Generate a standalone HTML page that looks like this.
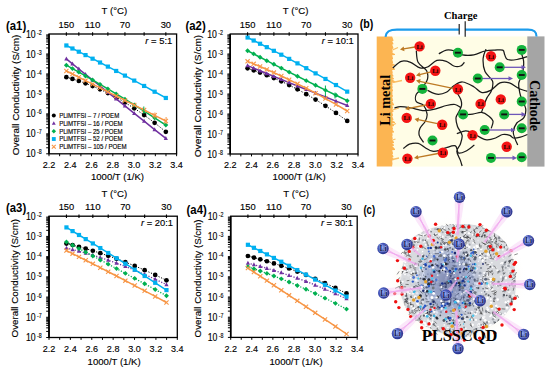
<!DOCTYPE html>
<html><head><meta charset="utf-8"><style>
html,body{margin:0;padding:0;background:#fff;width:550px;height:373px;overflow:hidden}
svg{display:block}
</style></head><body>
<svg width="550" height="373" viewBox="0 0 550 373">
<rect width="550" height="373" fill="#fff"/>
<path d="M66.36 77.21 L72.44 78.92 L78.82 80.94 L85.53 83.31 L92.59 86.09 L100.03 89.32 L107.87 93.08 L116.17 97.44 L124.94 102.48 L134.24 108.3 L144.12 115.03 L154.63 122.81 L165.83 131.8" stroke="#000000" stroke-width="1.0" fill="none" stroke-dasharray="1.2 1.6"/>
<circle cx="66.36" cy="77.21" r="2.35" fill="#000"/>
<circle cx="72.44" cy="78.92" r="2.35" fill="#000"/>
<circle cx="78.82" cy="80.94" r="2.35" fill="#000"/>
<circle cx="85.53" cy="83.31" r="2.35" fill="#000"/>
<circle cx="92.59" cy="86.09" r="2.35" fill="#000"/>
<circle cx="100.03" cy="89.32" r="2.35" fill="#000"/>
<circle cx="107.87" cy="93.08" r="2.35" fill="#000"/>
<circle cx="116.17" cy="97.44" r="2.35" fill="#000"/>
<circle cx="124.94" cy="102.48" r="2.35" fill="#000"/>
<circle cx="134.24" cy="108.3" r="2.35" fill="#000"/>
<circle cx="144.12" cy="115.03" r="2.35" fill="#000"/>
<circle cx="154.63" cy="122.81" r="2.35" fill="#000"/>
<circle cx="165.83" cy="131.8" r="2.35" fill="#000"/>
<path d="M66.36 58.95 L72.44 63.86 L78.82 69 L85.53 74.4 L92.59 80.07 L100.03 86.04 L107.87 92.32 L116.17 98.95 L124.94 105.95 L134.24 113.36 L144.12 121.21 L154.63 129.55 L165.83 138.41" stroke="#7030A0" stroke-width="1.5" fill="none"/>
<path d="M66.36 56.55L68.46 60.55L64.26 60.55Z" fill="#7030A0"/>
<path d="M72.44 61.46L74.54 65.46L70.34 65.46Z" fill="#7030A0"/>
<path d="M78.82 66.6L80.92 70.6L76.72 70.6Z" fill="#7030A0"/>
<path d="M85.53 72L87.63 76L83.43 76Z" fill="#7030A0"/>
<path d="M92.59 77.67L94.69 81.67L90.49 81.67Z" fill="#7030A0"/>
<path d="M100.03 83.64L102.13 87.64L97.93 87.64Z" fill="#7030A0"/>
<path d="M107.87 89.92L109.97 93.92L105.77 93.92Z" fill="#7030A0"/>
<path d="M116.17 96.55L118.27 100.55L114.07 100.55Z" fill="#7030A0"/>
<path d="M124.94 103.55L127.04 107.55L122.84 107.55Z" fill="#7030A0"/>
<path d="M134.24 110.96L136.34 114.96L132.14 114.96Z" fill="#7030A0"/>
<path d="M144.12 118.81L146.22 122.81L142.02 122.81Z" fill="#7030A0"/>
<path d="M154.63 127.15L156.73 131.15L152.53 131.15Z" fill="#7030A0"/>
<path d="M165.83 136.01L167.93 140.01L163.73 140.01Z" fill="#7030A0"/>
<path d="M66.36 65.21 L72.44 68.58 L78.82 72.15 L85.53 75.96 L92.59 80.01 L100.03 84.33 L107.87 88.95 L116.17 93.91 L124.94 99.22 L134.24 104.94 L144.12 111.12 L154.63 117.79 L165.83 125.03" stroke="#00B050" stroke-width="1.5" fill="none"/>
<path d="M66.36 62.76L68.81 65.21L66.36 67.66L63.91 65.21Z" fill="#00B050"/>
<path d="M72.44 66.13L74.89 68.58L72.44 71.03L69.99 68.58Z" fill="#00B050"/>
<path d="M78.82 69.7L81.27 72.15L78.82 74.6L76.37 72.15Z" fill="#00B050"/>
<path d="M85.53 73.51L87.98 75.96L85.53 78.41L83.08 75.96Z" fill="#00B050"/>
<path d="M92.59 77.56L95.04 80.01L92.59 82.46L90.14 80.01Z" fill="#00B050"/>
<path d="M100.03 81.88L102.48 84.33L100.03 86.78L97.58 84.33Z" fill="#00B050"/>
<path d="M107.87 86.5L110.32 88.95L107.87 91.4L105.42 88.95Z" fill="#00B050"/>
<path d="M116.17 91.46L118.62 93.91L116.17 96.36L113.72 93.91Z" fill="#00B050"/>
<path d="M124.94 96.77L127.39 99.22L124.94 101.67L122.49 99.22Z" fill="#00B050"/>
<path d="M134.24 102.49L136.69 104.94L134.24 107.39L131.79 104.94Z" fill="#00B050"/>
<path d="M144.12 108.67L146.57 111.12L144.12 113.57L141.67 111.12Z" fill="#00B050"/>
<path d="M154.63 115.34L157.08 117.79L154.63 120.24L152.18 117.79Z" fill="#00B050"/>
<path d="M165.83 122.58L168.28 125.03L165.83 127.48L163.38 125.03Z" fill="#00B050"/>
<path d="M66.36 45.47 L72.44 48.5 L78.82 51.7 L85.53 55.09 L92.59 58.69 L100.03 62.52 L107.87 66.6 L116.17 70.95 L124.94 75.61 L134.24 80.6 L144.12 85.96 L154.63 91.73 L165.83 97.96" stroke="#00B0F0" stroke-width="1.5" fill="none"/>
<rect x="64.26" y="43.37" width="4.2" height="4.2" fill="#00B0F0"/>
<rect x="70.34" y="46.4" width="4.2" height="4.2" fill="#00B0F0"/>
<rect x="76.72" y="49.6" width="4.2" height="4.2" fill="#00B0F0"/>
<rect x="83.43" y="52.99" width="4.2" height="4.2" fill="#00B0F0"/>
<rect x="90.49" y="56.59" width="4.2" height="4.2" fill="#00B0F0"/>
<rect x="97.93" y="60.42" width="4.2" height="4.2" fill="#00B0F0"/>
<rect x="105.77" y="64.5" width="4.2" height="4.2" fill="#00B0F0"/>
<rect x="114.07" y="68.85" width="4.2" height="4.2" fill="#00B0F0"/>
<rect x="122.84" y="73.51" width="4.2" height="4.2" fill="#00B0F0"/>
<rect x="132.14" y="78.5" width="4.2" height="4.2" fill="#00B0F0"/>
<rect x="142.02" y="83.86" width="4.2" height="4.2" fill="#00B0F0"/>
<rect x="152.53" y="89.63" width="4.2" height="4.2" fill="#00B0F0"/>
<rect x="163.73" y="95.86" width="4.2" height="4.2" fill="#00B0F0"/>
<path d="M66.36 70.99 L72.44 74.04 L78.82 77.24 L85.53 80.6 L92.59 84.14 L100.03 87.88 L107.87 91.81 L116.17 95.98 L124.94 100.39 L134.24 105.06 L144.12 110.03 L154.63 115.32 L165.83 120.96" stroke="#F79646" stroke-width="1.5" fill="none"/>
<path d="M64.26 68.89L68.46 73.09M64.26 73.09L68.46 68.89" stroke="#F79646" stroke-width="1.1" fill="none"/>
<path d="M70.34 71.94L74.54 76.14M70.34 76.14L74.54 71.94" stroke="#F79646" stroke-width="1.1" fill="none"/>
<path d="M76.72 75.14L80.92 79.34M76.72 79.34L80.92 75.14" stroke="#F79646" stroke-width="1.1" fill="none"/>
<path d="M83.43 78.5L87.63 82.7M83.43 82.7L87.63 78.5" stroke="#F79646" stroke-width="1.1" fill="none"/>
<path d="M90.49 82.04L94.69 86.24M90.49 86.24L94.69 82.04" stroke="#F79646" stroke-width="1.1" fill="none"/>
<path d="M97.93 85.78L102.13 89.98M97.93 89.98L102.13 85.78" stroke="#F79646" stroke-width="1.1" fill="none"/>
<path d="M105.77 89.71L109.97 93.91M105.77 93.91L109.97 89.71" stroke="#F79646" stroke-width="1.1" fill="none"/>
<path d="M114.07 93.88L118.27 98.08M114.07 98.08L118.27 93.88" stroke="#F79646" stroke-width="1.1" fill="none"/>
<path d="M122.84 98.29L127.04 102.49M122.84 102.49L127.04 98.29" stroke="#F79646" stroke-width="1.1" fill="none"/>
<path d="M132.14 102.96L136.34 107.16M132.14 107.16L136.34 102.96" stroke="#F79646" stroke-width="1.1" fill="none"/>
<path d="M142.02 107.93L146.22 112.13M142.02 112.13L146.22 107.93" stroke="#F79646" stroke-width="1.1" fill="none"/>
<path d="M152.53 113.22L156.73 117.42M152.53 117.42L156.73 113.22" stroke="#F79646" stroke-width="1.1" fill="none"/>
<path d="M163.73 118.86L167.93 123.06M163.73 123.06L167.93 118.86" stroke="#F79646" stroke-width="1.1" fill="none"/>
<rect x="49" y="34" width="127.6" height="119.8" fill="none" stroke="#000" stroke-width="1.3"/>
<line x1="49" y1="34" x2="49" y2="153.8" stroke="#000" stroke-width="1.6"/>
<path d="M46.2 153.8H49M46.2 147.79H49M46.2 144.27H49M46.2 141.78H49M46.2 139.84H49M46.2 138.26H49M46.2 136.93H49M46.2 135.77H49M46.2 134.75H49M46.2 133.83H49M46.2 127.82H49M46.2 124.31H49M46.2 121.81H49M46.2 119.88H49M46.2 118.3H49M46.2 116.96H49M46.2 115.8H49M46.2 114.78H49M46.2 113.87H49M46.2 107.86H49M46.2 104.34H49M46.2 101.85H49M46.2 99.91H49M46.2 98.33H49M46.2 96.99H49M46.2 95.83H49M46.2 94.81H49M46.2 93.9H49M46.2 87.89H49M46.2 84.37H49M46.2 81.88H49M46.2 79.94H49M46.2 78.36H49M46.2 77.03H49M46.2 75.87H49M46.2 74.85H49M46.2 73.93H49M46.2 67.92H49M46.2 64.41H49M46.2 61.91H49M46.2 59.98H49M46.2 58.4H49M46.2 57.06H49M46.2 55.9H49M46.2 54.88H49M46.2 53.97H49M46.2 47.96H49M46.2 44.44H49M46.2 41.95H49M46.2 40.01H49M46.2 38.43H49M46.2 37.09H49M46.2 35.93H49M46.2 34.91H49" stroke="#000" stroke-width="1.0"/>
<path d="M49 153.8V156.2M59.63 153.8V156.2M70.27 153.8V156.2M80.9 153.8V156.2M91.53 153.8V156.2M102.17 153.8V156.2M112.8 153.8V156.2M123.43 153.8V156.2M134.07 153.8V156.2M144.7 153.8V156.2M155.33 153.8V156.2M165.97 153.8V156.2M176.6 153.8V156.2" stroke="#000" stroke-width="1"/>
<path d="M66.36 32.2V35.8M78.82 32.2V35.8M92.59 32.2V35.8M107.87 32.2V35.8M124.94 32.2V35.8M144.12 32.2V35.8M165.83 32.2V35.8" stroke="#000" stroke-width="1.1"/>
<text x="49" y="168.1" text-anchor="middle" textLength="12.6" lengthAdjust="spacingAndGlyphs" style="font-family:'Liberation Sans',sans-serif;stroke:#000;stroke-width:0.14px;font-size:9.9px" fill="#000">2.2</text>
<text x="70.27" y="168.1" text-anchor="middle" textLength="12.6" lengthAdjust="spacingAndGlyphs" style="font-family:'Liberation Sans',sans-serif;stroke:#000;stroke-width:0.14px;font-size:9.9px" fill="#000">2.4</text>
<text x="91.53" y="168.1" text-anchor="middle" textLength="12.6" lengthAdjust="spacingAndGlyphs" style="font-family:'Liberation Sans',sans-serif;stroke:#000;stroke-width:0.14px;font-size:9.9px" fill="#000">2.6</text>
<text x="112.8" y="168.1" text-anchor="middle" textLength="12.6" lengthAdjust="spacingAndGlyphs" style="font-family:'Liberation Sans',sans-serif;stroke:#000;stroke-width:0.14px;font-size:9.9px" fill="#000">2.8</text>
<text x="134.07" y="168.1" text-anchor="middle" textLength="12.6" lengthAdjust="spacingAndGlyphs" style="font-family:'Liberation Sans',sans-serif;stroke:#000;stroke-width:0.14px;font-size:9.9px" fill="#000">3.0</text>
<text x="155.33" y="168.1" text-anchor="middle" textLength="12.6" lengthAdjust="spacingAndGlyphs" style="font-family:'Liberation Sans',sans-serif;stroke:#000;stroke-width:0.14px;font-size:9.9px" fill="#000">3.2</text>
<text x="176.6" y="168.1" text-anchor="middle" textLength="12.6" lengthAdjust="spacingAndGlyphs" style="font-family:'Liberation Sans',sans-serif;stroke:#000;stroke-width:0.14px;font-size:9.9px" fill="#000">3.4</text>
<text x="66.36" y="27.9" text-anchor="middle" textLength="15.6" lengthAdjust="spacingAndGlyphs" style="font-family:'Liberation Sans',sans-serif;stroke:#000;stroke-width:0.14px;font-size:9.9px" fill="#000">150</text>
<text x="92.59" y="27.9" text-anchor="middle" textLength="15.6" lengthAdjust="spacingAndGlyphs" style="font-family:'Liberation Sans',sans-serif;stroke:#000;stroke-width:0.14px;font-size:9.9px" fill="#000">110</text>
<text x="124.94" y="27.9" text-anchor="middle" textLength="10.4" lengthAdjust="spacingAndGlyphs" style="font-family:'Liberation Sans',sans-serif;stroke:#000;stroke-width:0.14px;font-size:9.9px" fill="#000">70</text>
<text x="165.83" y="27.9" text-anchor="middle" textLength="10.4" lengthAdjust="spacingAndGlyphs" style="font-family:'Liberation Sans',sans-serif;stroke:#000;stroke-width:0.14px;font-size:9.9px" fill="#000">30</text>
<text x="101.6" y="13.9" textLength="25.7" lengthAdjust="spacingAndGlyphs" style="font-family:'Liberation Sans',sans-serif;stroke:#000;stroke-width:0.14px;font-size:9.8px" fill="#000">T (°C)</text>
<text x="90.9" y="180" textLength="53.1" lengthAdjust="spacingAndGlyphs" style="font-family:'Liberation Sans',sans-serif;stroke:#000;stroke-width:0.14px;font-size:9.8px" fill="#000">1000/T (1/K)</text>
<text x="26" y="37.6" textLength="9.7" lengthAdjust="spacingAndGlyphs" style="font-family:'Liberation Sans',sans-serif;stroke:#000;stroke-width:0.14px;font-size:10.1px" fill="#000">10</text>
<text x="37" y="34.6" textLength="4.7" lengthAdjust="spacingAndGlyphs" style="font-family:'Liberation Sans',sans-serif;stroke:#000;stroke-width:0.14px;font-size:6.3px" fill="#000">-2</text>
<text x="26" y="57.57" textLength="9.7" lengthAdjust="spacingAndGlyphs" style="font-family:'Liberation Sans',sans-serif;stroke:#000;stroke-width:0.14px;font-size:10.1px" fill="#000">10</text>
<text x="37" y="54.57" textLength="4.7" lengthAdjust="spacingAndGlyphs" style="font-family:'Liberation Sans',sans-serif;stroke:#000;stroke-width:0.14px;font-size:6.3px" fill="#000">-3</text>
<text x="26" y="77.53" textLength="9.7" lengthAdjust="spacingAndGlyphs" style="font-family:'Liberation Sans',sans-serif;stroke:#000;stroke-width:0.14px;font-size:10.1px" fill="#000">10</text>
<text x="37" y="74.53" textLength="4.7" lengthAdjust="spacingAndGlyphs" style="font-family:'Liberation Sans',sans-serif;stroke:#000;stroke-width:0.14px;font-size:6.3px" fill="#000">-4</text>
<text x="26" y="97.5" textLength="9.7" lengthAdjust="spacingAndGlyphs" style="font-family:'Liberation Sans',sans-serif;stroke:#000;stroke-width:0.14px;font-size:10.1px" fill="#000">10</text>
<text x="37" y="94.5" textLength="4.7" lengthAdjust="spacingAndGlyphs" style="font-family:'Liberation Sans',sans-serif;stroke:#000;stroke-width:0.14px;font-size:6.3px" fill="#000">-5</text>
<text x="26" y="117.47" textLength="9.7" lengthAdjust="spacingAndGlyphs" style="font-family:'Liberation Sans',sans-serif;stroke:#000;stroke-width:0.14px;font-size:10.1px" fill="#000">10</text>
<text x="37" y="114.47" textLength="4.7" lengthAdjust="spacingAndGlyphs" style="font-family:'Liberation Sans',sans-serif;stroke:#000;stroke-width:0.14px;font-size:6.3px" fill="#000">-6</text>
<text x="26" y="137.43" textLength="9.7" lengthAdjust="spacingAndGlyphs" style="font-family:'Liberation Sans',sans-serif;stroke:#000;stroke-width:0.14px;font-size:10.1px" fill="#000">10</text>
<text x="37" y="134.43" textLength="4.7" lengthAdjust="spacingAndGlyphs" style="font-family:'Liberation Sans',sans-serif;stroke:#000;stroke-width:0.14px;font-size:6.3px" fill="#000">-7</text>
<text x="26" y="157.4" textLength="9.7" lengthAdjust="spacingAndGlyphs" style="font-family:'Liberation Sans',sans-serif;stroke:#000;stroke-width:0.14px;font-size:10.1px" fill="#000">10</text>
<text x="37" y="154.4" textLength="4.7" lengthAdjust="spacingAndGlyphs" style="font-family:'Liberation Sans',sans-serif;stroke:#000;stroke-width:0.14px;font-size:6.3px" fill="#000">-8</text>
<text x="18.8" y="94.9" text-anchor="middle" transform="rotate(-90 18.8 94.9)" textLength="120.5" lengthAdjust="spacingAndGlyphs" style="font-family:'Liberation Sans',sans-serif;stroke:#000;stroke-width:0.14px;font-size:9.9px" fill="#000">Overall Conductivity (S/cm)</text>
<text x="172.3" y="44.1" text-anchor="end" textLength="27" lengthAdjust="spacingAndGlyphs" style="font-family:'Liberation Sans',sans-serif;stroke:#000;stroke-width:0.14px;font-size:9.7px" fill="#000"><tspan style="font-style:italic">r</tspan> = 5:1</text>
<text x="6" y="30" textLength="20.2" lengthAdjust="spacingAndGlyphs" style="font-family:'Liberation Sans',sans-serif;stroke:#000;stroke-width:0.14px;font-size:12.4px;font-weight:bold;stroke:none" fill="#000">(a1)</text>
<path d="M247.58 68.31 L253.68 70.31 L260.07 72.58 L266.79 75.15 L273.86 78.06 L281.31 81.36 L289.17 85.1 L297.47 89.34 L306.26 94.15 L315.58 99.61 L325.47 105.82 L335.99 112.88 L347.21 120.93" stroke="#000000" stroke-width="1.0" fill="none" stroke-dasharray="1.2 1.6"/>
<circle cx="247.58" cy="68.31" r="2.35" fill="#000"/>
<circle cx="253.68" cy="70.31" r="2.35" fill="#000"/>
<circle cx="260.07" cy="72.58" r="2.35" fill="#000"/>
<circle cx="266.79" cy="75.15" r="2.35" fill="#000"/>
<circle cx="273.86" cy="78.06" r="2.35" fill="#000"/>
<circle cx="281.31" cy="81.36" r="2.35" fill="#000"/>
<circle cx="289.17" cy="85.1" r="2.35" fill="#000"/>
<circle cx="297.47" cy="89.34" r="2.35" fill="#000"/>
<circle cx="306.26" cy="94.15" r="2.35" fill="#000"/>
<circle cx="315.58" cy="99.61" r="2.35" fill="#000"/>
<circle cx="325.47" cy="105.82" r="2.35" fill="#000"/>
<circle cx="335.99" cy="112.88" r="2.35" fill="#000"/>
<circle cx="347.21" cy="120.93" r="2.35" fill="#000"/>
<path d="M247.58 65.62 L253.68 68.14 L260.07 70.78 L266.79 73.53 L273.86 76.41 L281.31 79.44 L289.17 82.61 L297.47 85.94 L306.26 89.45 L315.58 93.14 L325.47 97.04 L335.99 101.15 L347.21 105.5" stroke="#7030A0" stroke-width="1.5" fill="none"/>
<path d="M247.58 63.22L249.68 67.22L245.48 67.22Z" fill="#7030A0"/>
<path d="M253.68 65.74L255.78 69.74L251.58 69.74Z" fill="#7030A0"/>
<path d="M260.07 68.38L262.17 72.38L257.97 72.38Z" fill="#7030A0"/>
<path d="M266.79 71.13L268.89 75.13L264.69 75.13Z" fill="#7030A0"/>
<path d="M273.86 74.01L275.96 78.01L271.76 78.01Z" fill="#7030A0"/>
<path d="M281.31 77.04L283.41 81.04L279.21 81.04Z" fill="#7030A0"/>
<path d="M289.17 80.21L291.27 84.21L287.07 84.21Z" fill="#7030A0"/>
<path d="M297.47 83.54L299.57 87.54L295.37 87.54Z" fill="#7030A0"/>
<path d="M306.26 87.05L308.36 91.05L304.16 91.05Z" fill="#7030A0"/>
<path d="M315.58 90.74L317.68 94.74L313.48 94.74Z" fill="#7030A0"/>
<path d="M325.47 94.64L327.57 98.64L323.37 98.64Z" fill="#7030A0"/>
<path d="M335.99 98.75L338.09 102.75L333.89 102.75Z" fill="#7030A0"/>
<path d="M347.21 103.1L349.31 107.1L345.11 107.1Z" fill="#7030A0"/>
<path d="M247.58 50.74 L253.68 53.91 L260.07 57.22 L266.79 60.69 L273.86 64.31 L281.31 68.1 L289.17 72.08 L297.47 76.26 L306.26 80.65 L315.58 85.27 L325.47 90.13 L335.99 95.26 L347.21 100.69" stroke="#00B050" stroke-width="1.5" fill="none"/>
<path d="M247.58 48.29L250.03 50.74L247.58 53.19L245.13 50.74Z" fill="#00B050"/>
<path d="M253.68 51.46L256.13 53.91L253.68 56.36L251.23 53.91Z" fill="#00B050"/>
<path d="M260.07 54.77L262.52 57.22L260.07 59.67L257.62 57.22Z" fill="#00B050"/>
<path d="M266.79 58.24L269.24 60.69L266.79 63.14L264.34 60.69Z" fill="#00B050"/>
<path d="M273.86 61.86L276.31 64.31L273.86 66.76L271.41 64.31Z" fill="#00B050"/>
<path d="M281.31 65.65L283.76 68.1L281.31 70.55L278.86 68.1Z" fill="#00B050"/>
<path d="M289.17 69.63L291.62 72.08L289.17 74.53L286.72 72.08Z" fill="#00B050"/>
<path d="M297.47 73.81L299.92 76.26L297.47 78.71L295.02 76.26Z" fill="#00B050"/>
<path d="M306.26 78.2L308.71 80.65L306.26 83.1L303.81 80.65Z" fill="#00B050"/>
<path d="M315.58 82.82L318.03 85.27L315.58 87.72L313.13 85.27Z" fill="#00B050"/>
<path d="M325.47 87.68L327.92 90.13L325.47 92.58L323.02 90.13Z" fill="#00B050"/>
<path d="M335.99 92.81L338.44 95.26L335.99 97.71L333.54 95.26Z" fill="#00B050"/>
<path d="M347.21 98.24L349.66 100.69L347.21 103.14L344.76 100.69Z" fill="#00B050"/>
<path d="M247.58 37.51 L253.68 40.53 L260.07 43.75 L266.79 47.17 L273.86 50.81 L281.31 54.71 L289.17 58.88 L297.47 63.36 L306.26 68.17 L315.58 73.36 L325.47 78.96 L335.99 85.03 L347.21 91.63" stroke="#00B0F0" stroke-width="1.5" fill="none"/>
<rect x="245.48" y="35.41" width="4.2" height="4.2" fill="#00B0F0"/>
<rect x="251.58" y="38.43" width="4.2" height="4.2" fill="#00B0F0"/>
<rect x="257.97" y="41.65" width="4.2" height="4.2" fill="#00B0F0"/>
<rect x="264.69" y="45.07" width="4.2" height="4.2" fill="#00B0F0"/>
<rect x="271.76" y="48.71" width="4.2" height="4.2" fill="#00B0F0"/>
<rect x="279.21" y="52.61" width="4.2" height="4.2" fill="#00B0F0"/>
<rect x="287.07" y="56.78" width="4.2" height="4.2" fill="#00B0F0"/>
<rect x="295.37" y="61.26" width="4.2" height="4.2" fill="#00B0F0"/>
<rect x="304.16" y="66.07" width="4.2" height="4.2" fill="#00B0F0"/>
<rect x="313.48" y="71.26" width="4.2" height="4.2" fill="#00B0F0"/>
<rect x="323.37" y="76.86" width="4.2" height="4.2" fill="#00B0F0"/>
<rect x="333.89" y="82.93" width="4.2" height="4.2" fill="#00B0F0"/>
<rect x="345.11" y="89.53" width="4.2" height="4.2" fill="#00B0F0"/>
<path d="M247.58 61.35 L253.68 63.84 L260.07 66.53 L266.79 69.45 L273.86 72.6 L281.31 76.03 L289.17 79.76 L297.47 83.84 L306.26 88.29 L315.58 93.17 L325.47 98.54 L335.99 104.45 L347.21 110.99" stroke="#F79646" stroke-width="1.5" fill="none"/>
<path d="M245.48 59.25L249.68 63.45M245.48 63.45L249.68 59.25" stroke="#F79646" stroke-width="1.1" fill="none"/>
<path d="M251.58 61.74L255.78 65.94M251.58 65.94L255.78 61.74" stroke="#F79646" stroke-width="1.1" fill="none"/>
<path d="M257.97 64.43L262.17 68.63M257.97 68.63L262.17 64.43" stroke="#F79646" stroke-width="1.1" fill="none"/>
<path d="M264.69 67.35L268.89 71.55M264.69 71.55L268.89 67.35" stroke="#F79646" stroke-width="1.1" fill="none"/>
<path d="M271.76 70.5L275.96 74.7M271.76 74.7L275.96 70.5" stroke="#F79646" stroke-width="1.1" fill="none"/>
<path d="M279.21 73.93L283.41 78.13M279.21 78.13L283.41 73.93" stroke="#F79646" stroke-width="1.1" fill="none"/>
<path d="M287.07 77.66L291.27 81.86M287.07 81.86L291.27 77.66" stroke="#F79646" stroke-width="1.1" fill="none"/>
<path d="M295.37 81.74L299.57 85.94M295.37 85.94L299.57 81.74" stroke="#F79646" stroke-width="1.1" fill="none"/>
<path d="M304.16 86.19L308.36 90.39M304.16 90.39L308.36 86.19" stroke="#F79646" stroke-width="1.1" fill="none"/>
<path d="M313.48 91.07L317.68 95.27M313.48 95.27L317.68 91.07" stroke="#F79646" stroke-width="1.1" fill="none"/>
<path d="M323.37 96.44L327.57 100.64M323.37 100.64L327.57 96.44" stroke="#F79646" stroke-width="1.1" fill="none"/>
<path d="M333.89 102.35L338.09 106.55M333.89 106.55L338.09 102.35" stroke="#F79646" stroke-width="1.1" fill="none"/>
<path d="M345.11 108.89L349.31 113.09M345.11 113.09L349.31 108.89" stroke="#F79646" stroke-width="1.1" fill="none"/>
<rect x="230.2" y="34" width="127.8" height="120" fill="none" stroke="#000" stroke-width="1.3"/>
<line x1="230.2" y1="34" x2="230.2" y2="154" stroke="#000" stroke-width="1.6"/>
<path d="M227.4 154H230.2M227.4 147.98H230.2M227.4 144.46H230.2M227.4 141.96H230.2M227.4 140.02H230.2M227.4 138.44H230.2M227.4 137.1H230.2M227.4 135.94H230.2M227.4 134.92H230.2M227.4 134H230.2M227.4 127.98H230.2M227.4 124.46H230.2M227.4 121.96H230.2M227.4 120.02H230.2M227.4 118.44H230.2M227.4 117.1H230.2M227.4 115.94H230.2M227.4 114.92H230.2M227.4 114H230.2M227.4 107.98H230.2M227.4 104.46H230.2M227.4 101.96H230.2M227.4 100.02H230.2M227.4 98.44H230.2M227.4 97.1H230.2M227.4 95.94H230.2M227.4 94.92H230.2M227.4 94H230.2M227.4 87.98H230.2M227.4 84.46H230.2M227.4 81.96H230.2M227.4 80.02H230.2M227.4 78.44H230.2M227.4 77.1H230.2M227.4 75.94H230.2M227.4 74.92H230.2M227.4 74H230.2M227.4 67.98H230.2M227.4 64.46H230.2M227.4 61.96H230.2M227.4 60.02H230.2M227.4 58.44H230.2M227.4 57.1H230.2M227.4 55.94H230.2M227.4 54.92H230.2M227.4 54H230.2M227.4 47.98H230.2M227.4 44.46H230.2M227.4 41.96H230.2M227.4 40.02H230.2M227.4 38.44H230.2M227.4 37.1H230.2M227.4 35.94H230.2M227.4 34.92H230.2" stroke="#000" stroke-width="1.0"/>
<path d="M230.2 154V156.4M240.85 154V156.4M251.5 154V156.4M262.15 154V156.4M272.8 154V156.4M283.45 154V156.4M294.1 154V156.4M304.75 154V156.4M315.4 154V156.4M326.05 154V156.4M336.7 154V156.4M347.35 154V156.4M358 154V156.4" stroke="#000" stroke-width="1"/>
<path d="M247.58 32.2V35.8M260.07 32.2V35.8M273.86 32.2V35.8M289.17 32.2V35.8M306.26 32.2V35.8M325.47 32.2V35.8M347.21 32.2V35.8" stroke="#000" stroke-width="1.1"/>
<text x="230.2" y="168.3" text-anchor="middle" textLength="12.6" lengthAdjust="spacingAndGlyphs" style="font-family:'Liberation Sans',sans-serif;stroke:#000;stroke-width:0.14px;font-size:9.9px" fill="#000">2.2</text>
<text x="251.5" y="168.3" text-anchor="middle" textLength="12.6" lengthAdjust="spacingAndGlyphs" style="font-family:'Liberation Sans',sans-serif;stroke:#000;stroke-width:0.14px;font-size:9.9px" fill="#000">2.4</text>
<text x="272.8" y="168.3" text-anchor="middle" textLength="12.6" lengthAdjust="spacingAndGlyphs" style="font-family:'Liberation Sans',sans-serif;stroke:#000;stroke-width:0.14px;font-size:9.9px" fill="#000">2.6</text>
<text x="294.1" y="168.3" text-anchor="middle" textLength="12.6" lengthAdjust="spacingAndGlyphs" style="font-family:'Liberation Sans',sans-serif;stroke:#000;stroke-width:0.14px;font-size:9.9px" fill="#000">2.8</text>
<text x="315.4" y="168.3" text-anchor="middle" textLength="12.6" lengthAdjust="spacingAndGlyphs" style="font-family:'Liberation Sans',sans-serif;stroke:#000;stroke-width:0.14px;font-size:9.9px" fill="#000">3.0</text>
<text x="336.7" y="168.3" text-anchor="middle" textLength="12.6" lengthAdjust="spacingAndGlyphs" style="font-family:'Liberation Sans',sans-serif;stroke:#000;stroke-width:0.14px;font-size:9.9px" fill="#000">3.2</text>
<text x="358" y="168.3" text-anchor="middle" textLength="12.6" lengthAdjust="spacingAndGlyphs" style="font-family:'Liberation Sans',sans-serif;stroke:#000;stroke-width:0.14px;font-size:9.9px" fill="#000">3.4</text>
<text x="247.58" y="27.9" text-anchor="middle" textLength="15.6" lengthAdjust="spacingAndGlyphs" style="font-family:'Liberation Sans',sans-serif;stroke:#000;stroke-width:0.14px;font-size:9.9px" fill="#000">150</text>
<text x="273.86" y="27.9" text-anchor="middle" textLength="15.6" lengthAdjust="spacingAndGlyphs" style="font-family:'Liberation Sans',sans-serif;stroke:#000;stroke-width:0.14px;font-size:9.9px" fill="#000">110</text>
<text x="306.26" y="27.9" text-anchor="middle" textLength="10.4" lengthAdjust="spacingAndGlyphs" style="font-family:'Liberation Sans',sans-serif;stroke:#000;stroke-width:0.14px;font-size:9.9px" fill="#000">70</text>
<text x="347.21" y="27.9" text-anchor="middle" textLength="10.4" lengthAdjust="spacingAndGlyphs" style="font-family:'Liberation Sans',sans-serif;stroke:#000;stroke-width:0.14px;font-size:9.9px" fill="#000">30</text>
<text x="282.8" y="13.9" textLength="25.7" lengthAdjust="spacingAndGlyphs" style="font-family:'Liberation Sans',sans-serif;stroke:#000;stroke-width:0.14px;font-size:9.8px" fill="#000">T (°C)</text>
<text x="272.6" y="180.2" textLength="53.1" lengthAdjust="spacingAndGlyphs" style="font-family:'Liberation Sans',sans-serif;stroke:#000;stroke-width:0.14px;font-size:9.8px" fill="#000">1000/T (1/K)</text>
<text x="207.2" y="37.6" textLength="9.7" lengthAdjust="spacingAndGlyphs" style="font-family:'Liberation Sans',sans-serif;stroke:#000;stroke-width:0.14px;font-size:10.1px" fill="#000">10</text>
<text x="218.2" y="34.6" textLength="4.7" lengthAdjust="spacingAndGlyphs" style="font-family:'Liberation Sans',sans-serif;stroke:#000;stroke-width:0.14px;font-size:6.3px" fill="#000">-2</text>
<text x="207.2" y="57.6" textLength="9.7" lengthAdjust="spacingAndGlyphs" style="font-family:'Liberation Sans',sans-serif;stroke:#000;stroke-width:0.14px;font-size:10.1px" fill="#000">10</text>
<text x="218.2" y="54.6" textLength="4.7" lengthAdjust="spacingAndGlyphs" style="font-family:'Liberation Sans',sans-serif;stroke:#000;stroke-width:0.14px;font-size:6.3px" fill="#000">-3</text>
<text x="207.2" y="77.6" textLength="9.7" lengthAdjust="spacingAndGlyphs" style="font-family:'Liberation Sans',sans-serif;stroke:#000;stroke-width:0.14px;font-size:10.1px" fill="#000">10</text>
<text x="218.2" y="74.6" textLength="4.7" lengthAdjust="spacingAndGlyphs" style="font-family:'Liberation Sans',sans-serif;stroke:#000;stroke-width:0.14px;font-size:6.3px" fill="#000">-4</text>
<text x="207.2" y="97.6" textLength="9.7" lengthAdjust="spacingAndGlyphs" style="font-family:'Liberation Sans',sans-serif;stroke:#000;stroke-width:0.14px;font-size:10.1px" fill="#000">10</text>
<text x="218.2" y="94.6" textLength="4.7" lengthAdjust="spacingAndGlyphs" style="font-family:'Liberation Sans',sans-serif;stroke:#000;stroke-width:0.14px;font-size:6.3px" fill="#000">-5</text>
<text x="207.2" y="117.6" textLength="9.7" lengthAdjust="spacingAndGlyphs" style="font-family:'Liberation Sans',sans-serif;stroke:#000;stroke-width:0.14px;font-size:10.1px" fill="#000">10</text>
<text x="218.2" y="114.6" textLength="4.7" lengthAdjust="spacingAndGlyphs" style="font-family:'Liberation Sans',sans-serif;stroke:#000;stroke-width:0.14px;font-size:6.3px" fill="#000">-6</text>
<text x="207.2" y="137.6" textLength="9.7" lengthAdjust="spacingAndGlyphs" style="font-family:'Liberation Sans',sans-serif;stroke:#000;stroke-width:0.14px;font-size:10.1px" fill="#000">10</text>
<text x="218.2" y="134.6" textLength="4.7" lengthAdjust="spacingAndGlyphs" style="font-family:'Liberation Sans',sans-serif;stroke:#000;stroke-width:0.14px;font-size:6.3px" fill="#000">-7</text>
<text x="207.2" y="157.6" textLength="9.7" lengthAdjust="spacingAndGlyphs" style="font-family:'Liberation Sans',sans-serif;stroke:#000;stroke-width:0.14px;font-size:10.1px" fill="#000">10</text>
<text x="218.2" y="154.6" textLength="4.7" lengthAdjust="spacingAndGlyphs" style="font-family:'Liberation Sans',sans-serif;stroke:#000;stroke-width:0.14px;font-size:6.3px" fill="#000">-8</text>
<text x="201.2" y="96" text-anchor="middle" transform="rotate(-90 201.2 96)" textLength="122.5" lengthAdjust="spacingAndGlyphs" style="font-family:'Liberation Sans',sans-serif;stroke:#000;stroke-width:0.14px;font-size:9.9px" fill="#000">Overall Conductivity (S/cm)</text>
<text x="353.7" y="44.1" text-anchor="end" textLength="32" lengthAdjust="spacingAndGlyphs" style="font-family:'Liberation Sans',sans-serif;stroke:#000;stroke-width:0.14px;font-size:9.7px" fill="#000"><tspan style="font-style:italic">r</tspan> = 10:1</text>
<text x="185.5" y="29.6" textLength="20.2" lengthAdjust="spacingAndGlyphs" style="font-family:'Liberation Sans',sans-serif;stroke:#000;stroke-width:0.14px;font-size:12.4px;font-weight:bold;stroke:none" fill="#000">(a2)</text>
<path d="M66.45 243.54 L72.57 245.06 L78.99 246.76 L85.73 248.65 L92.83 250.77 L100.31 253.15 L108.2 255.8 L116.53 258.78 L125.36 262.13 L134.71 265.89 L144.64 270.13 L155.21 274.91 L166.47 280.32" stroke="#000000" stroke-width="1.0" fill="none" stroke-dasharray="1.2 1.6"/>
<circle cx="66.45" cy="243.54" r="2.35" fill="#000"/>
<circle cx="72.57" cy="245.06" r="2.35" fill="#000"/>
<circle cx="78.99" cy="246.76" r="2.35" fill="#000"/>
<circle cx="85.73" cy="248.65" r="2.35" fill="#000"/>
<circle cx="92.83" cy="250.77" r="2.35" fill="#000"/>
<circle cx="100.31" cy="253.15" r="2.35" fill="#000"/>
<circle cx="108.2" cy="255.8" r="2.35" fill="#000"/>
<circle cx="116.53" cy="258.78" r="2.35" fill="#000"/>
<circle cx="125.36" cy="262.13" r="2.35" fill="#000"/>
<circle cx="134.71" cy="265.89" r="2.35" fill="#000"/>
<circle cx="144.64" cy="270.13" r="2.35" fill="#000"/>
<circle cx="155.21" cy="274.91" r="2.35" fill="#000"/>
<circle cx="166.47" cy="280.32" r="2.35" fill="#000"/>
<path d="M66.45 248.07 L72.57 249.56 L78.99 251.24 L85.73 253.11 L92.83 255.2 L100.31 257.55 L108.2 260.18 L116.53 263.14 L125.36 266.46 L134.71 270.2 L144.64 274.42 L155.21 279.18 L166.47 284.57" stroke="#7030A0" stroke-width="1.3" fill="none" stroke-dasharray="1.2 1.6"/>
<path d="M66.45 245.67L68.55 249.67L64.35 249.67Z" fill="#7030A0"/>
<path d="M72.57 247.16L74.67 251.16L70.47 251.16Z" fill="#7030A0"/>
<path d="M78.99 248.84L81.09 252.84L76.89 252.84Z" fill="#7030A0"/>
<path d="M85.73 250.71L87.83 254.71L83.63 254.71Z" fill="#7030A0"/>
<path d="M92.83 252.8L94.93 256.8L90.73 256.8Z" fill="#7030A0"/>
<path d="M100.31 255.15L102.41 259.15L98.21 259.15Z" fill="#7030A0"/>
<path d="M108.2 257.78L110.3 261.78L106.1 261.78Z" fill="#7030A0"/>
<path d="M116.53 260.74L118.63 264.74L114.43 264.74Z" fill="#7030A0"/>
<path d="M125.36 264.06L127.46 268.06L123.26 268.06Z" fill="#7030A0"/>
<path d="M134.71 267.8L136.81 271.8L132.61 271.8Z" fill="#7030A0"/>
<path d="M144.64 272.02L146.74 276.02L142.54 276.02Z" fill="#7030A0"/>
<path d="M155.21 276.78L157.31 280.78L153.11 280.78Z" fill="#7030A0"/>
<path d="M166.47 282.17L168.57 286.17L164.37 286.17Z" fill="#7030A0"/>
<path d="M66.45 242.06 L72.57 245.26 L78.99 248.64 L85.73 252.2 L92.83 255.95 L100.31 259.93 L108.2 264.14 L116.53 268.6 L125.36 273.35 L134.71 278.4 L144.64 283.79 L155.21 289.55 L166.47 295.73" stroke="#00B050" stroke-width="1.3" fill="none" stroke-dasharray="1.2 1.6"/>
<path d="M66.45 239.61L68.9 242.06L66.45 244.51L64 242.06Z" fill="#00B050"/>
<path d="M72.57 242.81L75.02 245.26L72.57 247.71L70.12 245.26Z" fill="#00B050"/>
<path d="M78.99 246.19L81.44 248.64L78.99 251.09L76.54 248.64Z" fill="#00B050"/>
<path d="M85.73 249.75L88.18 252.2L85.73 254.65L83.28 252.2Z" fill="#00B050"/>
<path d="M92.83 253.5L95.28 255.95L92.83 258.4L90.38 255.95Z" fill="#00B050"/>
<path d="M100.31 257.48L102.76 259.93L100.31 262.38L97.86 259.93Z" fill="#00B050"/>
<path d="M108.2 261.69L110.65 264.14L108.2 266.59L105.75 264.14Z" fill="#00B050"/>
<path d="M116.53 266.15L118.98 268.6L116.53 271.05L114.08 268.6Z" fill="#00B050"/>
<path d="M125.36 270.9L127.81 273.35L125.36 275.8L122.91 273.35Z" fill="#00B050"/>
<path d="M134.71 275.95L137.16 278.4L134.71 280.85L132.26 278.4Z" fill="#00B050"/>
<path d="M144.64 281.34L147.09 283.79L144.64 286.24L142.19 283.79Z" fill="#00B050"/>
<path d="M155.21 287.1L157.66 289.55L155.21 292L152.76 289.55Z" fill="#00B050"/>
<path d="M166.47 293.28L168.92 295.73L166.47 298.18L164.02 295.73Z" fill="#00B050"/>
<path d="M66.45 227.41 L72.57 231.1 L78.99 234.99 L85.73 239.11 L92.83 243.46 L100.31 248.07 L108.2 252.97 L116.53 258.18 L125.36 263.73 L134.71 269.65 L144.64 275.99 L155.21 282.79 L166.47 290.1" stroke="#00B0F0" stroke-width="1.5" fill="none"/>
<rect x="64.35" y="225.31" width="4.2" height="4.2" fill="#00B0F0"/>
<rect x="70.47" y="229" width="4.2" height="4.2" fill="#00B0F0"/>
<rect x="76.89" y="232.89" width="4.2" height="4.2" fill="#00B0F0"/>
<rect x="83.63" y="237.01" width="4.2" height="4.2" fill="#00B0F0"/>
<rect x="90.73" y="241.36" width="4.2" height="4.2" fill="#00B0F0"/>
<rect x="98.21" y="245.97" width="4.2" height="4.2" fill="#00B0F0"/>
<rect x="106.1" y="250.87" width="4.2" height="4.2" fill="#00B0F0"/>
<rect x="114.43" y="256.08" width="4.2" height="4.2" fill="#00B0F0"/>
<rect x="123.26" y="261.63" width="4.2" height="4.2" fill="#00B0F0"/>
<rect x="132.61" y="267.55" width="4.2" height="4.2" fill="#00B0F0"/>
<rect x="142.54" y="273.89" width="4.2" height="4.2" fill="#00B0F0"/>
<rect x="153.11" y="280.69" width="4.2" height="4.2" fill="#00B0F0"/>
<rect x="164.37" y="288" width="4.2" height="4.2" fill="#00B0F0"/>
<path d="M66.45 250.6 L72.57 253.65 L78.99 256.87 L85.73 260.26 L92.83 263.86 L100.31 267.68 L108.2 271.73 L116.53 276.04 L125.36 280.64 L134.71 285.55 L144.64 290.81 L155.21 296.45 L166.47 302.51" stroke="#F79646" stroke-width="1.5" fill="none"/>
<path d="M64.35 248.5L68.55 252.7M64.35 252.7L68.55 248.5" stroke="#F79646" stroke-width="1.1" fill="none"/>
<path d="M70.47 251.55L74.67 255.75M70.47 255.75L74.67 251.55" stroke="#F79646" stroke-width="1.1" fill="none"/>
<path d="M76.89 254.77L81.09 258.97M76.89 258.97L81.09 254.77" stroke="#F79646" stroke-width="1.1" fill="none"/>
<path d="M83.63 258.16L87.83 262.36M83.63 262.36L87.83 258.16" stroke="#F79646" stroke-width="1.1" fill="none"/>
<path d="M90.73 261.76L94.93 265.96M90.73 265.96L94.93 261.76" stroke="#F79646" stroke-width="1.1" fill="none"/>
<path d="M98.21 265.58L102.41 269.78M98.21 269.78L102.41 265.58" stroke="#F79646" stroke-width="1.1" fill="none"/>
<path d="M106.1 269.63L110.3 273.83M106.1 273.83L110.3 269.63" stroke="#F79646" stroke-width="1.1" fill="none"/>
<path d="M114.43 273.94L118.63 278.14M114.43 278.14L118.63 273.94" stroke="#F79646" stroke-width="1.1" fill="none"/>
<path d="M123.26 278.54L127.46 282.74M123.26 282.74L127.46 278.54" stroke="#F79646" stroke-width="1.1" fill="none"/>
<path d="M132.61 283.45L136.81 287.65M132.61 287.65L136.81 283.45" stroke="#F79646" stroke-width="1.1" fill="none"/>
<path d="M142.54 288.71L146.74 292.91M142.54 292.91L146.74 288.71" stroke="#F79646" stroke-width="1.1" fill="none"/>
<path d="M153.11 294.35L157.31 298.55M153.11 298.55L157.31 294.35" stroke="#F79646" stroke-width="1.1" fill="none"/>
<path d="M164.37 300.41L168.57 304.61M164.37 304.61L168.57 300.41" stroke="#F79646" stroke-width="1.1" fill="none"/>
<rect x="49" y="216.2" width="128.3" height="121.3" fill="none" stroke="#000" stroke-width="1.3"/>
<line x1="49" y1="216.2" x2="49" y2="337.5" stroke="#000" stroke-width="1.6"/>
<path d="M46.2 337.5H49M46.2 331.41H49M46.2 327.85H49M46.2 325.33H49M46.2 323.37H49M46.2 321.77H49M46.2 320.41H49M46.2 319.24H49M46.2 318.21H49M46.2 317.28H49M46.2 311.2H49M46.2 307.64H49M46.2 305.11H49M46.2 303.15H49M46.2 301.55H49M46.2 300.2H49M46.2 299.03H49M46.2 297.99H49M46.2 297.07H49M46.2 290.98H49M46.2 287.42H49M46.2 284.9H49M46.2 282.94H49M46.2 281.34H49M46.2 279.98H49M46.2 278.81H49M46.2 277.78H49M46.2 276.85H49M46.2 270.76H49M46.2 267.2H49M46.2 264.68H49M46.2 262.72H49M46.2 261.12H49M46.2 259.76H49M46.2 258.59H49M46.2 257.56H49M46.2 256.63H49M46.2 250.55H49M46.2 246.99H49M46.2 244.46H49M46.2 242.5H49M46.2 240.9H49M46.2 239.55H49M46.2 238.38H49M46.2 237.34H49M46.2 236.42H49M46.2 230.33H49M46.2 226.77H49M46.2 224.25H49M46.2 222.29H49M46.2 220.69H49M46.2 219.33H49M46.2 218.16H49M46.2 217.13H49" stroke="#000" stroke-width="1.0"/>
<path d="M49 337.5V339.9M59.69 337.5V339.9M70.38 337.5V339.9M81.07 337.5V339.9M91.77 337.5V339.9M102.46 337.5V339.9M113.15 337.5V339.9M123.84 337.5V339.9M134.53 337.5V339.9M145.23 337.5V339.9M155.92 337.5V339.9M166.61 337.5V339.9M177.3 337.5V339.9" stroke="#000" stroke-width="1"/>
<path d="M66.45 214.4V218M78.99 214.4V218M92.83 214.4V218M108.2 214.4V218M125.36 214.4V218M144.64 214.4V218M166.47 214.4V218" stroke="#000" stroke-width="1.1"/>
<text x="49" y="351.8" text-anchor="middle" textLength="12.6" lengthAdjust="spacingAndGlyphs" style="font-family:'Liberation Sans',sans-serif;stroke:#000;stroke-width:0.14px;font-size:9.9px" fill="#000">2.2</text>
<text x="70.38" y="351.8" text-anchor="middle" textLength="12.6" lengthAdjust="spacingAndGlyphs" style="font-family:'Liberation Sans',sans-serif;stroke:#000;stroke-width:0.14px;font-size:9.9px" fill="#000">2.4</text>
<text x="91.77" y="351.8" text-anchor="middle" textLength="12.6" lengthAdjust="spacingAndGlyphs" style="font-family:'Liberation Sans',sans-serif;stroke:#000;stroke-width:0.14px;font-size:9.9px" fill="#000">2.6</text>
<text x="113.15" y="351.8" text-anchor="middle" textLength="12.6" lengthAdjust="spacingAndGlyphs" style="font-family:'Liberation Sans',sans-serif;stroke:#000;stroke-width:0.14px;font-size:9.9px" fill="#000">2.8</text>
<text x="134.53" y="351.8" text-anchor="middle" textLength="12.6" lengthAdjust="spacingAndGlyphs" style="font-family:'Liberation Sans',sans-serif;stroke:#000;stroke-width:0.14px;font-size:9.9px" fill="#000">3.0</text>
<text x="155.92" y="351.8" text-anchor="middle" textLength="12.6" lengthAdjust="spacingAndGlyphs" style="font-family:'Liberation Sans',sans-serif;stroke:#000;stroke-width:0.14px;font-size:9.9px" fill="#000">3.2</text>
<text x="177.3" y="351.8" text-anchor="middle" textLength="12.6" lengthAdjust="spacingAndGlyphs" style="font-family:'Liberation Sans',sans-serif;stroke:#000;stroke-width:0.14px;font-size:9.9px" fill="#000">3.4</text>
<text x="66.45" y="210.1" text-anchor="middle" textLength="15.6" lengthAdjust="spacingAndGlyphs" style="font-family:'Liberation Sans',sans-serif;stroke:#000;stroke-width:0.14px;font-size:9.9px" fill="#000">150</text>
<text x="92.83" y="210.1" text-anchor="middle" textLength="15.6" lengthAdjust="spacingAndGlyphs" style="font-family:'Liberation Sans',sans-serif;stroke:#000;stroke-width:0.14px;font-size:9.9px" fill="#000">110</text>
<text x="125.36" y="210.1" text-anchor="middle" textLength="10.4" lengthAdjust="spacingAndGlyphs" style="font-family:'Liberation Sans',sans-serif;stroke:#000;stroke-width:0.14px;font-size:9.9px" fill="#000">70</text>
<text x="166.47" y="210.1" text-anchor="middle" textLength="10.4" lengthAdjust="spacingAndGlyphs" style="font-family:'Liberation Sans',sans-serif;stroke:#000;stroke-width:0.14px;font-size:9.9px" fill="#000">30</text>
<text x="101.6" y="196.8" textLength="25.7" lengthAdjust="spacingAndGlyphs" style="font-family:'Liberation Sans',sans-serif;stroke:#000;stroke-width:0.14px;font-size:9.8px" fill="#000">T (°C)</text>
<text x="87.6" y="365.1" textLength="53.1" lengthAdjust="spacingAndGlyphs" style="font-family:'Liberation Sans',sans-serif;stroke:#000;stroke-width:0.14px;font-size:9.8px" fill="#000">1000/T (1/K)</text>
<text x="26" y="219.8" textLength="9.7" lengthAdjust="spacingAndGlyphs" style="font-family:'Liberation Sans',sans-serif;stroke:#000;stroke-width:0.14px;font-size:10.1px" fill="#000">10</text>
<text x="37" y="216.8" textLength="4.7" lengthAdjust="spacingAndGlyphs" style="font-family:'Liberation Sans',sans-serif;stroke:#000;stroke-width:0.14px;font-size:6.3px" fill="#000">-2</text>
<text x="26" y="240.02" textLength="9.7" lengthAdjust="spacingAndGlyphs" style="font-family:'Liberation Sans',sans-serif;stroke:#000;stroke-width:0.14px;font-size:10.1px" fill="#000">10</text>
<text x="37" y="237.02" textLength="4.7" lengthAdjust="spacingAndGlyphs" style="font-family:'Liberation Sans',sans-serif;stroke:#000;stroke-width:0.14px;font-size:6.3px" fill="#000">-3</text>
<text x="26" y="260.23" textLength="9.7" lengthAdjust="spacingAndGlyphs" style="font-family:'Liberation Sans',sans-serif;stroke:#000;stroke-width:0.14px;font-size:10.1px" fill="#000">10</text>
<text x="37" y="257.23" textLength="4.7" lengthAdjust="spacingAndGlyphs" style="font-family:'Liberation Sans',sans-serif;stroke:#000;stroke-width:0.14px;font-size:6.3px" fill="#000">-4</text>
<text x="26" y="280.45" textLength="9.7" lengthAdjust="spacingAndGlyphs" style="font-family:'Liberation Sans',sans-serif;stroke:#000;stroke-width:0.14px;font-size:10.1px" fill="#000">10</text>
<text x="37" y="277.45" textLength="4.7" lengthAdjust="spacingAndGlyphs" style="font-family:'Liberation Sans',sans-serif;stroke:#000;stroke-width:0.14px;font-size:6.3px" fill="#000">-5</text>
<text x="26" y="300.67" textLength="9.7" lengthAdjust="spacingAndGlyphs" style="font-family:'Liberation Sans',sans-serif;stroke:#000;stroke-width:0.14px;font-size:10.1px" fill="#000">10</text>
<text x="37" y="297.67" textLength="4.7" lengthAdjust="spacingAndGlyphs" style="font-family:'Liberation Sans',sans-serif;stroke:#000;stroke-width:0.14px;font-size:6.3px" fill="#000">-6</text>
<text x="26" y="320.88" textLength="9.7" lengthAdjust="spacingAndGlyphs" style="font-family:'Liberation Sans',sans-serif;stroke:#000;stroke-width:0.14px;font-size:10.1px" fill="#000">10</text>
<text x="37" y="317.88" textLength="4.7" lengthAdjust="spacingAndGlyphs" style="font-family:'Liberation Sans',sans-serif;stroke:#000;stroke-width:0.14px;font-size:6.3px" fill="#000">-7</text>
<text x="26" y="341.1" textLength="9.7" lengthAdjust="spacingAndGlyphs" style="font-family:'Liberation Sans',sans-serif;stroke:#000;stroke-width:0.14px;font-size:10.1px" fill="#000">10</text>
<text x="37" y="338.1" textLength="4.7" lengthAdjust="spacingAndGlyphs" style="font-family:'Liberation Sans',sans-serif;stroke:#000;stroke-width:0.14px;font-size:6.3px" fill="#000">-8</text>
<text x="18.1" y="278.2" text-anchor="middle" transform="rotate(-90 18.1 278.2)" textLength="118.5" lengthAdjust="spacingAndGlyphs" style="font-family:'Liberation Sans',sans-serif;stroke:#000;stroke-width:0.14px;font-size:9.9px" fill="#000">Overall Conductivity (S/cm)</text>
<text x="173" y="226.3" text-anchor="end" textLength="32" lengthAdjust="spacingAndGlyphs" style="font-family:'Liberation Sans',sans-serif;stroke:#000;stroke-width:0.14px;font-size:9.7px" fill="#000"><tspan style="font-style:italic">r</tspan> = 20:1</text>
<text x="6" y="211.5" textLength="20.2" lengthAdjust="spacingAndGlyphs" style="font-family:'Liberation Sans',sans-serif;stroke:#000;stroke-width:0.14px;font-size:12.4px;font-weight:bold;stroke:none" fill="#000">(a3)</text>
<path d="M247.91 256 L253.94 257.56 L260.27 259.29 L266.92 261.23 L273.91 263.4 L281.29 265.82 L289.07 268.52 L297.29 271.56 L305.99 274.96 L315.21 278.78 L325 283.08 L335.42 287.93 L346.52 293.41" stroke="#000000" stroke-width="1.0" fill="none" stroke-dasharray="1.2 1.6"/>
<circle cx="247.91" cy="256" r="2.35" fill="#000"/>
<circle cx="253.94" cy="257.56" r="2.35" fill="#000"/>
<circle cx="260.27" cy="259.29" r="2.35" fill="#000"/>
<circle cx="266.92" cy="261.23" r="2.35" fill="#000"/>
<circle cx="273.91" cy="263.4" r="2.35" fill="#000"/>
<circle cx="281.29" cy="265.82" r="2.35" fill="#000"/>
<circle cx="289.07" cy="268.52" r="2.35" fill="#000"/>
<circle cx="297.29" cy="271.56" r="2.35" fill="#000"/>
<circle cx="305.99" cy="274.96" r="2.35" fill="#000"/>
<circle cx="315.21" cy="278.78" r="2.35" fill="#000"/>
<circle cx="325" cy="283.08" r="2.35" fill="#000"/>
<circle cx="335.42" cy="287.93" r="2.35" fill="#000"/>
<circle cx="346.52" cy="293.41" r="2.35" fill="#000"/>
<path d="M247.91 263.15 L253.94 264.69 L260.27 266.4 L266.92 268.29 L273.91 270.39 L281.29 272.73 L289.07 275.32 L297.29 278.21 L305.99 281.44 L315.21 285.05 L325 289.1 L335.42 293.64 L346.52 298.76" stroke="#7030A0" stroke-width="1.3" fill="none" stroke-dasharray="1.2 1.6"/>
<path d="M247.91 260.75L250.01 264.75L245.81 264.75Z" fill="#7030A0"/>
<path d="M253.94 262.29L256.04 266.29L251.84 266.29Z" fill="#7030A0"/>
<path d="M260.27 264L262.37 268L258.17 268Z" fill="#7030A0"/>
<path d="M266.92 265.89L269.02 269.89L264.82 269.89Z" fill="#7030A0"/>
<path d="M273.91 267.99L276.01 271.99L271.81 271.99Z" fill="#7030A0"/>
<path d="M281.29 270.33L283.39 274.33L279.19 274.33Z" fill="#7030A0"/>
<path d="M289.07 272.92L291.17 276.92L286.97 276.92Z" fill="#7030A0"/>
<path d="M297.29 275.81L299.39 279.81L295.19 279.81Z" fill="#7030A0"/>
<path d="M305.99 279.04L308.09 283.04L303.89 283.04Z" fill="#7030A0"/>
<path d="M315.21 282.65L317.31 286.65L313.11 286.65Z" fill="#7030A0"/>
<path d="M325 286.7L327.1 290.7L322.9 290.7Z" fill="#7030A0"/>
<path d="M335.42 291.24L337.52 295.24L333.32 295.24Z" fill="#7030A0"/>
<path d="M346.52 296.36L348.62 300.36L344.42 300.36Z" fill="#7030A0"/>
<path d="M247.91 266.8 L253.94 268.81 L260.27 271 L266.92 273.39 L273.91 276 L281.29 278.86 L289.07 282.01 L297.29 285.46 L305.99 289.27 L315.21 293.49 L325 298.15 L335.42 303.33 L346.52 309.1" stroke="#00B050" stroke-width="1.3" fill="none" stroke-dasharray="1.2 1.6"/>
<path d="M247.91 264.35L250.36 266.8L247.91 269.25L245.46 266.8Z" fill="#00B050"/>
<path d="M253.94 266.36L256.39 268.81L253.94 271.26L251.49 268.81Z" fill="#00B050"/>
<path d="M260.27 268.55L262.72 271L260.27 273.45L257.82 271Z" fill="#00B050"/>
<path d="M266.92 270.94L269.37 273.39L266.92 275.84L264.47 273.39Z" fill="#00B050"/>
<path d="M273.91 273.55L276.36 276L273.91 278.45L271.46 276Z" fill="#00B050"/>
<path d="M281.29 276.41L283.74 278.86L281.29 281.31L278.84 278.86Z" fill="#00B050"/>
<path d="M289.07 279.56L291.52 282.01L289.07 284.46L286.62 282.01Z" fill="#00B050"/>
<path d="M297.29 283.01L299.74 285.46L297.29 287.91L294.84 285.46Z" fill="#00B050"/>
<path d="M305.99 286.82L308.44 289.27L305.99 291.72L303.54 289.27Z" fill="#00B050"/>
<path d="M315.21 291.04L317.66 293.49L315.21 295.94L312.76 293.49Z" fill="#00B050"/>
<path d="M325 295.7L327.45 298.15L325 300.6L322.55 298.15Z" fill="#00B050"/>
<path d="M335.42 300.88L337.87 303.33L335.42 305.78L332.97 303.33Z" fill="#00B050"/>
<path d="M346.52 306.65L348.97 309.1L346.52 311.55L344.07 309.1Z" fill="#00B050"/>
<path d="M247.91 244.79 L253.94 247.8 L260.27 250.99 L266.92 254.36 L273.91 257.93 L281.29 261.72 L289.07 265.76 L297.29 270.06 L305.99 274.65 L315.21 279.56 L325 284.84 L335.42 290.5 L346.52 296.61" stroke="#00B0F0" stroke-width="1.5" fill="none"/>
<rect x="245.81" y="242.69" width="4.2" height="4.2" fill="#00B0F0"/>
<rect x="251.84" y="245.7" width="4.2" height="4.2" fill="#00B0F0"/>
<rect x="258.17" y="248.89" width="4.2" height="4.2" fill="#00B0F0"/>
<rect x="264.82" y="252.26" width="4.2" height="4.2" fill="#00B0F0"/>
<rect x="271.81" y="255.83" width="4.2" height="4.2" fill="#00B0F0"/>
<rect x="279.19" y="259.62" width="4.2" height="4.2" fill="#00B0F0"/>
<rect x="286.97" y="263.66" width="4.2" height="4.2" fill="#00B0F0"/>
<rect x="295.19" y="267.96" width="4.2" height="4.2" fill="#00B0F0"/>
<rect x="303.89" y="272.55" width="4.2" height="4.2" fill="#00B0F0"/>
<rect x="313.11" y="277.46" width="4.2" height="4.2" fill="#00B0F0"/>
<rect x="322.9" y="282.74" width="4.2" height="4.2" fill="#00B0F0"/>
<rect x="333.32" y="288.4" width="4.2" height="4.2" fill="#00B0F0"/>
<rect x="344.42" y="294.51" width="4.2" height="4.2" fill="#00B0F0"/>
<path d="M247.91 268.05 L253.94 272.03 L260.27 276.22 L266.92 280.62 L273.91 285.27 L281.29 290.17 L289.07 295.35 L297.29 300.84 L305.99 306.67 L315.21 312.86 L325 319.45 L335.42 326.48 L346.52 334" stroke="#F79646" stroke-width="1.5" fill="none"/>
<path d="M245.81 265.95L250.01 270.15M245.81 270.15L250.01 265.95" stroke="#F79646" stroke-width="1.1" fill="none"/>
<path d="M251.84 269.93L256.04 274.13M251.84 274.13L256.04 269.93" stroke="#F79646" stroke-width="1.1" fill="none"/>
<path d="M258.17 274.12L262.37 278.32M258.17 278.32L262.37 274.12" stroke="#F79646" stroke-width="1.1" fill="none"/>
<path d="M264.82 278.52L269.02 282.72M264.82 282.72L269.02 278.52" stroke="#F79646" stroke-width="1.1" fill="none"/>
<path d="M271.81 283.17L276.01 287.37M271.81 287.37L276.01 283.17" stroke="#F79646" stroke-width="1.1" fill="none"/>
<path d="M279.19 288.07L283.39 292.27M279.19 292.27L283.39 288.07" stroke="#F79646" stroke-width="1.1" fill="none"/>
<path d="M286.97 293.25L291.17 297.45M286.97 297.45L291.17 293.25" stroke="#F79646" stroke-width="1.1" fill="none"/>
<path d="M295.19 298.74L299.39 302.94M295.19 302.94L299.39 298.74" stroke="#F79646" stroke-width="1.1" fill="none"/>
<path d="M303.89 304.57L308.09 308.77M303.89 308.77L308.09 304.57" stroke="#F79646" stroke-width="1.1" fill="none"/>
<path d="M313.11 310.76L317.31 314.96M313.11 314.96L317.31 310.76" stroke="#F79646" stroke-width="1.1" fill="none"/>
<path d="M322.9 317.35L327.1 321.55M322.9 321.55L327.1 317.35" stroke="#F79646" stroke-width="1.1" fill="none"/>
<path d="M333.32 324.38L337.52 328.58M333.32 328.58L337.52 324.38" stroke="#F79646" stroke-width="1.1" fill="none"/>
<path d="M344.42 331.9L348.62 336.1M344.42 336.1L348.62 331.9" stroke="#F79646" stroke-width="1.1" fill="none"/>
<rect x="230.7" y="216.2" width="126.5" height="121.2" fill="none" stroke="#000" stroke-width="1.3"/>
<line x1="230.7" y1="216.2" x2="230.7" y2="337.4" stroke="#000" stroke-width="1.6"/>
<path d="M227.9 337.4H230.7M227.9 331.32H230.7M227.9 327.76H230.7M227.9 325.24H230.7M227.9 323.28H230.7M227.9 321.68H230.7M227.9 320.33H230.7M227.9 319.16H230.7M227.9 318.12H230.7M227.9 317.2H230.7M227.9 311.12H230.7M227.9 307.56H230.7M227.9 305.04H230.7M227.9 303.08H230.7M227.9 301.48H230.7M227.9 300.13H230.7M227.9 298.96H230.7M227.9 297.92H230.7M227.9 297H230.7M227.9 290.92H230.7M227.9 287.36H230.7M227.9 284.84H230.7M227.9 282.88H230.7M227.9 281.28H230.7M227.9 279.93H230.7M227.9 278.76H230.7M227.9 277.72H230.7M227.9 276.8H230.7M227.9 270.72H230.7M227.9 267.16H230.7M227.9 264.64H230.7M227.9 262.68H230.7M227.9 261.08H230.7M227.9 259.73H230.7M227.9 258.56H230.7M227.9 257.52H230.7M227.9 256.6H230.7M227.9 250.52H230.7M227.9 246.96H230.7M227.9 244.44H230.7M227.9 242.48H230.7M227.9 240.88H230.7M227.9 239.53H230.7M227.9 238.36H230.7M227.9 237.32H230.7M227.9 236.4H230.7M227.9 230.32H230.7M227.9 226.76H230.7M227.9 224.24H230.7M227.9 222.28H230.7M227.9 220.68H230.7M227.9 219.33H230.7M227.9 218.16H230.7M227.9 217.12H230.7" stroke="#000" stroke-width="1.0"/>
<path d="M230.7 337.4V339.8M241.24 337.4V339.8M251.78 337.4V339.8M262.32 337.4V339.8M272.87 337.4V339.8M283.41 337.4V339.8M293.95 337.4V339.8M304.49 337.4V339.8M315.03 337.4V339.8M325.57 337.4V339.8M336.12 337.4V339.8M346.66 337.4V339.8M357.2 337.4V339.8" stroke="#000" stroke-width="1"/>
<path d="M247.91 214.4V218M260.27 214.4V218M273.91 214.4V218M289.07 214.4V218M305.99 214.4V218M325 214.4V218M346.52 214.4V218" stroke="#000" stroke-width="1.1"/>
<text x="230.7" y="351.7" text-anchor="middle" textLength="12.6" lengthAdjust="spacingAndGlyphs" style="font-family:'Liberation Sans',sans-serif;stroke:#000;stroke-width:0.14px;font-size:9.9px" fill="#000">2.2</text>
<text x="251.78" y="351.7" text-anchor="middle" textLength="12.6" lengthAdjust="spacingAndGlyphs" style="font-family:'Liberation Sans',sans-serif;stroke:#000;stroke-width:0.14px;font-size:9.9px" fill="#000">2.4</text>
<text x="272.87" y="351.7" text-anchor="middle" textLength="12.6" lengthAdjust="spacingAndGlyphs" style="font-family:'Liberation Sans',sans-serif;stroke:#000;stroke-width:0.14px;font-size:9.9px" fill="#000">2.6</text>
<text x="293.95" y="351.7" text-anchor="middle" textLength="12.6" lengthAdjust="spacingAndGlyphs" style="font-family:'Liberation Sans',sans-serif;stroke:#000;stroke-width:0.14px;font-size:9.9px" fill="#000">2.8</text>
<text x="315.03" y="351.7" text-anchor="middle" textLength="12.6" lengthAdjust="spacingAndGlyphs" style="font-family:'Liberation Sans',sans-serif;stroke:#000;stroke-width:0.14px;font-size:9.9px" fill="#000">3.0</text>
<text x="336.12" y="351.7" text-anchor="middle" textLength="12.6" lengthAdjust="spacingAndGlyphs" style="font-family:'Liberation Sans',sans-serif;stroke:#000;stroke-width:0.14px;font-size:9.9px" fill="#000">3.2</text>
<text x="357.2" y="351.7" text-anchor="middle" textLength="12.6" lengthAdjust="spacingAndGlyphs" style="font-family:'Liberation Sans',sans-serif;stroke:#000;stroke-width:0.14px;font-size:9.9px" fill="#000">3.4</text>
<text x="247.91" y="210.1" text-anchor="middle" textLength="15.6" lengthAdjust="spacingAndGlyphs" style="font-family:'Liberation Sans',sans-serif;stroke:#000;stroke-width:0.14px;font-size:9.9px" fill="#000">150</text>
<text x="273.91" y="210.1" text-anchor="middle" textLength="15.6" lengthAdjust="spacingAndGlyphs" style="font-family:'Liberation Sans',sans-serif;stroke:#000;stroke-width:0.14px;font-size:9.9px" fill="#000">110</text>
<text x="305.99" y="210.1" text-anchor="middle" textLength="10.4" lengthAdjust="spacingAndGlyphs" style="font-family:'Liberation Sans',sans-serif;stroke:#000;stroke-width:0.14px;font-size:9.9px" fill="#000">70</text>
<text x="346.52" y="210.1" text-anchor="middle" textLength="10.4" lengthAdjust="spacingAndGlyphs" style="font-family:'Liberation Sans',sans-serif;stroke:#000;stroke-width:0.14px;font-size:9.9px" fill="#000">30</text>
<text x="283.3" y="196.8" textLength="25.7" lengthAdjust="spacingAndGlyphs" style="font-family:'Liberation Sans',sans-serif;stroke:#000;stroke-width:0.14px;font-size:9.8px" fill="#000">T (°C)</text>
<text x="269.5" y="365" textLength="53.1" lengthAdjust="spacingAndGlyphs" style="font-family:'Liberation Sans',sans-serif;stroke:#000;stroke-width:0.14px;font-size:9.8px" fill="#000">1000/T (1/K)</text>
<text x="207.7" y="219.8" textLength="9.7" lengthAdjust="spacingAndGlyphs" style="font-family:'Liberation Sans',sans-serif;stroke:#000;stroke-width:0.14px;font-size:10.1px" fill="#000">10</text>
<text x="218.7" y="216.8" textLength="4.7" lengthAdjust="spacingAndGlyphs" style="font-family:'Liberation Sans',sans-serif;stroke:#000;stroke-width:0.14px;font-size:6.3px" fill="#000">-2</text>
<text x="207.7" y="240" textLength="9.7" lengthAdjust="spacingAndGlyphs" style="font-family:'Liberation Sans',sans-serif;stroke:#000;stroke-width:0.14px;font-size:10.1px" fill="#000">10</text>
<text x="218.7" y="237" textLength="4.7" lengthAdjust="spacingAndGlyphs" style="font-family:'Liberation Sans',sans-serif;stroke:#000;stroke-width:0.14px;font-size:6.3px" fill="#000">-3</text>
<text x="207.7" y="260.2" textLength="9.7" lengthAdjust="spacingAndGlyphs" style="font-family:'Liberation Sans',sans-serif;stroke:#000;stroke-width:0.14px;font-size:10.1px" fill="#000">10</text>
<text x="218.7" y="257.2" textLength="4.7" lengthAdjust="spacingAndGlyphs" style="font-family:'Liberation Sans',sans-serif;stroke:#000;stroke-width:0.14px;font-size:6.3px" fill="#000">-4</text>
<text x="207.7" y="280.4" textLength="9.7" lengthAdjust="spacingAndGlyphs" style="font-family:'Liberation Sans',sans-serif;stroke:#000;stroke-width:0.14px;font-size:10.1px" fill="#000">10</text>
<text x="218.7" y="277.4" textLength="4.7" lengthAdjust="spacingAndGlyphs" style="font-family:'Liberation Sans',sans-serif;stroke:#000;stroke-width:0.14px;font-size:6.3px" fill="#000">-5</text>
<text x="207.7" y="300.6" textLength="9.7" lengthAdjust="spacingAndGlyphs" style="font-family:'Liberation Sans',sans-serif;stroke:#000;stroke-width:0.14px;font-size:10.1px" fill="#000">10</text>
<text x="218.7" y="297.6" textLength="4.7" lengthAdjust="spacingAndGlyphs" style="font-family:'Liberation Sans',sans-serif;stroke:#000;stroke-width:0.14px;font-size:6.3px" fill="#000">-6</text>
<text x="207.7" y="320.8" textLength="9.7" lengthAdjust="spacingAndGlyphs" style="font-family:'Liberation Sans',sans-serif;stroke:#000;stroke-width:0.14px;font-size:10.1px" fill="#000">10</text>
<text x="218.7" y="317.8" textLength="4.7" lengthAdjust="spacingAndGlyphs" style="font-family:'Liberation Sans',sans-serif;stroke:#000;stroke-width:0.14px;font-size:6.3px" fill="#000">-7</text>
<text x="207.7" y="341" textLength="9.7" lengthAdjust="spacingAndGlyphs" style="font-family:'Liberation Sans',sans-serif;stroke:#000;stroke-width:0.14px;font-size:10.1px" fill="#000">10</text>
<text x="218.7" y="338" textLength="4.7" lengthAdjust="spacingAndGlyphs" style="font-family:'Liberation Sans',sans-serif;stroke:#000;stroke-width:0.14px;font-size:6.3px" fill="#000">-8</text>
<text x="200.9" y="278.4" text-anchor="middle" transform="rotate(-90 200.9 278.4)" textLength="118" lengthAdjust="spacingAndGlyphs" style="font-family:'Liberation Sans',sans-serif;stroke:#000;stroke-width:0.14px;font-size:9.9px" fill="#000">Overall Conductivity (S/cm)</text>
<text x="352.9" y="226.3" text-anchor="end" textLength="32" lengthAdjust="spacingAndGlyphs" style="font-family:'Liberation Sans',sans-serif;stroke:#000;stroke-width:0.14px;font-size:9.7px" fill="#000"><tspan style="font-style:italic">r</tspan> = 30:1</text>
<text x="186.6" y="214.4" textLength="20.2" lengthAdjust="spacingAndGlyphs" style="font-family:'Liberation Sans',sans-serif;stroke:#000;stroke-width:0.14px;font-size:12.4px;font-weight:bold;stroke:none" fill="#000">(a4)</text>
<path d="M325.4 85.5V96.2M335 92.5V98.5" stroke="#00B050" stroke-width="1"/>
<path d="M143.8 106.5V113.5" stroke="#00B050" stroke-width="1"/>
<path d="M154.9 112.5V118.5M166.1 117V124" stroke="#F79646" stroke-width="1"/>
<circle cx="53.8" cy="115.6" r="2" fill="#000"/>
<text x="59.2" y="117.9" textLength="60" lengthAdjust="spacingAndGlyphs" style="font-family:'Liberation Sans',sans-serif;stroke:#000;stroke-width:0.14px;font-size:6.4px" fill="#000">PLiMTFSI – 7 / POEM</text>
<path d="M53.8 121.19L55.73 124.87L51.87 124.87Z" fill="#7030A0"/>
<text x="59.2" y="125.7" textLength="63.5" lengthAdjust="spacingAndGlyphs" style="font-family:'Liberation Sans',sans-serif;stroke:#000;stroke-width:0.14px;font-size:6.4px" fill="#000">PLiMTFSI – 16 / POEM</text>
<path d="M53.8 128.95L56.05 131.2L53.8 133.45L51.55 131.2Z" fill="#00B050"/>
<text x="59.2" y="133.5" textLength="63.5" lengthAdjust="spacingAndGlyphs" style="font-family:'Liberation Sans',sans-serif;stroke:#000;stroke-width:0.14px;font-size:6.4px" fill="#000">PLiMTFSI – 25 / POEM</text>
<rect x="51.87" y="137.07" width="3.86" height="3.86" fill="#00B0F0"/>
<text x="59.2" y="141.3" textLength="63.5" lengthAdjust="spacingAndGlyphs" style="font-family:'Liberation Sans',sans-serif;stroke:#000;stroke-width:0.14px;font-size:6.4px" fill="#000">PLiMTFSI – 52 / POEM</text>
<path d="M51.87 144.87L55.73 148.73M51.87 148.73L55.73 144.87" stroke="#F79646" stroke-width="1.1" fill="none"/>
<text x="59.2" y="149.1" textLength="67.3" lengthAdjust="spacingAndGlyphs" style="font-family:'Liberation Sans',sans-serif;stroke:#000;stroke-width:0.14px;font-size:6.4px" fill="#000">PLiMTFSI – 105 / POEM</text>
<text x="359.8" y="28.2" textLength="13.6" lengthAdjust="spacingAndGlyphs" style="font-family:'Liberation Sans',sans-serif;font-size:11.9px;font-weight:bold" fill="#000">(b)</text>
<rect x="392.5" y="36.4" width="135" height="130.2" fill="#FFFDE6"/>
<path d="M376.7 36.4L392.2 36.4L393.4 40.1L393.4 41L392.2 41.3L393.4 43.4L393.4 44.3L392.2 44.6L393.4 47.7L393.4 48.6L392.2 48.9L392.7 51.6L392.7 52.5L392.2 52.8L395 54.1L395 55L392.2 55.3L393 58.2L393 59.1L392.2 59.4L393 62L393 62.9L392.2 63.2L395 64.7L395 65.6L392.2 65.9L395 68.9L395 69.8L392.2 70.1L392.7 72.5L392.7 73.4L392.2 73.7L393.4 75.5L393.4 76.4L392.2 76.7L394 78.4L394 79.3L392.2 79.6L395 81.3L395 82.2L392.2 82.5L392.5 84.1L392.5 85L392.2 85.3L392.7 86.9L392.7 87.8L392.2 88.1L393 90.3L393 91.2L392.2 91.5L392.5 92.8L392.5 93.7L392.2 94L393 95.7L393 96.6L392.2 96.9L393 100.1L393 101L392.2 101.3L394 104.4L394 105.3L392.2 105.6L393 107.5L393 108.4L392.2 108.7L393.4 111.1L393.4 112L392.2 112.3L393 114.8L393 115.7L392.2 116L393.4 119.2L393.4 120.1L392.2 120.4L395 122.1L395 123L392.2 123.3L394 125.2L394 126.1L392.2 126.4L393 128.5L393 129.4L392.2 129.7L394 131.6L394 132.5L392.2 132.8L392.7 134.7L392.7 135.6L392.2 135.9L392.7 138.3L392.7 139.2L392.2 139.5L394 142.2L394 143.1L392.2 143.4L394 144.8L394 145.7L392.2 146L395 149L395 149.9L392.2 150.2L393 152.9L393 153.8L392.2 154.1L393.4 156.3L393.4 157.2L392.2 157.5L394 159.2L394 160.1L392.2 160.4L392.5 163.6L392.5 164.5L392.2 164.8L392.2 166.6L376.7 166.6Z" fill="#FCB552"/>
<path d="M392.5 50L398 47.5" stroke="#F9BE66" stroke-width="1.3"/>
<path d="M392.5 82.5L402 80.5" stroke="#F9BE66" stroke-width="1.3"/>
<path d="M392.5 110L399 108" stroke="#F9BE66" stroke-width="1.3"/>
<path d="M392.5 159.5L399 158" stroke="#F9BE66" stroke-width="1.3"/>
<path d="M392.5 125L396 123.5" stroke="#F9BE66" stroke-width="1.3"/>
<path d="M392.5 140L395.5 139" stroke="#F9BE66" stroke-width="1.3"/>
<rect x="527.3" y="36.4" width="17.2" height="130.2" fill="#A5A5A5"/>
<path d="M385.5 36.8 C386 31 390 29.6 397 29.6 H459 M465 29.6 H528 C534 29.6 536.5 31.5 536.5 36.6" stroke="#1C9CEC" stroke-width="2.1" fill="none"/>
<path d="M459.2 24V34.5 M465.2 21.2V36.8" stroke="#222" stroke-width="1.2"/>
<text x="444" y="18.6" textLength="33.4" lengthAdjust="spacingAndGlyphs" style="font-family:'Liberation Serif',serif;font-size:10.7px;font-weight:bold" fill="#000">Charge</text>
<text x="0" y="0" transform="translate(390 125.8) rotate(-90)" textLength="51" lengthAdjust="spacingAndGlyphs" style="font-family:'Liberation Serif',serif;font-size:14.6px;font-weight:bold" fill="#000">Li metal</text>
<text x="0" y="0" transform="translate(530.4 80) rotate(90)" textLength="51" lengthAdjust="spacingAndGlyphs" style="font-family:'Liberation Serif',serif;font-size:14.6px;font-weight:bold" fill="#000">Cathode</text>
<path d="M416.3 50.6C416.6 52.5 416.4 58.9 418.1 62.3C419.8 65.6 425 67.9 426.6 70.7C428.2 73.5 428 76.7 427.5 79.2C427 81.7 424.4 84.6 423.8 85.7M392.8 67.9C394.2 66.8 398.3 62.2 401.3 61.3C404.3 60.4 407.5 61.2 410.6 62.3C413.7 63.4 417.2 67.1 420 67.9C422.8 68.7 424.7 68.2 427.5 67C430.3 65.8 433.8 61.4 436.9 60.4C440 59.4 443.5 60.4 446.3 61.3C449.1 62.2 451.4 65.2 453.8 66C456.2 66.8 458.8 66.6 460.6 66C462.4 65.4 463.8 62.9 464.4 62.3M438.8 53.8C440.1 53.2 443.7 50.6 446.3 50.1C448.9 49.6 452 50.2 454.7 51C457.4 51.8 459.3 54.2 462.5 54.8C465.7 55.4 470.1 55.4 473.8 54.8C477.6 54.2 481.6 51.8 485 51C488.4 50.2 491.4 50.2 494.4 50.1C497.4 50 501.1 49.3 502.8 50.1C504.5 50.9 503.9 53.2 504.7 54.8C505.5 56.4 505.5 58.7 507.5 59.5C509.5 60.3 513.6 60 516.9 59.5C520.2 59 525.5 57.1 527.2 56.6M422.8 89.1C421.7 89.9 417.4 92.1 416.3 94.2C415.2 96.3 415.1 99.9 416.3 101.7C417.5 103.5 421.8 103.2 423.6 105.3C425.4 107.4 426.8 111.4 427.1 114.1C427.4 116.8 426.5 118.8 425.3 121.2C424.1 123.6 421 126 420 128.3C419 130.7 418.6 133 419.2 135.3C419.8 137.7 422.9 141.2 423.6 142.4M427.5 90.4C429.1 91 433.8 93.9 436.9 94.2C440 94.5 443.5 93.7 446.3 92.3C449.1 90.9 451.1 87.4 453.8 85.7C456.5 84 459.2 81.8 462.5 82C465.8 82.2 470.7 85 473.8 86.7C476.9 88.4 478.5 91.7 481.3 92.3C484.1 92.9 487.5 92 490.6 90.4C493.7 88.8 496.9 84.2 500 82.9C503.1 81.7 506.3 82 509.4 82.9C512.5 83.8 515.8 87.1 518.8 88.5C521.8 89.9 525.8 90.8 527.2 91.3M486 49.1C485.5 50.7 483.3 54.8 483.1 58.5C482.9 62.2 483.4 67.8 485 71.6C486.6 75.3 491.4 77.9 492.5 81C493.6 84.1 492.5 87.6 491.6 90.4C490.7 93.2 488.3 95.1 486.9 97.9C485.5 100.7 484.2 104.7 483.3 107.1C482.4 109.5 481.8 111.5 481.5 112.4M518.8 47.3C519.6 49.5 522.9 56 523.5 60.4C524.1 64.8 523.3 69.8 522.5 73.5C521.7 77.2 519.3 79.8 518.8 82.9C518.3 86 519.2 89.5 519.7 92.3C520.2 95.1 521 97.2 522 100C523 102.8 525.4 105.8 525.7 108.8C526 111.8 525.4 115.3 523.9 117.7C522.4 120.1 518.6 120.7 516.8 123C515 125.3 513.6 129.2 513.3 131.8C513 134.5 514.4 136.7 515.1 138.9C515.8 141.1 517.3 144 517.7 145M394.4 108C395.4 107.8 397.8 106.7 400.6 106.7C403.4 106.7 408.2 107.5 411.2 108C414.1 108.5 415.9 109.3 418.3 109.7C420.7 110.1 422.4 110.8 425.3 110.6C428.2 110.4 432.4 109.6 435.9 108.8C439.4 108 443.3 106.2 446.5 105.5C449.7 104.8 452.7 104.2 455 104.5C457.3 104.8 459.6 107 460.5 107.5M403.3 148.6C404.3 147.9 406.9 145.1 409.4 144.2C411.9 143.3 415.6 142.7 418.3 143.3C421 143.9 423 146.4 425.3 147.7C427.6 149 430 150.8 432.4 151.2C434.8 151.6 437.1 151 439.5 150.4C441.9 149.8 443.9 148.4 446.5 147.7C449.1 146.9 453.4 145 455.4 145.9C457.4 146.8 456.8 152.1 458.5 153C460.2 153.9 463 152.5 465.6 151.2C468.2 149.9 472.9 146 474.4 145M457.5 93.5C458.1 94.5 460.1 97.5 460.8 99.5C461.5 101.5 461.8 103.5 461.5 105.5C461.2 107.5 459.9 109.5 459 111.5C458.1 113.5 456.2 115.2 456 117.7C455.8 120.2 456.5 123.6 457.5 126.5C458.5 129.4 461.6 132.4 462.1 135.3C462.6 138.2 461.2 141.5 460.3 144.2C459.4 146.8 456.8 148.5 456.8 151.2C456.8 153.8 459.4 157.6 460.3 160.1C461.2 162.6 461.8 165 462.1 166M463 115C464.6 114.8 469.6 114.5 472.7 114.1C475.8 113.7 478.9 112.1 481.5 112.4C484.1 112.7 486.7 114.4 488.6 115.9C490.5 117.4 492.6 119.1 493 121.2C493.4 123.3 491.5 127.1 491.2 128.3M456.8 133.6C458.3 133.2 463 131.1 465.6 130.9C468.2 130.8 470.4 131.7 472.7 132.7C475 133.7 477.3 135.9 479.7 137.1C482.1 138.3 484.1 139.7 486.8 139.8C489.5 140 493 138.9 495.6 138C498.2 137.1 500.3 134.9 502.7 134.5C505.1 134.1 508 134.7 509.8 135.3C511.6 135.9 511.5 137.7 513.3 138C515.1 138.3 518 137.7 520.4 137.1C522.8 136.5 526.2 134.9 527.4 134.5" stroke="#1a1a1a" stroke-width="1.25" fill="none"/>
<path d="M415 47L403.6 48.9" stroke="#BD7A24" stroke-width="1.3"/><path d="M400 49.5L403.7 46.4L404.5 51.2Z" fill="#BD7A24"/>
<path d="M431 71.8L419.6 74.6" stroke="#BD7A24" stroke-width="1.3"/><path d="M416 75.5L419.5 72.2L420.7 76.8Z" fill="#BD7A24"/>
<path d="M453 88.3L419.6 81.3" stroke="#BD7A24" stroke-width="1.3"/><path d="M416 80.5L420.6 79L419.6 83.7Z" fill="#BD7A24"/>
<path d="M426 105L408.6 108.3" stroke="#BD7A24" stroke-width="1.3"/><path d="M405 109L408.7 105.9L409.6 110.6Z" fill="#BD7A24"/>
<path d="M437.5 123.6L418.1 119.7" stroke="#BD7A24" stroke-width="1.3"/><path d="M414.5 119L419.1 117.5L418.1 122.2Z" fill="#BD7A24"/>
<path d="M438 153.5L417.6 157.3" stroke="#BD7A24" stroke-width="1.3"/><path d="M414 158L417.7 154.9L418.6 159.6Z" fill="#BD7A24"/>
<path d="M504 67.3L522 67.3" stroke="#6E56B8" stroke-width="1.3"/><path d="M526 67.3L521.5 69.6L521.5 65Z" fill="#6E56B8"/>
<path d="M482 78.5L509 78.5" stroke="#6E56B8" stroke-width="1.3"/><path d="M513 78.5L508.5 80.8L508.5 76.2Z" fill="#6E56B8"/>
<path d="M508.5 114.4L522 114.4" stroke="#6E56B8" stroke-width="1.3"/><path d="M526 114.4L521.5 116.7L521.5 112.1Z" fill="#6E56B8"/>
<path d="M489 130L511.5 130" stroke="#6E56B8" stroke-width="1.3"/><path d="M515.5 130L511 132.3L511 127.7Z" fill="#6E56B8"/>
<path d="M495.5 157.9L513 157.9" stroke="#6E56B8" stroke-width="1.3"/><path d="M517 157.9L512.5 160.2L512.5 155.6Z" fill="#6E56B8"/>
<circle cx="419.6" cy="46.4" r="5.2" fill="#F41414"/>
<text x="419.6" y="48.7" text-anchor="middle" style="font-family:'Liberation Serif',serif;font-size:6.6px;font-weight:bold" fill="#200000">Li</text>
<circle cx="435.3" cy="70.8" r="5.2" fill="#F41414"/>
<text x="435.3" y="73.1" text-anchor="middle" style="font-family:'Liberation Serif',serif;font-size:6.6px;font-weight:bold" fill="#200000">Li</text>
<circle cx="410.2" cy="77.8" r="5.2" fill="#F41414"/>
<text x="410.2" y="80.1" text-anchor="middle" style="font-family:'Liberation Serif',serif;font-size:6.6px;font-weight:bold" fill="#200000">Li</text>
<circle cx="457.9" cy="89.3" r="5.2" fill="#F41414"/>
<text x="457.9" y="91.6" text-anchor="middle" style="font-family:'Liberation Serif',serif;font-size:6.6px;font-weight:bold" fill="#200000">Li</text>
<circle cx="430.8" cy="103.9" r="5.2" fill="#F41414"/>
<text x="430.8" y="106.2" text-anchor="middle" style="font-family:'Liberation Serif',serif;font-size:6.6px;font-weight:bold" fill="#200000">Li</text>
<circle cx="406.7" cy="117.9" r="5.2" fill="#F41414"/>
<text x="406.7" y="120.2" text-anchor="middle" style="font-family:'Liberation Serif',serif;font-size:6.6px;font-weight:bold" fill="#200000">Li</text>
<circle cx="442.2" cy="124.8" r="5.2" fill="#F41414"/>
<text x="442.2" y="127.1" text-anchor="middle" style="font-family:'Liberation Serif',serif;font-size:6.6px;font-weight:bold" fill="#200000">Li</text>
<circle cx="472.5" cy="135.3" r="5.2" fill="#F41414"/>
<text x="472.5" y="137.6" text-anchor="middle" style="font-family:'Liberation Serif',serif;font-size:6.6px;font-weight:bold" fill="#200000">Li</text>
<circle cx="442.9" cy="152.7" r="5.2" fill="#F41414"/>
<text x="442.9" y="155" text-anchor="middle" style="font-family:'Liberation Serif',serif;font-size:6.6px;font-weight:bold" fill="#200000">Li</text>
<circle cx="407.4" cy="158.6" r="5.2" fill="#F41414"/>
<text x="407.4" y="160.9" text-anchor="middle" style="font-family:'Liberation Serif',serif;font-size:6.6px;font-weight:bold" fill="#200000">Li</text>
<circle cx="491" cy="56.2" r="5.2" fill="#F41414"/>
<text x="491" y="58.5" text-anchor="middle" style="font-family:'Liberation Serif',serif;font-size:6.6px;font-weight:bold" fill="#200000">Li</text>
<circle cx="480.6" cy="103.9" r="5.2" fill="#F41414"/>
<text x="480.6" y="106.2" text-anchor="middle" style="font-family:'Liberation Serif',serif;font-size:6.6px;font-weight:bold" fill="#200000">Li</text>
<circle cx="500.8" cy="99.4" r="5.2" fill="#F41414"/>
<text x="500.8" y="101.7" text-anchor="middle" style="font-family:'Liberation Serif',serif;font-size:6.6px;font-weight:bold" fill="#200000">Li</text>
<circle cx="506.7" cy="146.8" r="5.2" fill="#F41414"/>
<text x="506.7" y="149.1" text-anchor="middle" style="font-family:'Liberation Serif',serif;font-size:6.6px;font-weight:bold" fill="#200000">Li</text>
<circle cx="457.9" cy="52.7" r="5.0" fill="#14B43C"/>
<path d="M454.9 52.7h6" stroke="#111" stroke-width="1.9"/>
<circle cx="422.4" cy="88.9" r="5.0" fill="#14B43C"/>
<path d="M419.4 88.9h6" stroke="#111" stroke-width="1.9"/>
<circle cx="463.1" cy="114.4" r="5.0" fill="#14B43C"/>
<path d="M460.1 114.4h6" stroke="#111" stroke-width="1.9"/>
<circle cx="432.5" cy="140.5" r="5.0" fill="#14B43C"/>
<path d="M429.5 140.5h6" stroke="#111" stroke-width="1.9"/>
<circle cx="484.7" cy="130" r="5.0" fill="#14B43C"/>
<path d="M481.7 130h6" stroke="#111" stroke-width="1.9"/>
<circle cx="491" cy="157.9" r="5.0" fill="#14B43C"/>
<path d="M488 157.9h6" stroke="#111" stroke-width="1.9"/>
<circle cx="477.8" cy="78.5" r="5.0" fill="#14B43C"/>
<path d="M474.8 78.5h6" stroke="#111" stroke-width="1.9"/>
<circle cx="499.7" cy="67.3" r="5.0" fill="#14B43C"/>
<path d="M496.7 67.3h6" stroke="#111" stroke-width="1.9"/>
<circle cx="521.7" cy="49.9" r="5.0" fill="#14B43C"/>
<path d="M518.7 49.9h6" stroke="#111" stroke-width="1.9"/>
<circle cx="521.7" cy="75" r="5.0" fill="#14B43C"/>
<path d="M518.7 75h6" stroke="#111" stroke-width="1.9"/>
<circle cx="521.7" cy="101.5" r="5.0" fill="#14B43C"/>
<path d="M518.7 101.5h6" stroke="#111" stroke-width="1.9"/>
<circle cx="504.2" cy="114.4" r="5.0" fill="#14B43C"/>
<path d="M501.2 114.4h6" stroke="#111" stroke-width="1.9"/>
<circle cx="521.7" cy="128.3" r="5.0" fill="#14B43C"/>
<path d="M518.7 128.3h6" stroke="#111" stroke-width="1.9"/>
<circle cx="521.7" cy="157.2" r="5.0" fill="#14B43C"/>
<path d="M518.7 157.2h6" stroke="#111" stroke-width="1.9"/>
<text x="363.4" y="214" textLength="11.7" lengthAdjust="spacingAndGlyphs" style="font-family:'Liberation Sans',sans-serif;font-size:12.4px;font-weight:bold" fill="#000">(c)</text>
<defs><radialGradient id="glow" cx="0.5" cy="0.5" r="0.5"><stop offset="0.7" stop-color="#FAF5E6" stop-opacity="1"/><stop offset="1" stop-color="#FFFFFF" stop-opacity="0"/></radialGradient><radialGradient id="core" cx="0.5" cy="0.5" r="0.5"><stop offset="0" stop-color="#1E2C78" stop-opacity="0.9"/><stop offset="0.6" stop-color="#3A5AB0" stop-opacity="0.6"/><stop offset="1" stop-color="#7A90C0" stop-opacity="0"/></radialGradient><radialGradient id="liball" cx="0.4" cy="0.4" r="0.65"><stop offset="0" stop-color="#A8B6F2"/><stop offset="0.45" stop-color="#4A5CC0"/><stop offset="1" stop-color="#242E84"/></radialGradient><clipPath id="blobclip"><path d="M442.8 225.5C448.3 224.5 454 223.9 460 224C466 224.1 472.4 224.2 478.7 226C484.9 227.8 492.5 231.4 497.5 235C502.5 238.6 505.9 242.3 508.7 247.5C511.5 252.7 513.2 259.8 514.4 266C515.6 272.2 516.3 278.7 516 285C515.7 291.3 515 298.1 512.5 303.7C510 309.3 506 314.3 501 318.7C496 323.1 489.3 326.9 482.5 330C475.7 333.1 468.1 337.5 460 337.5C451.9 337.5 441.2 333.1 433.7 330C426.2 326.9 420 323.1 415 318.7C410 314.3 406.2 309.3 403.7 303.7C401.2 298.1 400.2 290.9 400 285C399.8 279.1 401.8 273.3 402.5 268C403.2 262.7 403 257.8 404.5 253C406 248.2 407.8 242.8 411.5 239C415.2 235.2 421.8 232.2 427 230C432.2 227.8 437.3 226.5 442.8 225.5Z"/></clipPath></defs>
<ellipse cx="457" cy="281" rx="70" ry="66" fill="url(#glow)"/>
<path d="M442.8 225.5C448.3 224.5 454 223.9 460 224C466 224.1 472.4 224.2 478.7 226C484.9 227.8 492.5 231.4 497.5 235C502.5 238.6 505.9 242.3 508.7 247.5C511.5 252.7 513.2 259.8 514.4 266C515.6 272.2 516.3 278.7 516 285C515.7 291.3 515 298.1 512.5 303.7C510 309.3 506 314.3 501 318.7C496 323.1 489.3 326.9 482.5 330C475.7 333.1 468.1 337.5 460 337.5C451.9 337.5 441.2 333.1 433.7 330C426.2 326.9 420 323.1 415 318.7C410 314.3 406.2 309.3 403.7 303.7C401.2 298.1 400.2 290.9 400 285C399.8 279.1 401.8 273.3 402.5 268C403.2 262.7 403 257.8 404.5 253C406 248.2 407.8 242.8 411.5 239C415.2 235.2 421.8 232.2 427 230C432.2 227.8 437.3 226.5 442.8 225.5Z" fill="#D8DADE"/>
<g clip-path="url(#blobclip)"><circle cx="416.4" cy="224.3" r="1" fill="#F4F4F6"/><circle cx="407" cy="248.6" r="1.3" fill="#FFFFFF"/><circle cx="405.5" cy="327" r="1.2" fill="#F4F4F6"/><circle cx="504.8" cy="323.1" r="0.8" fill="#D0D2D6"/><circle cx="396.5" cy="235.8" r="0.9" fill="#E4E6EA"/><circle cx="397.1" cy="330.7" r="1" fill="#5A5E66"/><circle cx="433.5" cy="235.2" r="0.8" fill="#FFFFFF"/><circle cx="490.1" cy="279" r="1.2" fill="#FFFFFF"/><circle cx="443.8" cy="322.1" r="1.2" fill="#E4E6EA"/><circle cx="402.6" cy="281.8" r="1" fill="#FFFFFF"/><circle cx="435.9" cy="250.3" r="1.3" fill="#A0A4AC"/><circle cx="399.3" cy="245.2" r="1" fill="#E4E6EA"/><circle cx="394.7" cy="331" r="1.2" fill="#D0D2D6"/><circle cx="452.2" cy="319.2" r="0.7" fill="#E4E6EA"/><circle cx="448.1" cy="308.5" r="0.7" fill="#D0D2D6"/><circle cx="491.8" cy="247.3" r="1.4" fill="#888C94"/><circle cx="509.7" cy="269.2" r="1" fill="#F4F4F6"/><circle cx="413.7" cy="228.4" r="1.2" fill="#F4F4F6"/><circle cx="473.6" cy="335" r="0.9" fill="#FFFFFF"/><circle cx="484.4" cy="254.4" r="0.8" fill="#D0D2D6"/><circle cx="405.1" cy="256.3" r="0.8" fill="#FFFFFF"/><circle cx="488.2" cy="275.4" r="1.1" fill="#FFFFFF"/><circle cx="445.9" cy="265.4" r="0.8" fill="#FFFFFF"/><circle cx="485.8" cy="259.7" r="0.7" fill="#888C94"/><circle cx="474.4" cy="304.1" r="0.8" fill="#FFFFFF"/><circle cx="457.6" cy="226.4" r="1.1" fill="#E4E6EA"/><circle cx="464.5" cy="299.7" r="1.1" fill="#E4E6EA"/><circle cx="421" cy="321.7" r="0.9" fill="#FFFFFF"/><circle cx="494.2" cy="241.3" r="0.9" fill="#E4E6EA"/><circle cx="403.1" cy="273.1" r="1.1" fill="#F4F4F6"/><circle cx="475.4" cy="296" r="1.3" fill="#F4F4F6"/><circle cx="490.9" cy="276.2" r="1.2" fill="#E4E6EA"/><circle cx="508.4" cy="307.4" r="1" fill="#E4E6EA"/><circle cx="463.1" cy="317.4" r="1.2" fill="#A0A4AC"/><circle cx="509.6" cy="321.2" r="0.8" fill="#F4F4F6"/><circle cx="445.4" cy="309.7" r="0.9" fill="#FFFFFF"/><circle cx="445.1" cy="244" r="1.2" fill="#F4F4F6"/><circle cx="509.6" cy="285.6" r="0.9" fill="#5A5E66"/><circle cx="431.4" cy="222" r="0.9" fill="#FFFFFF"/><circle cx="508.1" cy="267.5" r="0.7" fill="#FFFFFF"/><circle cx="438.4" cy="227.4" r="1.1" fill="#FFFFFF"/><circle cx="474.4" cy="228.2" r="0.9" fill="#FFFFFF"/><circle cx="446.5" cy="223.5" r="0.7" fill="#F4F4F6"/><circle cx="424.7" cy="228.4" r="1.4" fill="#D0D2D6"/><circle cx="450.3" cy="278.4" r="1.3" fill="#A0A4AC"/><circle cx="502.3" cy="315.7" r="1.2" fill="#F4F4F6"/><circle cx="478.5" cy="333.9" r="1" fill="#F4F4F6"/><circle cx="400.6" cy="320.1" r="0.8" fill="#FFFFFF"/><circle cx="471.2" cy="250.3" r="1.2" fill="#5A5E66"/><circle cx="463.1" cy="300.4" r="1" fill="#D0D2D6"/><circle cx="492" cy="242.2" r="0.9" fill="#FFFFFF"/><circle cx="424.8" cy="310.7" r="1.3" fill="#A0A4AC"/><circle cx="432.6" cy="281.2" r="1.2" fill="#5A5E66"/><circle cx="402.1" cy="289.8" r="1.2" fill="#D0D2D6"/><circle cx="468.9" cy="292.8" r="1.3" fill="#888C94"/><circle cx="500.8" cy="263.5" r="0.8" fill="#FFFFFF"/><circle cx="400.7" cy="228.9" r="1.1" fill="#FFFFFF"/><circle cx="506" cy="286.2" r="0.8" fill="#888C94"/><circle cx="459.9" cy="270.1" r="1.3" fill="#E4E6EA"/><circle cx="423.1" cy="278.9" r="1" fill="#5A5E66"/><circle cx="464.9" cy="280.6" r="1.1" fill="#FFFFFF"/><circle cx="415.4" cy="241.7" r="1.3" fill="#5A5E66"/><circle cx="434.9" cy="259.5" r="1.2" fill="#888C94"/><circle cx="510.6" cy="311.5" r="1" fill="#FFFFFF"/><circle cx="470.5" cy="256.3" r="1.3" fill="#F4F4F6"/><circle cx="448.7" cy="251.5" r="0.9" fill="#E4E6EA"/><circle cx="429.2" cy="262.9" r="0.9" fill="#FFFFFF"/><circle cx="513.7" cy="273" r="1.2" fill="#D0D2D6"/><circle cx="486" cy="281.3" r="1.2" fill="#F4F4F6"/><circle cx="515.8" cy="293.7" r="0.8" fill="#FFFFFF"/><circle cx="494.8" cy="334.5" r="1.3" fill="#5A5E66"/><circle cx="478.1" cy="234.4" r="1.2" fill="#D0D2D6"/><circle cx="515" cy="323.6" r="0.7" fill="#FFFFFF"/><circle cx="470.7" cy="238.8" r="1.2" fill="#A0A4AC"/><circle cx="419.9" cy="230.6" r="1" fill="#FFFFFF"/><circle cx="427.7" cy="296.4" r="1.1" fill="#FFFFFF"/><circle cx="475" cy="301.2" r="0.8" fill="#5A5E66"/><circle cx="397.5" cy="298.6" r="0.9" fill="#FFFFFF"/><circle cx="476.4" cy="236.3" r="1.1" fill="#5A5E66"/><circle cx="402.2" cy="300.9" r="1.3" fill="#FFFFFF"/><circle cx="443.9" cy="304.8" r="0.8" fill="#D0D2D6"/><circle cx="424.8" cy="320.3" r="1" fill="#E4E6EA"/><circle cx="463.8" cy="252.6" r="1.1" fill="#5A5E66"/><circle cx="473.7" cy="274.9" r="1.2" fill="#FFFFFF"/><circle cx="464.6" cy="293.7" r="1.2" fill="#F4F4F6"/><circle cx="490.8" cy="299.3" r="1.1" fill="#FFFFFF"/><circle cx="430.1" cy="268.5" r="1.1" fill="#FFFFFF"/><circle cx="501.2" cy="229.1" r="1.1" fill="#5A5E66"/><circle cx="406.2" cy="296.1" r="1.3" fill="#888C94"/><circle cx="503.1" cy="299.1" r="0.8" fill="#D0D2D6"/><circle cx="409.3" cy="255" r="1" fill="#888C94"/><circle cx="452.7" cy="307.1" r="0.9" fill="#D0D2D6"/><circle cx="458.9" cy="276.4" r="0.8" fill="#D0D2D6"/><circle cx="448.3" cy="337.9" r="0.9" fill="#D0D2D6"/><circle cx="462.8" cy="301.7" r="1.3" fill="#FFFFFF"/><circle cx="512.4" cy="242.6" r="1.3" fill="#E4E6EA"/><circle cx="468" cy="234.9" r="1.3" fill="#D0D2D6"/><circle cx="408.4" cy="275.3" r="1.4" fill="#E4E6EA"/><circle cx="452.7" cy="249.2" r="0.9" fill="#5A5E66"/><circle cx="412.2" cy="310.9" r="1" fill="#888C94"/><circle cx="413.6" cy="327.2" r="0.8" fill="#D0D2D6"/><circle cx="397.8" cy="226.2" r="1.2" fill="#A0A4AC"/><circle cx="517.5" cy="263" r="1.1" fill="#D0D2D6"/><circle cx="420.9" cy="245" r="1.1" fill="#FFFFFF"/><circle cx="504.8" cy="277.3" r="1" fill="#D0D2D6"/><circle cx="476.9" cy="268.7" r="1.3" fill="#FFFFFF"/><circle cx="502.4" cy="232.9" r="1.3" fill="#A0A4AC"/><circle cx="485.8" cy="275.2" r="0.8" fill="#FFFFFF"/><circle cx="494.6" cy="318.7" r="1.1" fill="#E4E6EA"/><circle cx="478.8" cy="339.6" r="1.2" fill="#E4E6EA"/><circle cx="421" cy="327.8" r="1.3" fill="#D0D2D6"/><circle cx="465.5" cy="317.8" r="1" fill="#F4F4F6"/><circle cx="428.7" cy="224.9" r="1" fill="#FFFFFF"/><circle cx="498.4" cy="249.7" r="1.2" fill="#FFFFFF"/><circle cx="424" cy="309.2" r="1" fill="#E4E6EA"/><circle cx="445.1" cy="297.5" r="1.4" fill="#FFFFFF"/><circle cx="503" cy="339.1" r="0.9" fill="#F4F4F6"/><circle cx="473.5" cy="283.7" r="1" fill="#5A5E66"/><circle cx="415.3" cy="313.3" r="1.3" fill="#E4E6EA"/><circle cx="427.8" cy="287.6" r="0.7" fill="#5A5E66"/><circle cx="507.5" cy="326.9" r="0.9" fill="#FFFFFF"/><circle cx="428.4" cy="265" r="0.9" fill="#E4E6EA"/><circle cx="397.8" cy="300.4" r="1.3" fill="#FFFFFF"/><circle cx="506.9" cy="308.6" r="1.1" fill="#F4F4F6"/><circle cx="465.3" cy="316" r="1.2" fill="#E4E6EA"/><circle cx="410.2" cy="240.8" r="1" fill="#5A5E66"/><circle cx="409.3" cy="292.4" r="0.7" fill="#D0D2D6"/><circle cx="494.5" cy="244.7" r="0.9" fill="#E4E6EA"/><circle cx="492.4" cy="227.9" r="1.1" fill="#FFFFFF"/><circle cx="490.8" cy="279.7" r="1.2" fill="#FFFFFF"/><circle cx="406.3" cy="245.8" r="1.3" fill="#D0D2D6"/><circle cx="514.2" cy="281.3" r="1.3" fill="#5A5E66"/><circle cx="452.5" cy="278" r="1" fill="#A0A4AC"/><circle cx="416.3" cy="311.1" r="1" fill="#D0D2D6"/><circle cx="489.9" cy="238.1" r="1.1" fill="#F4F4F6"/><circle cx="419.3" cy="331.1" r="0.9" fill="#D0D2D6"/><circle cx="513.3" cy="288.4" r="1.2" fill="#D0D2D6"/><circle cx="396.9" cy="321.8" r="0.9" fill="#E4E6EA"/><circle cx="450.8" cy="276" r="0.9" fill="#5A5E66"/><circle cx="425.9" cy="326.5" r="1.3" fill="#FFFFFF"/><circle cx="443.2" cy="290.5" r="1.1" fill="#FFFFFF"/><circle cx="428.9" cy="299.8" r="1.1" fill="#FFFFFF"/><circle cx="443.3" cy="312" r="1.2" fill="#E4E6EA"/><circle cx="512.7" cy="260.4" r="0.8" fill="#D0D2D6"/><circle cx="503.7" cy="283.5" r="1" fill="#FFFFFF"/><circle cx="489.7" cy="238" r="1.1" fill="#5A5E66"/><circle cx="467" cy="282.2" r="0.9" fill="#FFFFFF"/><circle cx="423.5" cy="274.3" r="1.3" fill="#FFFFFF"/><circle cx="417.2" cy="281.2" r="1.4" fill="#F4F4F6"/><circle cx="516.5" cy="256.9" r="1.3" fill="#5A5E66"/><circle cx="399.4" cy="285.9" r="1" fill="#FFFFFF"/><circle cx="449" cy="305.9" r="1" fill="#888C94"/><circle cx="476.1" cy="270.7" r="0.8" fill="#FFFFFF"/><circle cx="458.6" cy="256.5" r="1.3" fill="#5A5E66"/><circle cx="396" cy="329.1" r="1" fill="#A0A4AC"/><circle cx="439" cy="311.5" r="0.8" fill="#D0D2D6"/><circle cx="404.5" cy="254.9" r="0.8" fill="#D0D2D6"/><circle cx="470.2" cy="278.8" r="1.1" fill="#888C94"/><circle cx="492.2" cy="325.2" r="1.4" fill="#F4F4F6"/><circle cx="396.4" cy="317.1" r="1" fill="#FFFFFF"/><circle cx="407.8" cy="254.4" r="0.8" fill="#FFFFFF"/><circle cx="433.9" cy="258.2" r="1.2" fill="#D0D2D6"/><circle cx="453.6" cy="321.6" r="1" fill="#FFFFFF"/><circle cx="423.3" cy="290.6" r="0.8" fill="#FFFFFF"/><circle cx="468.7" cy="253.7" r="1.1" fill="#FFFFFF"/><circle cx="398.6" cy="304.2" r="1.3" fill="#FFFFFF"/><circle cx="475.8" cy="313.9" r="1.2" fill="#FFFFFF"/><circle cx="505.1" cy="321.5" r="1.3" fill="#E4E6EA"/><circle cx="497.2" cy="314.4" r="1.4" fill="#D0D2D6"/><circle cx="394.5" cy="297.7" r="1" fill="#FFFFFF"/><circle cx="488.1" cy="230.1" r="0.9" fill="#888C94"/><circle cx="507.8" cy="332.5" r="0.9" fill="#D0D2D6"/><circle cx="398.1" cy="247.6" r="0.8" fill="#E4E6EA"/><circle cx="400.9" cy="228.3" r="1.1" fill="#D0D2D6"/><circle cx="484.5" cy="313.9" r="1.1" fill="#F4F4F6"/><circle cx="474" cy="251.3" r="0.7" fill="#5A5E66"/><circle cx="444.9" cy="255.9" r="1" fill="#A0A4AC"/><circle cx="420.8" cy="307.1" r="0.8" fill="#E4E6EA"/><circle cx="496.9" cy="285.4" r="0.9" fill="#FFFFFF"/><circle cx="449.6" cy="301.9" r="0.8" fill="#FFFFFF"/><circle cx="506.8" cy="302.8" r="1.2" fill="#A0A4AC"/><circle cx="442.9" cy="262.8" r="1.2" fill="#FFFFFF"/><circle cx="497.9" cy="288.3" r="0.7" fill="#E4E6EA"/><circle cx="473.9" cy="295.1" r="1.2" fill="#FFFFFF"/><circle cx="466.2" cy="263.1" r="1.2" fill="#A0A4AC"/><circle cx="502.6" cy="235.4" r="1.3" fill="#FFFFFF"/><circle cx="422.4" cy="289.8" r="1.3" fill="#FFFFFF"/><circle cx="478.6" cy="325.8" r="1.2" fill="#FFFFFF"/><circle cx="411.3" cy="296.7" r="1.2" fill="#5A5E66"/><circle cx="504.8" cy="272.7" r="1.2" fill="#D0D2D6"/><circle cx="485.2" cy="320.3" r="1.3" fill="#FFFFFF"/><circle cx="395.7" cy="307.4" r="1.2" fill="#A0A4AC"/><circle cx="493.8" cy="233" r="0.9" fill="#D0D2D6"/><circle cx="403" cy="242.2" r="1.2" fill="#FFFFFF"/><circle cx="513.9" cy="274.9" r="0.8" fill="#A0A4AC"/><circle cx="503.2" cy="257.7" r="1" fill="#FFFFFF"/><circle cx="406.5" cy="269.4" r="1.4" fill="#888C94"/><circle cx="481.3" cy="236.3" r="1" fill="#FFFFFF"/><circle cx="456.2" cy="333.8" r="0.7" fill="#FFFFFF"/><circle cx="429" cy="222.5" r="1" fill="#D0D2D6"/><circle cx="463" cy="268.9" r="1.2" fill="#FFFFFF"/><circle cx="402.7" cy="321.6" r="0.8" fill="#FFFFFF"/><circle cx="451.1" cy="311.1" r="0.7" fill="#5A5E66"/><circle cx="394.8" cy="275.8" r="1" fill="#888C94"/><circle cx="496.1" cy="307.2" r="0.7" fill="#E4E6EA"/><circle cx="399.5" cy="311.8" r="1.3" fill="#A0A4AC"/><circle cx="445.6" cy="233.3" r="0.8" fill="#FFFFFF"/><circle cx="471.8" cy="318.8" r="1.4" fill="#FFFFFF"/><circle cx="451.5" cy="245.5" r="0.9" fill="#FFFFFF"/><circle cx="484.1" cy="243.6" r="1.1" fill="#FFFFFF"/><circle cx="420.1" cy="313" r="1" fill="#888C94"/><circle cx="435.8" cy="336.7" r="1.2" fill="#F4F4F6"/><circle cx="446.1" cy="288.6" r="0.7" fill="#FFFFFF"/><circle cx="415.6" cy="240.2" r="1.4" fill="#FFFFFF"/><circle cx="505.8" cy="261.3" r="1" fill="#A0A4AC"/><circle cx="407.1" cy="264.5" r="0.9" fill="#E4E6EA"/><circle cx="394.5" cy="254.7" r="1.2" fill="#E4E6EA"/><circle cx="427.3" cy="295" r="1" fill="#FFFFFF"/><circle cx="433.1" cy="317.8" r="1" fill="#FFFFFF"/><circle cx="467.4" cy="236.9" r="1.3" fill="#888C94"/><circle cx="419.9" cy="323.3" r="1.1" fill="#5A5E66"/><circle cx="440.7" cy="294" r="1.2" fill="#E4E6EA"/><circle cx="444.7" cy="331.5" r="1.2" fill="#D0D2D6"/><circle cx="403.9" cy="263.7" r="0.7" fill="#E4E6EA"/><circle cx="427.2" cy="286.1" r="1" fill="#FFFFFF"/><circle cx="399.1" cy="279.8" r="1" fill="#D0D2D6"/><circle cx="434.6" cy="240.6" r="0.8" fill="#888C94"/><circle cx="505.4" cy="336.1" r="1.3" fill="#E4E6EA"/><circle cx="507" cy="235.4" r="1.1" fill="#A0A4AC"/><circle cx="502.5" cy="277.1" r="0.9" fill="#A0A4AC"/><circle cx="456.5" cy="259.5" r="0.8" fill="#FFFFFF"/><circle cx="436.1" cy="261" r="0.8" fill="#FFFFFF"/><circle cx="448.2" cy="244.2" r="1.4" fill="#D0D2D6"/><circle cx="516.9" cy="227.9" r="1" fill="#A0A4AC"/><circle cx="433.3" cy="332.8" r="0.9" fill="#FFFFFF"/><circle cx="444.7" cy="254.3" r="1" fill="#D0D2D6"/><circle cx="488.4" cy="285.1" r="0.8" fill="#FFFFFF"/><circle cx="465.3" cy="295.5" r="1.1" fill="#E4E6EA"/><circle cx="421.7" cy="338.5" r="1.1" fill="#A0A4AC"/><circle cx="472" cy="295.2" r="1" fill="#E4E6EA"/><circle cx="454.2" cy="274.4" r="1.3" fill="#F4F4F6"/><circle cx="462.8" cy="280.5" r="1.2" fill="#E4E6EA"/><circle cx="422.9" cy="271.3" r="1.4" fill="#FFFFFF"/><circle cx="410.5" cy="266.1" r="1" fill="#D0D2D6"/><circle cx="411.6" cy="324.1" r="0.8" fill="#D0D2D6"/><circle cx="509.2" cy="334" r="1.2" fill="#FFFFFF"/><circle cx="438.3" cy="338.9" r="1" fill="#A0A4AC"/><circle cx="457.5" cy="237.9" r="0.8" fill="#F4F4F6"/><circle cx="411.2" cy="304.9" r="1" fill="#F4F4F6"/><circle cx="492" cy="338.8" r="0.9" fill="#FFFFFF"/><circle cx="423.2" cy="260.9" r="0.8" fill="#FFFFFF"/><circle cx="517.6" cy="236.7" r="1.2" fill="#FFFFFF"/><circle cx="448.3" cy="323.8" r="0.8" fill="#FFFFFF"/><circle cx="460.6" cy="333.4" r="0.8" fill="#FFFFFF"/><circle cx="471.7" cy="284.1" r="1.2" fill="#D0D2D6"/><circle cx="408.9" cy="248.7" r="0.9" fill="#5A5E66"/><circle cx="455.3" cy="275.1" r="1.2" fill="#F4F4F6"/><circle cx="443.8" cy="227.8" r="1.4" fill="#FFFFFF"/><circle cx="490.6" cy="304.8" r="1" fill="#FFFFFF"/><circle cx="422.5" cy="268.7" r="0.7" fill="#FFFFFF"/><circle cx="412.1" cy="316.2" r="0.7" fill="#A0A4AC"/><circle cx="397.4" cy="247.9" r="0.8" fill="#F4F4F6"/><circle cx="490.3" cy="325.4" r="1.3" fill="#FFFFFF"/><circle cx="467.7" cy="276.8" r="1" fill="#F4F4F6"/><circle cx="473.6" cy="291" r="0.8" fill="#FFFFFF"/><circle cx="440.2" cy="236.3" r="1.2" fill="#F4F4F6"/><circle cx="485.4" cy="274.4" r="1.3" fill="#A0A4AC"/><circle cx="468.6" cy="241" r="1.2" fill="#A0A4AC"/><circle cx="514.2" cy="307.1" r="1.1" fill="#E4E6EA"/><circle cx="438.8" cy="252.2" r="1.4" fill="#A0A4AC"/><circle cx="423.5" cy="288.6" r="1.3" fill="#E4E6EA"/><circle cx="511.3" cy="331.3" r="1.3" fill="#5A5E66"/><circle cx="455.1" cy="268.2" r="0.7" fill="#D0D2D6"/><circle cx="441.3" cy="227.3" r="0.8" fill="#E4E6EA"/><circle cx="422.6" cy="251.6" r="0.8" fill="#FFFFFF"/><circle cx="394.6" cy="298" r="0.9" fill="#888C94"/><circle cx="443.1" cy="261.7" r="0.9" fill="#FFFFFF"/><circle cx="404.7" cy="293.7" r="0.9" fill="#FFFFFF"/><circle cx="396.3" cy="331.9" r="0.9" fill="#F4F4F6"/><circle cx="508" cy="329.7" r="1.1" fill="#FFFFFF"/><circle cx="405.5" cy="262.4" r="0.9" fill="#FFFFFF"/><circle cx="507.2" cy="304.1" r="0.8" fill="#FFFFFF"/><circle cx="459.6" cy="284.6" r="1.3" fill="#5A5E66"/><circle cx="449" cy="256.2" r="1" fill="#FFFFFF"/><circle cx="446.6" cy="257.9" r="1" fill="#5A5E66"/><circle cx="483.2" cy="317.5" r="1.1" fill="#FFFFFF"/><circle cx="395.2" cy="250.5" r="1.3" fill="#A0A4AC"/><circle cx="439.9" cy="230.3" r="0.8" fill="#5A5E66"/><circle cx="409.7" cy="249.3" r="1.3" fill="#FFFFFF"/><circle cx="479.9" cy="245.8" r="0.9" fill="#D0D2D6"/><circle cx="487.2" cy="245" r="1.1" fill="#F4F4F6"/><circle cx="492.2" cy="283.3" r="0.8" fill="#888C94"/><circle cx="412.2" cy="334.4" r="1" fill="#FFFFFF"/><circle cx="422.5" cy="230.8" r="1.4" fill="#888C94"/><circle cx="502.2" cy="271.4" r="1.2" fill="#D0D2D6"/><circle cx="505.7" cy="267.8" r="1" fill="#A0A4AC"/><circle cx="479.6" cy="307.8" r="0.7" fill="#FFFFFF"/><circle cx="451.6" cy="241.5" r="0.9" fill="#888C94"/><circle cx="423.1" cy="297.6" r="0.8" fill="#E4E6EA"/><circle cx="435.5" cy="330.9" r="0.9" fill="#FFFFFF"/><circle cx="501.6" cy="263.3" r="1.1" fill="#F4F4F6"/><circle cx="405.2" cy="298" r="1.2" fill="#F4F4F6"/><circle cx="481.2" cy="324.8" r="0.9" fill="#888C94"/><circle cx="504.4" cy="337.3" r="1.3" fill="#888C94"/><circle cx="444.5" cy="287.2" r="1.3" fill="#FFFFFF"/><circle cx="439.2" cy="252.9" r="1.3" fill="#E4E6EA"/><circle cx="410.4" cy="284" r="0.7" fill="#D0D2D6"/><circle cx="395.3" cy="285.9" r="1.2" fill="#FFFFFF"/><circle cx="409.9" cy="304" r="1" fill="#FFFFFF"/><circle cx="505.3" cy="320" r="0.9" fill="#FFFFFF"/><circle cx="406" cy="283.5" r="0.9" fill="#E4E6EA"/><circle cx="481.6" cy="317.8" r="0.9" fill="#A0A4AC"/><circle cx="499.3" cy="307.1" r="0.8" fill="#F4F4F6"/><circle cx="491.8" cy="336.2" r="1.3" fill="#FFFFFF"/><circle cx="414.9" cy="297" r="0.7" fill="#FFFFFF"/><circle cx="433.8" cy="289.8" r="1.2" fill="#E4E6EA"/><circle cx="454.2" cy="224.5" r="1" fill="#FFFFFF"/><circle cx="440.9" cy="240.1" r="1.3" fill="#D0D2D6"/><circle cx="461.3" cy="295.6" r="1.1" fill="#A0A4AC"/><circle cx="404.9" cy="306.5" r="1.3" fill="#E4E6EA"/><circle cx="447.3" cy="334.9" r="0.9" fill="#D0D2D6"/><circle cx="484.8" cy="284.9" r="1.3" fill="#D0D2D6"/><circle cx="490.8" cy="254.9" r="0.8" fill="#888C94"/><circle cx="438.5" cy="300.4" r="0.8" fill="#FFFFFF"/><circle cx="471.1" cy="286.7" r="1" fill="#D0D2D6"/><circle cx="454.9" cy="310.9" r="0.9" fill="#D0D2D6"/><circle cx="432.6" cy="283.3" r="0.9" fill="#FFFFFF"/><circle cx="427.9" cy="293.2" r="1.1" fill="#FFFFFF"/><circle cx="467.3" cy="286.5" r="1" fill="#FFFFFF"/><circle cx="490.1" cy="247" r="0.8" fill="#E4E6EA"/><circle cx="482.1" cy="304.1" r="1.2" fill="#5A5E66"/><circle cx="514.3" cy="323.6" r="1.1" fill="#F4F4F6"/><circle cx="517.8" cy="226.2" r="1" fill="#A0A4AC"/><circle cx="444.1" cy="225.7" r="1.2" fill="#F4F4F6"/><circle cx="479.6" cy="279.2" r="1.4" fill="#FFFFFF"/><circle cx="430.4" cy="236.1" r="1" fill="#A0A4AC"/><circle cx="492.1" cy="241.8" r="0.9" fill="#5A5E66"/><circle cx="432.3" cy="324.3" r="1" fill="#A0A4AC"/><circle cx="460" cy="292.6" r="1.3" fill="#FFFFFF"/><circle cx="411.2" cy="304.5" r="1" fill="#A0A4AC"/><circle cx="513.4" cy="228" r="1.4" fill="#E4E6EA"/><circle cx="418.2" cy="305.1" r="0.8" fill="#FFFFFF"/><circle cx="486.4" cy="311" r="1.4" fill="#888C94"/><circle cx="503.6" cy="256.2" r="1.2" fill="#A0A4AC"/><circle cx="398.9" cy="326.5" r="1.1" fill="#D0D2D6"/><circle cx="467.3" cy="296.8" r="1" fill="#A0A4AC"/><circle cx="494" cy="265.9" r="0.9" fill="#A0A4AC"/><circle cx="478.1" cy="240.4" r="1" fill="#E4E6EA"/><circle cx="436.8" cy="248.4" r="0.8" fill="#5A5E66"/><circle cx="403.9" cy="250.3" r="1.1" fill="#FFFFFF"/><circle cx="453.5" cy="289.5" r="0.7" fill="#E4E6EA"/><circle cx="459.7" cy="305.6" r="0.8" fill="#888C94"/><circle cx="451.3" cy="337.6" r="1" fill="#FFFFFF"/><circle cx="454.3" cy="242.2" r="0.7" fill="#FFFFFF"/><circle cx="504.9" cy="252.8" r="1.1" fill="#FFFFFF"/><circle cx="490.2" cy="287.4" r="1" fill="#FFFFFF"/><circle cx="494.7" cy="278.4" r="1.2" fill="#F4F4F6"/><circle cx="432.3" cy="322.8" r="1.4" fill="#888C94"/><circle cx="448.9" cy="254.5" r="0.8" fill="#5A5E66"/><circle cx="459.1" cy="238.8" r="1.1" fill="#F4F4F6"/><circle cx="430.9" cy="274.2" r="0.9" fill="#A0A4AC"/><circle cx="513.4" cy="270.1" r="1.1" fill="#D0D2D6"/><circle cx="439.8" cy="224.4" r="0.7" fill="#D0D2D6"/><circle cx="435.7" cy="243.6" r="0.8" fill="#A0A4AC"/><circle cx="476" cy="319.9" r="1.1" fill="#FFFFFF"/><circle cx="396.6" cy="225.4" r="0.9" fill="#888C94"/><circle cx="500.2" cy="253.4" r="0.7" fill="#D0D2D6"/><circle cx="483.7" cy="295.6" r="0.9" fill="#A0A4AC"/><circle cx="453.3" cy="243.6" r="1.3" fill="#5A5E66"/><circle cx="497" cy="312.6" r="1" fill="#FFFFFF"/><circle cx="396.9" cy="285.6" r="1.3" fill="#A0A4AC"/><circle cx="430.8" cy="237.6" r="0.7" fill="#E4E6EA"/><circle cx="403.1" cy="228.1" r="0.8" fill="#F4F4F6"/><circle cx="447.3" cy="336.1" r="1.1" fill="#E4E6EA"/><circle cx="479.7" cy="305.7" r="0.7" fill="#FFFFFF"/><circle cx="450" cy="233.6" r="1.1" fill="#888C94"/><circle cx="409.9" cy="260.8" r="1.2" fill="#FFFFFF"/><circle cx="454.5" cy="261.8" r="1.4" fill="#888C94"/><circle cx="411.8" cy="287.8" r="1" fill="#F4F4F6"/><circle cx="425.8" cy="290.3" r="1.1" fill="#E4E6EA"/><circle cx="404.8" cy="311.1" r="1.1" fill="#FFFFFF"/><circle cx="445.8" cy="279.6" r="1.3" fill="#F4F4F6"/><circle cx="407.2" cy="298.8" r="1.2" fill="#5A5E66"/><circle cx="423.9" cy="241.4" r="1.2" fill="#FFFFFF"/><circle cx="425.6" cy="338.4" r="1.2" fill="#888C94"/><circle cx="495.3" cy="267.3" r="1" fill="#FFFFFF"/><circle cx="462.5" cy="290.6" r="1.2" fill="#888C94"/><circle cx="448.8" cy="280.5" r="1.1" fill="#F4F4F6"/><circle cx="414.8" cy="296.8" r="1.2" fill="#FFFFFF"/><circle cx="441.3" cy="236.8" r="1" fill="#888C94"/><circle cx="471.7" cy="239.4" r="0.7" fill="#F4F4F6"/><circle cx="433.9" cy="315.6" r="1.1" fill="#5A5E66"/><circle cx="432.5" cy="323.2" r="1.4" fill="#FFFFFF"/><circle cx="465.6" cy="268.6" r="1.2" fill="#FFFFFF"/><circle cx="507.5" cy="265.2" r="1.1" fill="#E4E6EA"/><circle cx="468.1" cy="284.8" r="1" fill="#FFFFFF"/><circle cx="495.5" cy="258.7" r="1.3" fill="#FFFFFF"/><circle cx="480.7" cy="253.4" r="0.8" fill="#FFFFFF"/><circle cx="509.7" cy="297.1" r="1" fill="#5A5E66"/><circle cx="419.5" cy="285.6" r="1.2" fill="#FFFFFF"/><circle cx="487.7" cy="309.6" r="1.4" fill="#FFFFFF"/><circle cx="516.3" cy="325.2" r="1.3" fill="#D0D2D6"/><circle cx="468.8" cy="283.8" r="0.8" fill="#FFFFFF"/><circle cx="466" cy="238.4" r="1" fill="#E4E6EA"/><circle cx="464.7" cy="295.3" r="1.2" fill="#A0A4AC"/><circle cx="411.4" cy="249.3" r="1" fill="#F4F4F6"/><circle cx="497.5" cy="239.2" r="0.8" fill="#D0D2D6"/><circle cx="425.7" cy="309.4" r="0.8" fill="#FFFFFF"/><circle cx="453" cy="320.7" r="1.1" fill="#A0A4AC"/><circle cx="432.1" cy="323.5" r="0.9" fill="#FFFFFF"/><circle cx="475.6" cy="309.1" r="1.2" fill="#888C94"/><circle cx="517.8" cy="312.5" r="0.9" fill="#5A5E66"/><circle cx="453" cy="313.4" r="1.4" fill="#FFFFFF"/><circle cx="422.3" cy="247.7" r="0.8" fill="#5A5E66"/><circle cx="488.3" cy="338" r="1.1" fill="#E4E6EA"/><circle cx="492.7" cy="229.7" r="1" fill="#A0A4AC"/><circle cx="493.7" cy="241.7" r="0.9" fill="#D0D2D6"/><circle cx="410.6" cy="277.8" r="0.7" fill="#FFFFFF"/><circle cx="505.1" cy="313.3" r="1.1" fill="#FFFFFF"/><circle cx="485.7" cy="294.6" r="1" fill="#888C94"/><circle cx="506.6" cy="225.6" r="0.7" fill="#E4E6EA"/><circle cx="431.3" cy="296.5" r="0.8" fill="#FFFFFF"/><circle cx="484" cy="237.9" r="0.9" fill="#D0D2D6"/><circle cx="444.9" cy="244.3" r="1" fill="#888C94"/><circle cx="434.8" cy="265.6" r="0.9" fill="#FFFFFF"/><circle cx="507.2" cy="329.8" r="1.1" fill="#FFFFFF"/><circle cx="449.1" cy="274.9" r="0.7" fill="#5A5E66"/><circle cx="459.6" cy="299.7" r="0.9" fill="#888C94"/><circle cx="473.5" cy="265.5" r="1" fill="#E4E6EA"/><circle cx="496.6" cy="234.5" r="1" fill="#E4E6EA"/><circle cx="472.3" cy="288.7" r="0.7" fill="#FFFFFF"/><circle cx="396.4" cy="279.8" r="1.1" fill="#888C94"/><circle cx="400.6" cy="301" r="1.1" fill="#888C94"/><circle cx="492.5" cy="250.5" r="1.4" fill="#D0D2D6"/><circle cx="494.8" cy="234.5" r="0.9" fill="#D0D2D6"/><circle cx="500" cy="333.9" r="1.4" fill="#888C94"/><circle cx="489.6" cy="248" r="0.8" fill="#5A5E66"/><circle cx="513.6" cy="238.5" r="1" fill="#FFFFFF"/><circle cx="481.7" cy="236.4" r="1" fill="#5A5E66"/><circle cx="434.8" cy="297.4" r="0.8" fill="#FFFFFF"/><circle cx="463.7" cy="257.8" r="1.1" fill="#D0D2D6"/><circle cx="437" cy="334.6" r="0.9" fill="#FFFFFF"/><circle cx="465.7" cy="328.2" r="1" fill="#F4F4F6"/><circle cx="471.8" cy="270.3" r="1.1" fill="#FFFFFF"/><circle cx="507.1" cy="265.8" r="1.1" fill="#E4E6EA"/><circle cx="484.8" cy="291.2" r="0.8" fill="#FFFFFF"/><circle cx="514.8" cy="231.6" r="1.4" fill="#A0A4AC"/><circle cx="423.8" cy="264.9" r="1" fill="#5A5E66"/><circle cx="458.1" cy="284" r="1.4" fill="#F4F4F6"/><circle cx="418.3" cy="234.5" r="0.7" fill="#A0A4AC"/><circle cx="479.5" cy="228.5" r="1" fill="#D0D2D6"/><circle cx="405.2" cy="333.3" r="1.1" fill="#FFFFFF"/><circle cx="472.7" cy="272.6" r="1.2" fill="#888C94"/><circle cx="437.8" cy="279.3" r="1.1" fill="#F4F4F6"/><circle cx="468.1" cy="247.2" r="1.2" fill="#FFFFFF"/><circle cx="431.8" cy="226.3" r="0.7" fill="#D0D2D6"/><circle cx="504.3" cy="224.4" r="1.3" fill="#FFFFFF"/><circle cx="452.7" cy="236.1" r="1" fill="#5A5E66"/><circle cx="483.7" cy="339.6" r="1" fill="#5A5E66"/><circle cx="430" cy="292.3" r="1.2" fill="#F4F4F6"/><circle cx="462.3" cy="244.2" r="1.4" fill="#A0A4AC"/><circle cx="515.9" cy="298" r="1.2" fill="#FFFFFF"/><circle cx="493" cy="312.6" r="1" fill="#5A5E66"/><circle cx="462.4" cy="285.5" r="1" fill="#D0D2D6"/><circle cx="455.2" cy="285.3" r="1.3" fill="#5A5E66"/><circle cx="464.4" cy="223.2" r="0.7" fill="#F4F4F6"/><circle cx="409.9" cy="232.7" r="0.8" fill="#FFFFFF"/><circle cx="480.5" cy="319.4" r="1" fill="#5A5E66"/><circle cx="515.1" cy="271.3" r="1" fill="#FFFFFF"/><circle cx="398" cy="222.4" r="1.2" fill="#D0D2D6"/><circle cx="406.3" cy="308.3" r="1.3" fill="#F4F4F6"/><circle cx="456.8" cy="332.1" r="0.8" fill="#A0A4AC"/><circle cx="433.4" cy="248.9" r="0.9" fill="#FFFFFF"/><circle cx="474.7" cy="287.8" r="1" fill="#FFFFFF"/><circle cx="398.6" cy="268.2" r="0.9" fill="#5A5E66"/><circle cx="405" cy="317.2" r="1" fill="#E4E6EA"/><circle cx="457" cy="253.2" r="1" fill="#FFFFFF"/><circle cx="433.4" cy="271.9" r="0.8" fill="#A0A4AC"/><circle cx="511.2" cy="251.2" r="1.3" fill="#F4F4F6"/><circle cx="429.4" cy="260.4" r="1.3" fill="#FFFFFF"/><circle cx="496.3" cy="241.7" r="0.8" fill="#5A5E66"/><circle cx="414.2" cy="264.5" r="1" fill="#FFFFFF"/><circle cx="425.6" cy="325.3" r="1.2" fill="#FFFFFF"/><circle cx="504.9" cy="263.5" r="1.2" fill="#FFFFFF"/><circle cx="475.7" cy="308.9" r="0.7" fill="#FFFFFF"/><circle cx="471.5" cy="239.1" r="1" fill="#F4F4F6"/><circle cx="426.5" cy="290.3" r="0.8" fill="#FFFFFF"/><circle cx="463.7" cy="271.3" r="1.2" fill="#888C94"/><circle cx="442.7" cy="301.5" r="0.8" fill="#FFFFFF"/><circle cx="459.4" cy="315.8" r="1.3" fill="#FFFFFF"/><circle cx="400.3" cy="232.1" r="1.3" fill="#A0A4AC"/><circle cx="500.1" cy="331.8" r="1" fill="#A0A4AC"/><circle cx="394.9" cy="252.9" r="1.4" fill="#FFFFFF"/><circle cx="424.1" cy="292" r="0.9" fill="#888C94"/><circle cx="478.3" cy="307.4" r="1.3" fill="#FFFFFF"/><circle cx="427.9" cy="274.1" r="0.7" fill="#888C94"/><circle cx="455.2" cy="311.8" r="1.3" fill="#FFFFFF"/><circle cx="420.2" cy="328.3" r="0.9" fill="#F4F4F6"/><circle cx="395.1" cy="339.1" r="0.9" fill="#FFFFFF"/><circle cx="412" cy="281.5" r="1.1" fill="#E4E6EA"/><circle cx="483.1" cy="326.3" r="1.2" fill="#FFFFFF"/><circle cx="436" cy="314.9" r="0.8" fill="#FFFFFF"/><circle cx="475.9" cy="331.1" r="0.7" fill="#FFFFFF"/><circle cx="463.6" cy="292.4" r="1" fill="#5A5E66"/><circle cx="425.9" cy="314.9" r="1.3" fill="#FFFFFF"/><circle cx="490.8" cy="283.5" r="0.8" fill="#F4F4F6"/><circle cx="445.5" cy="337" r="1.4" fill="#A0A4AC"/><circle cx="509.1" cy="291.4" r="1.4" fill="#FFFFFF"/><circle cx="496.2" cy="305.7" r="1.3" fill="#FFFFFF"/><circle cx="412.5" cy="291" r="1.4" fill="#D0D2D6"/><circle cx="474.2" cy="247.4" r="1.1" fill="#FFFFFF"/><circle cx="473" cy="242.9" r="0.9" fill="#FFFFFF"/><circle cx="459.3" cy="283" r="1.4" fill="#FFFFFF"/><circle cx="423.7" cy="235.8" r="1.1" fill="#F4F4F6"/><circle cx="429.8" cy="285.6" r="1.2" fill="#FFFFFF"/><circle cx="479.4" cy="333.1" r="0.8" fill="#D0D2D6"/><circle cx="420.4" cy="277.3" r="1.2" fill="#FFFFFF"/><circle cx="403.8" cy="261.3" r="0.9" fill="#FFFFFF"/><circle cx="395.4" cy="297.7" r="1.2" fill="#F4F4F6"/><circle cx="480.3" cy="283.7" r="0.8" fill="#888C94"/><circle cx="489.9" cy="246.4" r="0.8" fill="#FFFFFF"/><circle cx="460.7" cy="249.9" r="1.3" fill="#FFFFFF"/><circle cx="505.2" cy="260" r="0.8" fill="#E4E6EA"/><circle cx="442.2" cy="240.7" r="1" fill="#888C94"/><circle cx="427.4" cy="257.1" r="1.1" fill="#888C94"/><circle cx="517.2" cy="284.8" r="1" fill="#D0D2D6"/><circle cx="510" cy="265" r="0.7" fill="#FFFFFF"/><circle cx="413.7" cy="323.8" r="1.1" fill="#F4F4F6"/><circle cx="498" cy="307.2" r="0.9" fill="#FFFFFF"/><circle cx="467.6" cy="247.2" r="0.8" fill="#A0A4AC"/><circle cx="450.1" cy="255.2" r="1" fill="#FFFFFF"/><circle cx="396.4" cy="338.5" r="1.4" fill="#A0A4AC"/><circle cx="473.1" cy="272.3" r="1.2" fill="#D0D2D6"/><circle cx="502.5" cy="279.9" r="0.7" fill="#5A5E66"/><circle cx="416.8" cy="324.2" r="0.7" fill="#5A5E66"/><circle cx="515.3" cy="330.8" r="1" fill="#FFFFFF"/><circle cx="469.1" cy="224.7" r="1" fill="#A0A4AC"/><circle cx="502.1" cy="289.3" r="1" fill="#FFFFFF"/><circle cx="486.1" cy="284.5" r="0.9" fill="#D0D2D6"/><circle cx="457.9" cy="288.4" r="1.1" fill="#888C94"/><circle cx="499.3" cy="271.4" r="1.2" fill="#888C94"/><circle cx="460.9" cy="270.4" r="1.3" fill="#FFFFFF"/><circle cx="502.4" cy="236.6" r="0.7" fill="#888C94"/><circle cx="481.2" cy="305.3" r="1.3" fill="#888C94"/><circle cx="427.4" cy="242.5" r="1.2" fill="#D0D2D6"/><circle cx="415.2" cy="339.1" r="0.7" fill="#888C94"/><circle cx="504.8" cy="331.1" r="1.2" fill="#888C94"/><circle cx="471.8" cy="311.8" r="1.1" fill="#FFFFFF"/><circle cx="471.9" cy="316.7" r="0.9" fill="#FFFFFF"/><circle cx="476.3" cy="305" r="1.1" fill="#FFFFFF"/><circle cx="456.9" cy="296.2" r="1.3" fill="#FFFFFF"/><circle cx="483.4" cy="300.4" r="1.2" fill="#D0D2D6"/><circle cx="500.4" cy="333.2" r="1.2" fill="#5A5E66"/><circle cx="467.2" cy="339.9" r="1.1" fill="#D0D2D6"/><circle cx="455.6" cy="246.5" r="1" fill="#FFFFFF"/><circle cx="433.9" cy="252.3" r="0.7" fill="#FFFFFF"/><circle cx="434.6" cy="310.3" r="1.1" fill="#888C94"/><circle cx="423.7" cy="311.5" r="1.1" fill="#A0A4AC"/><circle cx="497.9" cy="231.7" r="1" fill="#D0D2D6"/><circle cx="509.7" cy="234.4" r="1.2" fill="#FFFFFF"/><circle cx="429.8" cy="311.9" r="1.2" fill="#5A5E66"/><circle cx="404.7" cy="303.9" r="1.2" fill="#FFFFFF"/><circle cx="488.6" cy="228.2" r="0.9" fill="#A0A4AC"/><circle cx="398.3" cy="272.3" r="1" fill="#D0D2D6"/><circle cx="506.9" cy="307.3" r="1.2" fill="#FFFFFF"/><circle cx="506.8" cy="234.2" r="0.9" fill="#F4F4F6"/><circle cx="428.1" cy="279.7" r="1" fill="#888C94"/><circle cx="458.8" cy="298.7" r="1.1" fill="#E4E6EA"/><circle cx="460.6" cy="236.9" r="1.2" fill="#E4E6EA"/><circle cx="409.6" cy="253.5" r="1.1" fill="#FFFFFF"/><circle cx="413.6" cy="245.2" r="1.1" fill="#5A5E66"/><circle cx="438.5" cy="247.7" r="1.3" fill="#5A5E66"/><circle cx="487.1" cy="322.5" r="1.2" fill="#888C94"/><circle cx="447.8" cy="263.7" r="1.3" fill="#888C94"/><circle cx="470.4" cy="287.3" r="1.2" fill="#FFFFFF"/><circle cx="494.8" cy="322.6" r="1.2" fill="#5A5E66"/><circle cx="472.6" cy="317" r="0.8" fill="#A0A4AC"/><circle cx="440.2" cy="286.5" r="0.9" fill="#E4E6EA"/><circle cx="450.6" cy="273.4" r="1" fill="#A0A4AC"/><circle cx="462.3" cy="238.2" r="1.2" fill="#FFFFFF"/><circle cx="437.2" cy="251.2" r="1.4" fill="#E4E6EA"/><circle cx="419" cy="317.9" r="1.4" fill="#A0A4AC"/><circle cx="420.7" cy="228.6" r="0.9" fill="#F4F4F6"/><circle cx="484.9" cy="258.1" r="1" fill="#FFFFFF"/><circle cx="423.2" cy="275.7" r="1.3" fill="#FFFFFF"/><circle cx="466.4" cy="307.3" r="1.3" fill="#888C94"/><circle cx="457.4" cy="293.8" r="1.3" fill="#FFFFFF"/><circle cx="466.1" cy="267.9" r="0.9" fill="#FFFFFF"/><circle cx="517.8" cy="312.2" r="0.9" fill="#5A5E66"/><circle cx="456.5" cy="310" r="0.7" fill="#F4F4F6"/><circle cx="434.9" cy="234.6" r="1.2" fill="#5A5E66"/><circle cx="503.5" cy="273.2" r="0.9" fill="#888C94"/><circle cx="447.7" cy="274.4" r="1.4" fill="#FFFFFF"/><circle cx="462.6" cy="232.3" r="1.3" fill="#5A5E66"/><circle cx="469.6" cy="244.6" r="1.1" fill="#A0A4AC"/><circle cx="465.8" cy="230.2" r="0.9" fill="#A0A4AC"/><circle cx="433.8" cy="323.9" r="0.8" fill="#D0D2D6"/><circle cx="503.5" cy="296.5" r="1.1" fill="#A0A4AC"/><circle cx="455.9" cy="325.5" r="0.8" fill="#F4F4F6"/><circle cx="465" cy="308.8" r="1.2" fill="#888C94"/><circle cx="420.1" cy="323.9" r="1.1" fill="#FFFFFF"/><circle cx="514.9" cy="255.7" r="1.4" fill="#FFFFFF"/><circle cx="460.5" cy="237.7" r="0.7" fill="#5A5E66"/><circle cx="450.9" cy="257.8" r="0.9" fill="#FFFFFF"/><circle cx="475.3" cy="227.9" r="0.8" fill="#D0D2D6"/><circle cx="464.8" cy="311.1" r="1" fill="#E4E6EA"/><circle cx="427.2" cy="316.4" r="1" fill="#E4E6EA"/><circle cx="464.5" cy="322" r="0.9" fill="#5A5E66"/><circle cx="410.7" cy="319.1" r="0.8" fill="#FFFFFF"/><circle cx="420.8" cy="290.2" r="1" fill="#FFFFFF"/><circle cx="395.4" cy="227.4" r="1" fill="#E4E6EA"/><circle cx="467.3" cy="289.1" r="0.8" fill="#F4F4F6"/><circle cx="474.7" cy="279.7" r="1.2" fill="#5A5E66"/><circle cx="411" cy="274.2" r="1.2" fill="#FFFFFF"/><circle cx="441.5" cy="266.5" r="1.2" fill="#FFFFFF"/><circle cx="491.5" cy="315.2" r="1.3" fill="#FFFFFF"/><circle cx="436.1" cy="259.4" r="0.8" fill="#FFFFFF"/><circle cx="494.6" cy="231.2" r="0.9" fill="#A0A4AC"/><circle cx="429.3" cy="233.2" r="0.9" fill="#FFFFFF"/><circle cx="487.2" cy="257.9" r="0.8" fill="#FFFFFF"/><circle cx="478.4" cy="261.3" r="0.8" fill="#FFFFFF"/><circle cx="516.8" cy="228.5" r="0.7" fill="#A0A4AC"/><circle cx="425.1" cy="234.1" r="0.9" fill="#FFFFFF"/><circle cx="499.6" cy="232.3" r="1.3" fill="#FFFFFF"/><circle cx="445.9" cy="237.4" r="0.8" fill="#A0A4AC"/><circle cx="399.4" cy="277" r="1" fill="#FFFFFF"/><circle cx="430.1" cy="271" r="0.8" fill="#FFFFFF"/><circle cx="405.4" cy="248.7" r="1.3" fill="#F4F4F6"/><circle cx="417.3" cy="271.4" r="1" fill="#FFFFFF"/><circle cx="425.7" cy="304.3" r="0.8" fill="#FFFFFF"/><circle cx="513.4" cy="303.8" r="1.3" fill="#F4F4F6"/><circle cx="467.1" cy="317.3" r="1.3" fill="#5A5E66"/><circle cx="416.8" cy="227.6" r="1.2" fill="#D0D2D6"/><circle cx="472.5" cy="289.8" r="0.9" fill="#888C94"/><circle cx="412.4" cy="229.4" r="1.1" fill="#FFFFFF"/><circle cx="472.7" cy="234.7" r="1" fill="#FFFFFF"/><circle cx="398.7" cy="250.7" r="1.3" fill="#E4E6EA"/><circle cx="450" cy="247.8" r="0.9" fill="#5A5E66"/><circle cx="489.5" cy="264.6" r="1.2" fill="#FFFFFF"/><circle cx="482.2" cy="259.4" r="1.3" fill="#888C94"/><circle cx="409.5" cy="312.8" r="1.2" fill="#888C94"/><circle cx="467.6" cy="245.4" r="1.1" fill="#FFFFFF"/><circle cx="428.7" cy="255.2" r="0.8" fill="#A0A4AC"/><circle cx="423.4" cy="234.8" r="0.8" fill="#FFFFFF"/><circle cx="416.6" cy="276" r="0.8" fill="#FFFFFF"/><circle cx="472.9" cy="288.3" r="0.7" fill="#FFFFFF"/><circle cx="409.1" cy="249" r="1.3" fill="#FFFFFF"/><circle cx="426.8" cy="262.8" r="0.7" fill="#888C94"/><circle cx="500.6" cy="234.1" r="1.1" fill="#888C94"/><circle cx="396" cy="295" r="0.9" fill="#D0D2D6"/><circle cx="485.6" cy="262.8" r="0.9" fill="#5A5E66"/><circle cx="483.1" cy="288.7" r="0.8" fill="#5A5E66"/><circle cx="446.5" cy="303.1" r="1.3" fill="#D0D2D6"/><circle cx="445.7" cy="230.3" r="0.7" fill="#888C94"/><circle cx="428" cy="331.9" r="1.4" fill="#E4E6EA"/><circle cx="429.6" cy="337.9" r="1" fill="#A0A4AC"/><circle cx="418.5" cy="264.4" r="0.7" fill="#FFFFFF"/><circle cx="478.7" cy="232.4" r="0.9" fill="#FFFFFF"/><circle cx="434.5" cy="279.4" r="0.9" fill="#FFFFFF"/><circle cx="457.6" cy="249.4" r="1" fill="#5A5E66"/><circle cx="491.3" cy="287.3" r="1" fill="#A0A4AC"/><circle cx="403.9" cy="324.1" r="0.9" fill="#FFFFFF"/><circle cx="449.4" cy="245.9" r="1.4" fill="#E4E6EA"/><circle cx="476.5" cy="286.8" r="1" fill="#FFFFFF"/><circle cx="435.8" cy="334.6" r="0.8" fill="#D0D2D6"/><circle cx="494.7" cy="298.2" r="1.2" fill="#888C94"/><circle cx="448.3" cy="316" r="0.8" fill="#FFFFFF"/><circle cx="408.6" cy="315.9" r="0.8" fill="#D0D2D6"/><circle cx="456.1" cy="320.5" r="1.3" fill="#A0A4AC"/><circle cx="459.1" cy="267.7" r="1" fill="#FFFFFF"/><circle cx="486.6" cy="311.9" r="0.8" fill="#FFFFFF"/><circle cx="400.7" cy="319.7" r="0.9" fill="#E4E6EA"/><circle cx="403.5" cy="254.7" r="0.7" fill="#E4E6EA"/><circle cx="397.4" cy="248.5" r="1" fill="#D0D2D6"/><circle cx="422.4" cy="254.9" r="0.9" fill="#FFFFFF"/><circle cx="454.9" cy="308.5" r="0.7" fill="#A0A4AC"/><circle cx="403.6" cy="310.9" r="0.8" fill="#FFFFFF"/><circle cx="410.9" cy="326.1" r="1.2" fill="#E4E6EA"/><circle cx="511.6" cy="321.2" r="0.8" fill="#888C94"/><circle cx="466.7" cy="245.4" r="1.3" fill="#F4F4F6"/><circle cx="505.8" cy="302.2" r="1.2" fill="#FFFFFF"/><circle cx="486.5" cy="293.9" r="0.8" fill="#888C94"/><circle cx="463.8" cy="310" r="1.2" fill="#FFFFFF"/><circle cx="502.6" cy="266.7" r="1.2" fill="#888C94"/><circle cx="396.6" cy="234.8" r="1.4" fill="#FFFFFF"/><circle cx="430.5" cy="229.3" r="0.8" fill="#FFFFFF"/><circle cx="445.6" cy="245.2" r="1.4" fill="#FFFFFF"/><circle cx="485.3" cy="237.2" r="1" fill="#FFFFFF"/><circle cx="436.3" cy="270.7" r="0.9" fill="#F4F4F6"/><circle cx="474.7" cy="283.5" r="1.3" fill="#FFFFFF"/><circle cx="415.6" cy="296.7" r="1.1" fill="#FFFFFF"/><circle cx="459.8" cy="327.1" r="0.9" fill="#E4E6EA"/><circle cx="468.6" cy="288.9" r="0.7" fill="#FFFFFF"/><circle cx="436.4" cy="330.8" r="1.4" fill="#888C94"/><circle cx="470" cy="289.4" r="0.7" fill="#888C94"/><circle cx="456.5" cy="264" r="1.2" fill="#FFFFFF"/><circle cx="441.1" cy="229.1" r="1.3" fill="#D0D2D6"/><circle cx="397.4" cy="251.6" r="1.3" fill="#F4F4F6"/><circle cx="502.3" cy="243" r="1.1" fill="#E4E6EA"/><circle cx="439.5" cy="286.8" r="1" fill="#FFFFFF"/><circle cx="462.8" cy="313.2" r="1.4" fill="#D0D2D6"/><circle cx="437.4" cy="273.5" r="0.9" fill="#E4E6EA"/><circle cx="441.7" cy="223" r="1.4" fill="#888C94"/><circle cx="501.6" cy="264.7" r="0.8" fill="#D0D2D6"/><circle cx="502.5" cy="256" r="1.1" fill="#F4F4F6"/><circle cx="449.8" cy="291.5" r="0.7" fill="#F4F4F6"/><circle cx="444.3" cy="294.1" r="1" fill="#FFFFFF"/><circle cx="416" cy="273.3" r="1.3" fill="#5A5E66"/><circle cx="460" cy="288.4" r="1.1" fill="#FFFFFF"/><circle cx="477.6" cy="281.1" r="0.8" fill="#888C94"/><circle cx="503.2" cy="278.5" r="1.3" fill="#888C94"/><circle cx="446.3" cy="277.7" r="1.2" fill="#FFFFFF"/><circle cx="432.2" cy="268.2" r="0.8" fill="#FFFFFF"/><circle cx="425.8" cy="229" r="0.8" fill="#F4F4F6"/><circle cx="455.5" cy="321.2" r="0.9" fill="#FFFFFF"/><circle cx="435.1" cy="229.1" r="0.9" fill="#A0A4AC"/><circle cx="517.2" cy="264.6" r="0.9" fill="#888C94"/><circle cx="395.2" cy="309.5" r="1.4" fill="#A0A4AC"/><circle cx="455.7" cy="299.4" r="0.8" fill="#5A5E66"/><circle cx="448.7" cy="234.5" r="0.8" fill="#A0A4AC"/><circle cx="425.4" cy="240.3" r="0.7" fill="#5A5E66"/><circle cx="498.4" cy="334.6" r="1.1" fill="#5A5E66"/><circle cx="485.2" cy="327.6" r="0.8" fill="#D0D2D6"/><circle cx="460.4" cy="275.6" r="1.3" fill="#FFFFFF"/><circle cx="396.3" cy="290.9" r="1.3" fill="#E4E6EA"/><circle cx="470.4" cy="231.6" r="1.2" fill="#5A5E66"/><circle cx="401" cy="286.9" r="1.2" fill="#F4F4F6"/><circle cx="421.2" cy="325.6" r="0.9" fill="#E4E6EA"/><circle cx="512.1" cy="257.1" r="1.3" fill="#F4F4F6"/><circle cx="484.7" cy="329.4" r="0.7" fill="#FFFFFF"/><circle cx="419.1" cy="228.7" r="1" fill="#F4F4F6"/><circle cx="394.7" cy="323.7" r="1.1" fill="#5A5E66"/><circle cx="494" cy="279.7" r="1" fill="#A0A4AC"/><circle cx="456.9" cy="230.6" r="1.1" fill="#FFFFFF"/><circle cx="418.8" cy="337.6" r="1.1" fill="#5A5E66"/><circle cx="423.6" cy="275.1" r="0.7" fill="#888C94"/><circle cx="500.5" cy="222.7" r="1" fill="#F4F4F6"/><circle cx="515.8" cy="265.6" r="0.9" fill="#FFFFFF"/><circle cx="497.4" cy="314.1" r="0.8" fill="#E4E6EA"/><circle cx="395.6" cy="259.3" r="0.7" fill="#FFFFFF"/><circle cx="509.1" cy="223" r="1.3" fill="#FFFFFF"/><circle cx="435.3" cy="302.5" r="0.9" fill="#A0A4AC"/><circle cx="514.9" cy="257.1" r="1.3" fill="#D0D2D6"/><circle cx="509.9" cy="296.1" r="1.4" fill="#888C94"/><circle cx="414.4" cy="287.5" r="1.4" fill="#5A5E66"/><circle cx="447.2" cy="241.5" r="0.8" fill="#FFFFFF"/><circle cx="492.5" cy="239.9" r="1.1" fill="#FFFFFF"/><circle cx="394.4" cy="282" r="1.1" fill="#A0A4AC"/><circle cx="442" cy="307.3" r="1.1" fill="#FFFFFF"/><circle cx="432.4" cy="302.5" r="1" fill="#D0D2D6"/><circle cx="442.6" cy="230.1" r="0.7" fill="#F4F4F6"/><circle cx="499.3" cy="326.6" r="0.8" fill="#D0D2D6"/><circle cx="454.6" cy="232.9" r="1.2" fill="#D0D2D6"/><circle cx="508.1" cy="265.6" r="1.2" fill="#FFFFFF"/><circle cx="450.6" cy="280.1" r="1.1" fill="#FFFFFF"/><circle cx="427.8" cy="284.2" r="0.8" fill="#888C94"/><circle cx="409.5" cy="324.2" r="0.8" fill="#D0D2D6"/><circle cx="516" cy="291" r="1.2" fill="#F4F4F6"/><circle cx="470.4" cy="313.1" r="0.9" fill="#5A5E66"/><circle cx="453.8" cy="245.5" r="1.1" fill="#FFFFFF"/><circle cx="464.5" cy="260.3" r="1.2" fill="#FFFFFF"/><circle cx="465" cy="232.8" r="1.2" fill="#F4F4F6"/><circle cx="490.1" cy="316.4" r="0.9" fill="#FFFFFF"/><circle cx="503" cy="314.9" r="0.9" fill="#FFFFFF"/><circle cx="446.4" cy="306.9" r="0.8" fill="#D0D2D6"/><circle cx="517.8" cy="288.9" r="0.9" fill="#888C94"/><circle cx="461.4" cy="312.2" r="1.1" fill="#D0D2D6"/><circle cx="502.3" cy="329.8" r="1.3" fill="#E4E6EA"/><circle cx="516.3" cy="315.1" r="1.1" fill="#888C94"/><circle cx="412.4" cy="333" r="1.3" fill="#FFFFFF"/><circle cx="424.8" cy="323.2" r="1.3" fill="#FFFFFF"/><circle cx="433.2" cy="259.9" r="1.3" fill="#A0A4AC"/><circle cx="457.3" cy="255.6" r="0.7" fill="#5A5E66"/><circle cx="400.2" cy="273.3" r="1.3" fill="#FFFFFF"/><circle cx="423.2" cy="325.8" r="1" fill="#FFFFFF"/><circle cx="430.3" cy="300.4" r="1" fill="#F4F4F6"/><circle cx="488.6" cy="295.2" r="1" fill="#5A5E66"/><circle cx="506.2" cy="294.7" r="1" fill="#F4F4F6"/><circle cx="415.3" cy="326.2" r="1.4" fill="#FFFFFF"/><circle cx="495" cy="316" r="0.7" fill="#F4F4F6"/><circle cx="491.5" cy="302.7" r="1" fill="#FFFFFF"/><circle cx="410.6" cy="336.4" r="1" fill="#F4F4F6"/><circle cx="434.2" cy="244.4" r="1.3" fill="#FFFFFF"/><circle cx="512.9" cy="316.7" r="0.9" fill="#E4E6EA"/><circle cx="396.8" cy="222.1" r="1.1" fill="#FFFFFF"/><circle cx="475.7" cy="265.8" r="0.8" fill="#D0D2D6"/><circle cx="450.8" cy="319.9" r="0.8" fill="#FFFFFF"/><circle cx="479.7" cy="234.6" r="0.7" fill="#888C94"/><circle cx="471.8" cy="278.1" r="0.8" fill="#FFFFFF"/><circle cx="512.1" cy="260.9" r="1" fill="#FFFFFF"/><circle cx="494.3" cy="257" r="0.8" fill="#888C94"/><circle cx="492.9" cy="335.7" r="1.1" fill="#A0A4AC"/><circle cx="476.7" cy="246" r="1.3" fill="#FFFFFF"/><circle cx="436.1" cy="311.6" r="1.1" fill="#FFFFFF"/><circle cx="503" cy="337.2" r="1" fill="#FFFFFF"/><circle cx="434.8" cy="263" r="1.2" fill="#FFFFFF"/><circle cx="463.8" cy="236.5" r="1" fill="#888C94"/><circle cx="419.9" cy="232.8" r="1.3" fill="#FFFFFF"/><circle cx="430.1" cy="280.4" r="1.3" fill="#888C94"/><circle cx="466.8" cy="230" r="1" fill="#888C94"/><circle cx="485.5" cy="256.1" r="1.2" fill="#A0A4AC"/><circle cx="460.8" cy="333.6" r="1" fill="#FFFFFF"/><circle cx="444.5" cy="289.4" r="1" fill="#FFFFFF"/><circle cx="453.7" cy="334.5" r="1.3" fill="#FFFFFF"/><circle cx="493.6" cy="253.4" r="1.1" fill="#D0D2D6"/><circle cx="477" cy="295.3" r="1.3" fill="#D0D2D6"/><circle cx="469.7" cy="296.4" r="1.1" fill="#888C94"/><circle cx="399.7" cy="232.2" r="0.9" fill="#A0A4AC"/><circle cx="494.5" cy="315.2" r="1.3" fill="#A0A4AC"/><circle cx="516.3" cy="259.2" r="1.4" fill="#5A5E66"/><circle cx="474.3" cy="252.1" r="0.9" fill="#D0D2D6"/><circle cx="475.4" cy="312.5" r="0.9" fill="#A0A4AC"/><circle cx="459.4" cy="311.1" r="0.8" fill="#5A5E66"/><circle cx="436.8" cy="272.7" r="0.9" fill="#FFFFFF"/><circle cx="511.2" cy="222.1" r="1.1" fill="#888C94"/><circle cx="435.9" cy="223" r="1.3" fill="#E4E6EA"/><circle cx="447.8" cy="243.9" r="0.8" fill="#888C94"/><circle cx="455.5" cy="316.1" r="1.4" fill="#D0D2D6"/><circle cx="444.8" cy="229.7" r="0.7" fill="#A0A4AC"/><circle cx="409.8" cy="270.3" r="1" fill="#F4F4F6"/><circle cx="509.8" cy="263.6" r="0.8" fill="#D0D2D6"/><circle cx="412.8" cy="245" r="0.7" fill="#FFFFFF"/><circle cx="469.4" cy="246.9" r="1.2" fill="#FFFFFF"/><circle cx="426.4" cy="295.3" r="1.1" fill="#FFFFFF"/><circle cx="492.2" cy="308.5" r="1.1" fill="#FFFFFF"/><circle cx="438.7" cy="296.8" r="1.1" fill="#E4E6EA"/><circle cx="420.5" cy="222.3" r="1.1" fill="#D0D2D6"/><circle cx="453.6" cy="327" r="1.4" fill="#D0D2D6"/><circle cx="414.5" cy="338.4" r="0.8" fill="#888C94"/><circle cx="413.6" cy="308.3" r="1.2" fill="#FFFFFF"/><circle cx="512.5" cy="252.4" r="0.8" fill="#888C94"/><circle cx="401.1" cy="327.3" r="0.8" fill="#888C94"/><circle cx="444.3" cy="324.9" r="0.8" fill="#FFFFFF"/><circle cx="454.7" cy="325.1" r="1" fill="#F4F4F6"/><circle cx="459.3" cy="232.5" r="1.3" fill="#D0D2D6"/><circle cx="492.6" cy="267.2" r="0.8" fill="#FFFFFF"/><circle cx="455" cy="225.7" r="1.2" fill="#F4F4F6"/><circle cx="488.1" cy="254.4" r="1.4" fill="#FFFFFF"/><circle cx="404" cy="313.2" r="0.9" fill="#E4E6EA"/><circle cx="490.8" cy="302.4" r="1" fill="#FFFFFF"/><circle cx="496.8" cy="244" r="0.7" fill="#D0D2D6"/><circle cx="396.3" cy="309.7" r="0.9" fill="#A0A4AC"/><circle cx="415.7" cy="298" r="0.7" fill="#5A5E66"/><circle cx="472.7" cy="275.6" r="1" fill="#FFFFFF"/><circle cx="444.1" cy="272.8" r="1.1" fill="#FFFFFF"/><circle cx="499.9" cy="241.3" r="1" fill="#F4F4F6"/><circle cx="492.8" cy="279.5" r="0.9" fill="#D0D2D6"/><circle cx="413.1" cy="293.7" r="0.9" fill="#FFFFFF"/><circle cx="456.3" cy="252.3" r="0.7" fill="#FFFFFF"/><circle cx="395.1" cy="298.3" r="1" fill="#5A5E66"/><circle cx="394.8" cy="271.3" r="1.1" fill="#888C94"/><circle cx="452" cy="319" r="1.2" fill="#FFFFFF"/><circle cx="398.9" cy="318.3" r="1.3" fill="#D0D2D6"/><circle cx="474.9" cy="253.8" r="0.9" fill="#E4E6EA"/><circle cx="421.1" cy="318.6" r="0.7" fill="#A0A4AC"/><circle cx="489" cy="289.7" r="0.7" fill="#F4F4F6"/><circle cx="394.1" cy="222.6" r="1.1" fill="#FFFFFF"/><circle cx="480.1" cy="249.1" r="1" fill="#D0D2D6"/><circle cx="453.3" cy="287.3" r="0.9" fill="#888C94"/><circle cx="451.3" cy="228.5" r="1.4" fill="#E4E6EA"/><circle cx="456.3" cy="245.1" r="0.8" fill="#D0D2D6"/><circle cx="489.6" cy="262.3" r="0.8" fill="#D0D2D6"/><circle cx="486.6" cy="299.6" r="0.8" fill="#F4F4F6"/><circle cx="506.9" cy="318.5" r="0.8" fill="#F4F4F6"/><circle cx="481.6" cy="292.6" r="0.8" fill="#FFFFFF"/><circle cx="513.5" cy="279.6" r="0.8" fill="#F4F4F6"/><circle cx="511.3" cy="318.4" r="1.3" fill="#D0D2D6"/><circle cx="469.8" cy="304.6" r="1.4" fill="#E4E6EA"/><circle cx="503.9" cy="294.9" r="1.2" fill="#5A5E66"/><circle cx="457.6" cy="254.3" r="0.7" fill="#888C94"/><circle cx="408.8" cy="334.6" r="1.3" fill="#E4E6EA"/><circle cx="499.6" cy="306.9" r="1" fill="#E4E6EA"/><circle cx="403.2" cy="245.5" r="1.4" fill="#888C94"/><circle cx="429.8" cy="324" r="0.9" fill="#FFFFFF"/><circle cx="481" cy="268" r="1.1" fill="#888C94"/><circle cx="515.5" cy="273.3" r="1" fill="#F4F4F6"/><circle cx="401.4" cy="329.1" r="1.2" fill="#FFFFFF"/><circle cx="423.7" cy="255.7" r="1.1" fill="#888C94"/><circle cx="408.4" cy="336.7" r="1.3" fill="#FFFFFF"/><circle cx="513.1" cy="295.4" r="1.2" fill="#F4F4F6"/><circle cx="419.4" cy="232" r="0.9" fill="#A0A4AC"/><circle cx="411.5" cy="290.7" r="1" fill="#F4F4F6"/><circle cx="399.7" cy="325.1" r="1.4" fill="#888C94"/><circle cx="502.4" cy="271" r="0.8" fill="#A0A4AC"/><circle cx="447.5" cy="272.6" r="1.1" fill="#E4E6EA"/><circle cx="414.2" cy="308.5" r="0.9" fill="#FFFFFF"/><circle cx="466.2" cy="315" r="0.8" fill="#D0D2D6"/><circle cx="477.1" cy="283.9" r="1.3" fill="#FFFFFF"/><circle cx="461.8" cy="239.3" r="0.8" fill="#FFFFFF"/><circle cx="474.4" cy="299.2" r="1.3" fill="#D0D2D6"/><circle cx="420.7" cy="235.3" r="1.4" fill="#FFFFFF"/><circle cx="493.7" cy="322.1" r="0.8" fill="#888C94"/><circle cx="434.2" cy="255.9" r="0.8" fill="#888C94"/><circle cx="422.2" cy="249" r="1.2" fill="#E4E6EA"/><circle cx="466.4" cy="252.4" r="1.2" fill="#5A5E66"/><circle cx="441.4" cy="262.5" r="1.1" fill="#F4F4F6"/><circle cx="455.9" cy="247.5" r="0.7" fill="#F4F4F6"/><circle cx="457.8" cy="325.9" r="0.8" fill="#888C94"/><circle cx="409.7" cy="317.2" r="1.2" fill="#FFFFFF"/><circle cx="425.8" cy="263.8" r="0.8" fill="#E4E6EA"/><circle cx="450.6" cy="332.6" r="1.2" fill="#FFFFFF"/><circle cx="511.2" cy="302.8" r="0.7" fill="#FFFFFF"/><circle cx="417.4" cy="237.7" r="1.3" fill="#FFFFFF"/><circle cx="479.6" cy="236.2" r="0.7" fill="#5A5E66"/><circle cx="515" cy="270.2" r="0.9" fill="#5A5E66"/><circle cx="438.2" cy="229.2" r="1.4" fill="#888C94"/><circle cx="402.7" cy="334.7" r="0.9" fill="#888C94"/><circle cx="418.4" cy="224.3" r="0.8" fill="#FFFFFF"/><circle cx="433.6" cy="337.2" r="1.4" fill="#FFFFFF"/><circle cx="507.9" cy="233.4" r="0.9" fill="#D0D2D6"/><circle cx="507" cy="339" r="0.9" fill="#E4E6EA"/><circle cx="474.6" cy="223.7" r="1.1" fill="#FFFFFF"/><circle cx="430.2" cy="324.8" r="1.3" fill="#D0D2D6"/><circle cx="504.6" cy="277.4" r="1.2" fill="#888C94"/><circle cx="419.1" cy="243.7" r="1.4" fill="#E4E6EA"/><circle cx="422.6" cy="301.9" r="1.4" fill="#F4F4F6"/><circle cx="437.1" cy="312.5" r="1.2" fill="#FFFFFF"/><circle cx="421.2" cy="265.5" r="0.7" fill="#D0D2D6"/><circle cx="420.3" cy="327.3" r="0.9" fill="#5A5E66"/><circle cx="462.3" cy="246" r="1.2" fill="#FFFFFF"/><circle cx="395" cy="287.5" r="1.1" fill="#D0D2D6"/><circle cx="411.7" cy="273.5" r="1.4" fill="#FFFFFF"/><circle cx="450.6" cy="310.9" r="1" fill="#A0A4AC"/><circle cx="509.3" cy="282.4" r="1.1" fill="#D0D2D6"/><circle cx="469" cy="233.3" r="1.2" fill="#FFFFFF"/><circle cx="458.5" cy="320.5" r="1.1" fill="#FFFFFF"/><circle cx="420.4" cy="240.5" r="1.1" fill="#F4F4F6"/><circle cx="416.2" cy="226.6" r="0.8" fill="#FFFFFF"/><circle cx="486.9" cy="226.4" r="0.9" fill="#E4E6EA"/><circle cx="498.7" cy="320.2" r="0.9" fill="#888C94"/><circle cx="451.5" cy="335.2" r="1.2" fill="#E4E6EA"/><circle cx="506.7" cy="238.3" r="1" fill="#D0D2D6"/><circle cx="507.7" cy="299" r="0.9" fill="#D0D2D6"/><circle cx="426.6" cy="338.7" r="1.3" fill="#F4F4F6"/><circle cx="426.5" cy="332.3" r="1" fill="#A0A4AC"/><circle cx="416.6" cy="330.1" r="1.2" fill="#F4F4F6"/><circle cx="412.9" cy="273.5" r="1.1" fill="#5A5E66"/><circle cx="506.1" cy="235.1" r="1.2" fill="#FFFFFF"/><circle cx="455.3" cy="292.2" r="0.9" fill="#FFFFFF"/><circle cx="496.2" cy="244.3" r="0.9" fill="#D0D2D6"/><circle cx="471.4" cy="334.7" r="1.4" fill="#FFFFFF"/><circle cx="473.6" cy="316.9" r="1.2" fill="#E4E6EA"/><circle cx="432.3" cy="226.5" r="0.7" fill="#A0A4AC"/><circle cx="503.3" cy="327.3" r="0.8" fill="#E4E6EA"/><circle cx="411.4" cy="244.7" r="1" fill="#FFFFFF"/><circle cx="417.3" cy="293.3" r="1.2" fill="#F4F4F6"/><circle cx="405.5" cy="230.7" r="0.8" fill="#888C94"/><circle cx="412.5" cy="265.3" r="1" fill="#A0A4AC"/><circle cx="484.2" cy="276.1" r="1.4" fill="#FFFFFF"/><circle cx="464.4" cy="279.1" r="1.2" fill="#5A5E66"/><circle cx="498.9" cy="301.1" r="1.1" fill="#D0D2D6"/><circle cx="404.3" cy="261.2" r="1.4" fill="#FFFFFF"/><circle cx="409.7" cy="249.1" r="0.8" fill="#FFFFFF"/><circle cx="441.8" cy="327.7" r="1" fill="#888C94"/><circle cx="396.3" cy="296.7" r="0.9" fill="#FFFFFF"/><circle cx="516" cy="257.8" r="0.7" fill="#888C94"/><circle cx="493.6" cy="316.4" r="1.3" fill="#E4E6EA"/><circle cx="516.8" cy="294.6" r="1.2" fill="#A0A4AC"/><circle cx="496.2" cy="312.4" r="0.8" fill="#888C94"/><circle cx="433.7" cy="245" r="0.9" fill="#5A5E66"/><circle cx="396.8" cy="310.9" r="0.8" fill="#FFFFFF"/><circle cx="400.9" cy="274.9" r="0.8" fill="#FFFFFF"/><circle cx="506.7" cy="252" r="0.9" fill="#FFFFFF"/><circle cx="425.8" cy="257.2" r="1" fill="#E4E6EA"/><circle cx="509.5" cy="261.3" r="1.2" fill="#5A5E66"/><circle cx="465.9" cy="244.7" r="1.2" fill="#FFFFFF"/><circle cx="436.9" cy="275.5" r="1.1" fill="#A0A4AC"/><circle cx="444.1" cy="333.3" r="1.1" fill="#F4F4F6"/><circle cx="446.1" cy="317.8" r="1.1" fill="#A0A4AC"/><circle cx="505.8" cy="277.9" r="1.4" fill="#FFFFFF"/><circle cx="469.9" cy="262.4" r="1.1" fill="#FFFFFF"/><circle cx="509.2" cy="228.5" r="0.8" fill="#D0D2D6"/><circle cx="407.8" cy="238.7" r="0.9" fill="#FFFFFF"/><circle cx="454.8" cy="338.5" r="1" fill="#F4F4F6"/><circle cx="413.9" cy="315.6" r="1" fill="#D0D2D6"/><circle cx="502.2" cy="325.4" r="0.8" fill="#5A5E66"/><circle cx="455.9" cy="272.9" r="0.8" fill="#E4E6EA"/><circle cx="443.9" cy="226.6" r="0.7" fill="#888C94"/><circle cx="505.8" cy="323.3" r="0.9" fill="#5A5E66"/><circle cx="410.4" cy="235" r="0.8" fill="#FFFFFF"/><circle cx="488.2" cy="246.1" r="1" fill="#5A5E66"/><circle cx="407.3" cy="292.8" r="1.3" fill="#E4E6EA"/><circle cx="475.3" cy="290.6" r="1.4" fill="#F4F4F6"/><circle cx="506.6" cy="228.2" r="1" fill="#FFFFFF"/><circle cx="413.2" cy="266.6" r="0.9" fill="#A0A4AC"/><circle cx="410.8" cy="312.8" r="0.8" fill="#D0D2D6"/><circle cx="443" cy="252.1" r="1.1" fill="#FFFFFF"/><circle cx="455.4" cy="248.2" r="0.8" fill="#888C94"/><circle cx="476" cy="258" r="1.1" fill="#A0A4AC"/><circle cx="402.2" cy="315.7" r="0.9" fill="#FFFFFF"/><circle cx="397" cy="227.3" r="1" fill="#A0A4AC"/><circle cx="453.1" cy="323.7" r="1.1" fill="#A0A4AC"/><circle cx="510.4" cy="282.9" r="0.9" fill="#F4F4F6"/><circle cx="450" cy="239.4" r="1.3" fill="#FFFFFF"/><circle cx="480.4" cy="279.1" r="0.8" fill="#5A5E66"/><circle cx="462.9" cy="260.1" r="1.2" fill="#E4E6EA"/><circle cx="453.5" cy="255.9" r="1.4" fill="#FFFFFF"/><circle cx="453.5" cy="326.5" r="1.2" fill="#E4E6EA"/><circle cx="438.7" cy="237.4" r="0.8" fill="#FFFFFF"/><circle cx="516" cy="333.8" r="1" fill="#888C94"/><circle cx="427.3" cy="227.6" r="1.3" fill="#A0A4AC"/><circle cx="468.5" cy="338.2" r="0.8" fill="#888C94"/><circle cx="458.8" cy="325" r="1.1" fill="#E4E6EA"/><circle cx="508.4" cy="306" r="0.7" fill="#A0A4AC"/><circle cx="473.4" cy="295.6" r="1.4" fill="#D0D2D6"/><circle cx="516" cy="225.8" r="1" fill="#5A5E66"/><circle cx="447.8" cy="276.3" r="1.3" fill="#FFFFFF"/><circle cx="420.6" cy="268.2" r="0.9" fill="#E4E6EA"/><circle cx="397.9" cy="273.7" r="0.8" fill="#888C94"/><circle cx="406.7" cy="267.4" r="1.2" fill="#E4E6EA"/><circle cx="476.5" cy="249.1" r="1.3" fill="#FFFFFF"/><circle cx="509.8" cy="253.3" r="0.8" fill="#D0D2D6"/><circle cx="448" cy="269" r="1.3" fill="#FFFFFF"/><circle cx="452.4" cy="257.2" r="1.1" fill="#888C94"/><circle cx="476.8" cy="278.7" r="1.2" fill="#D0D2D6"/><circle cx="460.1" cy="269.1" r="1.3" fill="#5A5E66"/><circle cx="439.4" cy="234.3" r="1.4" fill="#F4F4F6"/><circle cx="432.6" cy="319.6" r="1.1" fill="#FFFFFF"/><circle cx="515.5" cy="236.8" r="1" fill="#A0A4AC"/><circle cx="419.5" cy="290.7" r="0.7" fill="#E4E6EA"/><circle cx="474.1" cy="297.4" r="1.2" fill="#E4E6EA"/><circle cx="506.2" cy="282.8" r="1" fill="#FFFFFF"/><circle cx="443.8" cy="297.5" r="1.3" fill="#F4F4F6"/><circle cx="468.3" cy="300.5" r="1.4" fill="#5A5E66"/><circle cx="492.4" cy="231.5" r="1" fill="#FFFFFF"/><circle cx="486.4" cy="311.8" r="1.1" fill="#888C94"/><circle cx="483.4" cy="317.8" r="1.4" fill="#FFFFFF"/><circle cx="484" cy="291" r="1" fill="#D0D2D6"/><circle cx="397.7" cy="297.5" r="1" fill="#5A5E66"/><circle cx="420.4" cy="321" r="0.8" fill="#FFFFFF"/><circle cx="488.1" cy="333.1" r="1.2" fill="#FFFFFF"/><circle cx="432.1" cy="339.6" r="1" fill="#FFFFFF"/><circle cx="428" cy="320.6" r="1.3" fill="#F4F4F6"/><circle cx="463" cy="309.1" r="1.1" fill="#FFFFFF"/><circle cx="506.5" cy="318.6" r="1" fill="#A0A4AC"/><circle cx="418.1" cy="313.7" r="1.4" fill="#F4F4F6"/><circle cx="475.3" cy="304.5" r="1.1" fill="#FFFFFF"/><circle cx="451.4" cy="285.9" r="1.1" fill="#A0A4AC"/><circle cx="444.6" cy="297.4" r="1.3" fill="#E4E6EA"/><circle cx="488.9" cy="321.8" r="1" fill="#FFFFFF"/><circle cx="436.4" cy="339.8" r="1.3" fill="#F4F4F6"/><circle cx="401.4" cy="287.4" r="0.9" fill="#F4F4F6"/><circle cx="513.5" cy="261" r="1.1" fill="#A0A4AC"/><circle cx="497.5" cy="281.8" r="1.4" fill="#D0D2D6"/><circle cx="514.8" cy="225" r="0.9" fill="#A0A4AC"/><circle cx="406.4" cy="301.3" r="1.3" fill="#5A5E66"/><circle cx="435.9" cy="233.9" r="1" fill="#FFFFFF"/><circle cx="516" cy="242.1" r="1.3" fill="#A0A4AC"/><circle cx="515" cy="233.9" r="1.2" fill="#FFFFFF"/><circle cx="418.5" cy="236.6" r="0.8" fill="#F4F4F6"/><circle cx="485.4" cy="275.9" r="0.8" fill="#888C94"/><circle cx="511.9" cy="320.1" r="1.1" fill="#FFFFFF"/><circle cx="513.7" cy="302.9" r="0.9" fill="#888C94"/><circle cx="422.4" cy="245.4" r="1.3" fill="#D0D2D6"/><circle cx="436.5" cy="286.8" r="1.2" fill="#E4E6EA"/><circle cx="457.7" cy="299.3" r="0.8" fill="#A0A4AC"/><circle cx="506.9" cy="305.1" r="1.3" fill="#888C94"/><circle cx="472.3" cy="316.1" r="1.1" fill="#D0D2D6"/><circle cx="463.1" cy="275.8" r="0.8" fill="#D0D2D6"/><circle cx="464.1" cy="327.5" r="1" fill="#888C94"/><circle cx="430.5" cy="282.8" r="0.9" fill="#5A5E66"/><circle cx="478.8" cy="293" r="1.1" fill="#E4E6EA"/><circle cx="449.5" cy="304.4" r="1.3" fill="#5A5E66"/><circle cx="465.7" cy="267.7" r="1.1" fill="#FFFFFF"/><circle cx="409.4" cy="335.4" r="1" fill="#FFFFFF"/><circle cx="412.5" cy="241.7" r="1.1" fill="#A0A4AC"/><circle cx="430.5" cy="223.2" r="0.7" fill="#888C94"/><circle cx="512.6" cy="308.1" r="1.2" fill="#E4E6EA"/><circle cx="436.8" cy="263.5" r="1.2" fill="#FFFFFF"/><circle cx="509.1" cy="239.7" r="1.3" fill="#E4E6EA"/><circle cx="502.2" cy="263.1" r="1.1" fill="#FFFFFF"/><circle cx="425" cy="339.7" r="0.9" fill="#D0D2D6"/><circle cx="406.9" cy="323" r="0.8" fill="#D0D2D6"/><circle cx="475.2" cy="272.8" r="1.1" fill="#888C94"/><circle cx="488.7" cy="254.9" r="1" fill="#F4F4F6"/><circle cx="512" cy="284.2" r="1.4" fill="#5A5E66"/><circle cx="432.4" cy="321.9" r="1" fill="#FFFFFF"/><circle cx="397.9" cy="324.3" r="1.1" fill="#A0A4AC"/><circle cx="424.6" cy="280.2" r="0.9" fill="#FFFFFF"/><circle cx="468.3" cy="283.3" r="1.3" fill="#FFFFFF"/><circle cx="510.9" cy="250.9" r="0.8" fill="#A0A4AC"/><circle cx="484.3" cy="316.7" r="1.2" fill="#F4F4F6"/><circle cx="493.4" cy="323.7" r="1.1" fill="#D0D2D6"/><circle cx="465.5" cy="288.2" r="1.1" fill="#FFFFFF"/><circle cx="456.2" cy="310.7" r="1" fill="#E4E6EA"/><circle cx="463.8" cy="231.9" r="0.8" fill="#888C94"/><circle cx="401.7" cy="264.7" r="0.9" fill="#FFFFFF"/><circle cx="448" cy="276.4" r="1.1" fill="#D0D2D6"/><circle cx="454.7" cy="313.7" r="1.4" fill="#FFFFFF"/><circle cx="504.7" cy="247.1" r="1.2" fill="#5A5E66"/><circle cx="437.3" cy="252.6" r="1.3" fill="#E4E6EA"/><circle cx="405" cy="231.8" r="0.9" fill="#D0D2D6"/><circle cx="470.7" cy="279.1" r="0.8" fill="#D0D2D6"/><circle cx="478.6" cy="324.6" r="1.2" fill="#FFFFFF"/><circle cx="400.3" cy="290.7" r="1.1" fill="#FFFFFF"/><circle cx="498.2" cy="285.5" r="1.2" fill="#A0A4AC"/><circle cx="449.5" cy="324" r="1.1" fill="#A0A4AC"/><circle cx="431.4" cy="254.5" r="0.7" fill="#FFFFFF"/><circle cx="437.5" cy="250.9" r="0.9" fill="#F4F4F6"/><circle cx="395.4" cy="249.7" r="1" fill="#888C94"/><circle cx="471.5" cy="277.4" r="1.1" fill="#FFFFFF"/><circle cx="409.9" cy="244.6" r="1.4" fill="#FFFFFF"/><circle cx="516.9" cy="315" r="1.2" fill="#F4F4F6"/><circle cx="512.3" cy="320.2" r="1.2" fill="#FFFFFF"/><circle cx="515.8" cy="312.8" r="0.7" fill="#888C94"/><circle cx="460.1" cy="276.3" r="0.9" fill="#FFFFFF"/><circle cx="468.9" cy="293.2" r="1.2" fill="#FFFFFF"/><circle cx="455.4" cy="313.2" r="0.7" fill="#FFFFFF"/><circle cx="448.3" cy="302" r="0.8" fill="#FFFFFF"/><circle cx="408.3" cy="306.3" r="1.2" fill="#A0A4AC"/><circle cx="420.6" cy="248.2" r="1.3" fill="#E4E6EA"/><circle cx="504.7" cy="291" r="1.4" fill="#A0A4AC"/><circle cx="449.5" cy="317.6" r="1.2" fill="#F4F4F6"/><circle cx="417.5" cy="249.7" r="0.9" fill="#FFFFFF"/><circle cx="468.3" cy="313" r="1" fill="#888C94"/><circle cx="421.5" cy="222.3" r="0.8" fill="#E4E6EA"/><circle cx="394.5" cy="244.2" r="0.8" fill="#FFFFFF"/><circle cx="488.9" cy="286.2" r="0.9" fill="#FFFFFF"/><circle cx="416.3" cy="242.5" r="0.8" fill="#FFFFFF"/><circle cx="418" cy="273.7" r="1" fill="#FFFFFF"/><circle cx="465.1" cy="232.4" r="0.8" fill="#FFFFFF"/><circle cx="452.3" cy="262.5" r="0.8" fill="#A0A4AC"/><circle cx="446.3" cy="284.9" r="0.8" fill="#5A5E66"/><circle cx="461.2" cy="276.9" r="0.9" fill="#D0D2D6"/><circle cx="435.5" cy="294.9" r="0.8" fill="#FFFFFF"/><circle cx="481.6" cy="337.1" r="1" fill="#F4F4F6"/><circle cx="470.2" cy="278.1" r="1" fill="#5A5E66"/><circle cx="494.3" cy="318.2" r="1.3" fill="#FFFFFF"/><circle cx="517.2" cy="227" r="0.7" fill="#D0D2D6"/><circle cx="490.5" cy="296.4" r="0.7" fill="#5A5E66"/><circle cx="405" cy="249.3" r="1.2" fill="#FFFFFF"/><circle cx="410.5" cy="338.7" r="1.3" fill="#F4F4F6"/><circle cx="459.6" cy="289.8" r="1.2" fill="#5A5E66"/><circle cx="488.7" cy="260.1" r="0.9" fill="#D0D2D6"/><circle cx="430.5" cy="318.7" r="1.3" fill="#A0A4AC"/><circle cx="463.4" cy="278.6" r="1" fill="#5A5E66"/><circle cx="433.3" cy="244.4" r="0.8" fill="#FFFFFF"/><circle cx="416.6" cy="288.4" r="1.1" fill="#E4E6EA"/><circle cx="469" cy="311.8" r="0.8" fill="#D0D2D6"/><circle cx="498.6" cy="282.1" r="1.3" fill="#888C94"/><circle cx="461.5" cy="337.1" r="1" fill="#D0D2D6"/><circle cx="455.5" cy="295.8" r="0.9" fill="#A0A4AC"/><circle cx="407.7" cy="270.5" r="0.8" fill="#F4F4F6"/><circle cx="497.5" cy="270.5" r="1.1" fill="#FFFFFF"/><circle cx="436.1" cy="282.1" r="1" fill="#A0A4AC"/><circle cx="419.7" cy="267.8" r="1.1" fill="#FFFFFF"/><circle cx="500.5" cy="284.8" r="1.2" fill="#5A5E66"/><circle cx="438" cy="281.8" r="0.8" fill="#FFFFFF"/><circle cx="481.2" cy="248.9" r="1.3" fill="#FFFFFF"/><circle cx="422.6" cy="322.4" r="1.3" fill="#FFFFFF"/><circle cx="443.3" cy="306.8" r="1.2" fill="#F4F4F6"/><circle cx="414.4" cy="240.2" r="0.8" fill="#F4F4F6"/><circle cx="505" cy="328.6" r="0.9" fill="#A0A4AC"/><circle cx="467.4" cy="295" r="1.2" fill="#FFFFFF"/><circle cx="399.8" cy="302.3" r="1.4" fill="#FFFFFF"/><circle cx="504.3" cy="319.8" r="0.8" fill="#D0D2D6"/><circle cx="438.7" cy="275.2" r="1.2" fill="#E4E6EA"/><circle cx="437.8" cy="317.4" r="0.7" fill="#F4F4F6"/><circle cx="440" cy="225.6" r="1.1" fill="#FFFFFF"/><circle cx="455.3" cy="232.2" r="0.8" fill="#F4F4F6"/><circle cx="453.6" cy="307.7" r="0.9" fill="#F4F4F6"/><circle cx="450.1" cy="224.3" r="0.8" fill="#5A5E66"/><circle cx="459.5" cy="320.6" r="0.8" fill="#FFFFFF"/><circle cx="467.9" cy="257.7" r="1" fill="#FFFFFF"/><circle cx="423.4" cy="272.8" r="0.8" fill="#FFFFFF"/><circle cx="429.1" cy="313.9" r="1" fill="#5A5E66"/><circle cx="472.5" cy="324.8" r="1.4" fill="#FFFFFF"/><circle cx="493.7" cy="332" r="0.8" fill="#FFFFFF"/><circle cx="467.4" cy="319.5" r="0.8" fill="#A0A4AC"/><circle cx="421.2" cy="270.8" r="1.2" fill="#F4F4F6"/><circle cx="433.8" cy="324" r="1.2" fill="#888C94"/><circle cx="439.3" cy="300.3" r="1" fill="#E4E6EA"/><circle cx="478.7" cy="325.3" r="1" fill="#D0D2D6"/><circle cx="505.7" cy="247" r="1.1" fill="#F4F4F6"/><circle cx="493.6" cy="330.3" r="1.2" fill="#A0A4AC"/><circle cx="474.7" cy="225" r="1.3" fill="#D0D2D6"/><circle cx="456.8" cy="316.9" r="1.4" fill="#D0D2D6"/><circle cx="461.7" cy="242.1" r="1.1" fill="#FFFFFF"/><circle cx="460" cy="307.4" r="0.8" fill="#D0D2D6"/><circle cx="428.1" cy="297.7" r="1.2" fill="#FFFFFF"/><circle cx="438" cy="326.7" r="0.8" fill="#FFFFFF"/><circle cx="406.1" cy="308.7" r="1" fill="#E4E6EA"/><circle cx="448.1" cy="293.9" r="1.2" fill="#5A5E66"/><circle cx="487.1" cy="307.5" r="0.9" fill="#FFFFFF"/><circle cx="423.1" cy="240.3" r="1.2" fill="#A0A4AC"/><circle cx="402.5" cy="247.9" r="0.9" fill="#F4F4F6"/><circle cx="475.6" cy="250" r="1.2" fill="#D0D2D6"/><circle cx="472.3" cy="336.1" r="0.7" fill="#5A5E66"/><circle cx="510.9" cy="239.2" r="0.8" fill="#D0D2D6"/><circle cx="396.2" cy="293.3" r="0.7" fill="#FFFFFF"/><circle cx="467.9" cy="270.2" r="1.3" fill="#D0D2D6"/><circle cx="402" cy="271.8" r="0.8" fill="#F4F4F6"/><circle cx="494.8" cy="266.2" r="1" fill="#D0D2D6"/><circle cx="464.4" cy="279" r="1.1" fill="#A0A4AC"/><circle cx="504.5" cy="264.3" r="1.2" fill="#A0A4AC"/><circle cx="506.1" cy="234.9" r="1" fill="#FFFFFF"/><circle cx="452.3" cy="276.8" r="1.1" fill="#FFFFFF"/><circle cx="431.9" cy="240.4" r="0.9" fill="#E4E6EA"/><circle cx="456.1" cy="245.7" r="1.3" fill="#FFFFFF"/><circle cx="402" cy="273.2" r="0.8" fill="#D0D2D6"/><circle cx="517.9" cy="324.2" r="0.9" fill="#5A5E66"/><circle cx="445.8" cy="252.1" r="1.3" fill="#D0D2D6"/><circle cx="420.3" cy="298.6" r="0.8" fill="#D0D2D6"/><circle cx="480.9" cy="278.4" r="1" fill="#FFFFFF"/><circle cx="505.1" cy="262.5" r="1" fill="#5A5E66"/><circle cx="445.8" cy="336.5" r="1.2" fill="#F4F4F6"/><circle cx="440.3" cy="230.8" r="0.7" fill="#FFFFFF"/><circle cx="429.9" cy="322.2" r="1.4" fill="#FFFFFF"/><circle cx="461.2" cy="257.5" r="1.3" fill="#5A5E66"/><circle cx="512.9" cy="311.4" r="1.2" fill="#FFFFFF"/><circle cx="421.5" cy="311.9" r="1.2" fill="#E4E6EA"/><circle cx="461.7" cy="278.6" r="1.2" fill="#FFFFFF"/><circle cx="424.9" cy="281.8" r="1.2" fill="#FFFFFF"/><circle cx="456.5" cy="306.7" r="1.2" fill="#D0D2D6"/><circle cx="410.2" cy="265.9" r="1" fill="#888C94"/><circle cx="515.7" cy="303" r="1.2" fill="#FFFFFF"/><circle cx="509.3" cy="232.1" r="1.4" fill="#D0D2D6"/><circle cx="500.9" cy="276.8" r="1.2" fill="#F4F4F6"/><circle cx="457.2" cy="288.6" r="1.3" fill="#FFFFFF"/><circle cx="477.4" cy="299.7" r="1.3" fill="#FFFFFF"/><circle cx="452.3" cy="298.2" r="0.8" fill="#FFFFFF"/><circle cx="404.7" cy="265.2" r="1" fill="#FFFFFF"/><circle cx="400.8" cy="312.5" r="0.8" fill="#F4F4F6"/><circle cx="471.7" cy="278" r="0.9" fill="#FFFFFF"/><circle cx="408.7" cy="227.8" r="1.3" fill="#5A5E66"/><circle cx="397.4" cy="329.6" r="1.3" fill="#5A5E66"/><circle cx="396.3" cy="236.2" r="1.2" fill="#5A5E66"/><circle cx="447.9" cy="327.6" r="0.8" fill="#FFFFFF"/><circle cx="413.5" cy="271.7" r="0.9" fill="#FFFFFF"/><circle cx="425.7" cy="244.8" r="0.9" fill="#FFFFFF"/><circle cx="505.8" cy="255.8" r="0.8" fill="#FFFFFF"/><circle cx="465" cy="258.4" r="0.8" fill="#A0A4AC"/><circle cx="409.1" cy="260.5" r="1.3" fill="#FFFFFF"/><circle cx="459.6" cy="322.6" r="0.7" fill="#A0A4AC"/><circle cx="471" cy="252.9" r="1.3" fill="#F4F4F6"/><circle cx="479.2" cy="275.5" r="0.8" fill="#FFFFFF"/><circle cx="421.2" cy="262.6" r="1.1" fill="#FFFFFF"/><circle cx="459.9" cy="286.7" r="1.1" fill="#5A5E66"/><circle cx="515.8" cy="278.7" r="0.9" fill="#E4E6EA"/><circle cx="437.1" cy="256.5" r="0.8" fill="#FFFFFF"/><circle cx="453.5" cy="246.2" r="1.3" fill="#E4E6EA"/><circle cx="494.9" cy="291" r="0.8" fill="#F4F4F6"/><circle cx="410" cy="330.8" r="0.7" fill="#E4E6EA"/><circle cx="498" cy="284.3" r="1" fill="#FFFFFF"/><circle cx="404.4" cy="279" r="1.3" fill="#D0D2D6"/><circle cx="459.1" cy="328.9" r="0.9" fill="#FFFFFF"/><circle cx="429.7" cy="326.5" r="1.2" fill="#FFFFFF"/><circle cx="415.3" cy="264.1" r="1.3" fill="#5A5E66"/><circle cx="495.2" cy="304.1" r="0.9" fill="#D0D2D6"/><circle cx="436.2" cy="276.3" r="0.7" fill="#E4E6EA"/><circle cx="417.2" cy="338.8" r="0.9" fill="#D0D2D6"/><circle cx="514.2" cy="285.7" r="1.3" fill="#D0D2D6"/><circle cx="460.4" cy="284.9" r="1" fill="#888C94"/><circle cx="496.7" cy="313.7" r="1" fill="#FFFFFF"/><circle cx="497.9" cy="256.7" r="1.3" fill="#E4E6EA"/><circle cx="484.1" cy="273" r="1.1" fill="#FFFFFF"/><circle cx="457" cy="258.4" r="1.1" fill="#A0A4AC"/><circle cx="406.2" cy="251.5" r="0.9" fill="#F4F4F6"/><circle cx="482.1" cy="326.9" r="1.1" fill="#FFFFFF"/><circle cx="411.6" cy="285.3" r="1" fill="#D0D2D6"/><circle cx="412.2" cy="237.9" r="1.3" fill="#D0D2D6"/><circle cx="504" cy="295" r="0.8" fill="#5A5E66"/><circle cx="517" cy="228.3" r="1.1" fill="#A0A4AC"/><circle cx="470.6" cy="300.1" r="1.1" fill="#888C94"/><circle cx="395.5" cy="265" r="1.1" fill="#F4F4F6"/><circle cx="433.8" cy="245.9" r="0.9" fill="#D0D2D6"/><circle cx="494.5" cy="280.6" r="0.9" fill="#A0A4AC"/><circle cx="490.5" cy="330.4" r="0.7" fill="#FFFFFF"/><circle cx="450" cy="329.3" r="1" fill="#A0A4AC"/><circle cx="493.1" cy="319.3" r="1.3" fill="#A0A4AC"/><circle cx="418.8" cy="274.6" r="1.1" fill="#A0A4AC"/><circle cx="482.5" cy="285.5" r="1.1" fill="#F4F4F6"/><circle cx="419.7" cy="337.3" r="1.1" fill="#FFFFFF"/><circle cx="448.4" cy="230.4" r="0.9" fill="#D0D2D6"/><circle cx="422.1" cy="252.6" r="0.7" fill="#E4E6EA"/><circle cx="455.6" cy="246.6" r="0.9" fill="#888C94"/><circle cx="394.3" cy="319.5" r="1" fill="#D0D2D6"/><circle cx="403.7" cy="254.2" r="0.7" fill="#FFFFFF"/><circle cx="398.7" cy="282.3" r="0.9" fill="#E4E6EA"/><circle cx="422.2" cy="246.2" r="0.9" fill="#E4E6EA"/><circle cx="511.9" cy="302" r="0.9" fill="#5A5E66"/><circle cx="418.2" cy="273.5" r="1.3" fill="#E4E6EA"/><circle cx="457.6" cy="289.1" r="1" fill="#D0D2D6"/><circle cx="418.5" cy="307.3" r="1.2" fill="#5A5E66"/><circle cx="496.3" cy="230.3" r="1.3" fill="#FFFFFF"/><circle cx="415.7" cy="333.6" r="1.1" fill="#E4E6EA"/><circle cx="431.4" cy="305.8" r="1" fill="#FFFFFF"/><circle cx="394" cy="268.2" r="0.8" fill="#888C94"/><circle cx="422.9" cy="229.4" r="0.8" fill="#FFFFFF"/><circle cx="459.5" cy="314" r="1.1" fill="#D0D2D6"/><circle cx="471.6" cy="331" r="1.4" fill="#D0D2D6"/><circle cx="408.5" cy="308.1" r="1.3" fill="#A0A4AC"/><circle cx="492.8" cy="333.6" r="1" fill="#FFFFFF"/><circle cx="405.2" cy="299.5" r="0.9" fill="#5A5E66"/><circle cx="416.7" cy="329" r="1.1" fill="#F4F4F6"/><circle cx="487.6" cy="298" r="1.2" fill="#FFFFFF"/><circle cx="398" cy="228.9" r="1.2" fill="#5A5E66"/><circle cx="416.2" cy="266" r="1.4" fill="#FFFFFF"/><circle cx="451.8" cy="326.5" r="1.1" fill="#FFFFFF"/><circle cx="402.7" cy="254.7" r="0.8" fill="#E4E6EA"/><circle cx="402.5" cy="270.7" r="1.3" fill="#FFFFFF"/><circle cx="509.8" cy="238.1" r="1.1" fill="#E4E6EA"/><circle cx="446.6" cy="292" r="0.8" fill="#FFFFFF"/><circle cx="480.2" cy="273.2" r="1.4" fill="#A0A4AC"/><circle cx="500.6" cy="313.9" r="1.3" fill="#A0A4AC"/><circle cx="513.9" cy="334.1" r="1.2" fill="#FFFFFF"/><circle cx="512.8" cy="253.8" r="0.9" fill="#A0A4AC"/><circle cx="456" cy="333.2" r="1.1" fill="#E4E6EA"/><circle cx="407.5" cy="339.5" r="0.9" fill="#FFFFFF"/><circle cx="486.4" cy="282.4" r="0.7" fill="#888C94"/><circle cx="460.7" cy="295.1" r="1.1" fill="#FFFFFF"/><circle cx="451.1" cy="276.1" r="0.7" fill="#5A5E66"/><circle cx="472.4" cy="277" r="1.4" fill="#A0A4AC"/><circle cx="402.7" cy="295.2" r="0.7" fill="#FFFFFF"/><circle cx="516.3" cy="250.8" r="1" fill="#888C94"/><circle cx="500.1" cy="313.6" r="0.8" fill="#FFFFFF"/><circle cx="444" cy="225.4" r="1.1" fill="#FFFFFF"/><circle cx="443.7" cy="258.6" r="0.7" fill="#FFFFFF"/><circle cx="500.1" cy="235.6" r="1.2" fill="#A0A4AC"/><circle cx="469.3" cy="282" r="0.8" fill="#5A5E66"/><circle cx="475.7" cy="251" r="1.3" fill="#FFFFFF"/><circle cx="451.8" cy="286.4" r="0.9" fill="#A0A4AC"/><circle cx="403.6" cy="299.9" r="0.8" fill="#D0D2D6"/><circle cx="420.1" cy="319.8" r="0.9" fill="#5A5E66"/><circle cx="458.4" cy="280.8" r="0.8" fill="#FFFFFF"/><circle cx="405.7" cy="223.8" r="1.3" fill="#A0A4AC"/><circle cx="467.9" cy="254.3" r="1.1" fill="#888C94"/><circle cx="490.5" cy="259.4" r="1.1" fill="#E4E6EA"/><circle cx="506.1" cy="330.3" r="1.4" fill="#5A5E66"/><circle cx="477.7" cy="248.4" r="1" fill="#888C94"/><circle cx="436.9" cy="282.5" r="1.1" fill="#F4F4F6"/><circle cx="509.2" cy="272.7" r="1.4" fill="#E4E6EA"/><circle cx="491.9" cy="262.7" r="0.8" fill="#FFFFFF"/><circle cx="508.5" cy="265.9" r="1.4" fill="#A0A4AC"/><circle cx="405" cy="234.7" r="1" fill="#FFFFFF"/><circle cx="491.9" cy="279.3" r="1.4" fill="#FFFFFF"/><circle cx="513.7" cy="238.8" r="1.1" fill="#D0D2D6"/><circle cx="493.9" cy="238.3" r="1.2" fill="#F4F4F6"/><circle cx="508.3" cy="301.4" r="1.2" fill="#FFFFFF"/><circle cx="498.3" cy="243.9" r="0.9" fill="#A0A4AC"/><circle cx="442.6" cy="236.7" r="1.1" fill="#FFFFFF"/><circle cx="438" cy="266.7" r="0.9" fill="#5A5E66"/><circle cx="488.7" cy="238.4" r="0.9" fill="#FFFFFF"/><circle cx="497.7" cy="299.6" r="1.3" fill="#FFFFFF"/><circle cx="422.2" cy="247.1" r="0.9" fill="#FFFFFF"/><circle cx="477.5" cy="246.9" r="1.3" fill="#FFFFFF"/><circle cx="422.8" cy="329.1" r="1.2" fill="#FFFFFF"/><circle cx="500.7" cy="227.2" r="0.9" fill="#5A5E66"/><circle cx="484.5" cy="235.3" r="1.1" fill="#5A5E66"/><circle cx="405" cy="271.7" r="1" fill="#FFFFFF"/><circle cx="464.4" cy="281.8" r="1.1" fill="#5A5E66"/><circle cx="405" cy="274.4" r="0.9" fill="#FFFFFF"/><circle cx="474.8" cy="266.4" r="0.8" fill="#E4E6EA"/><circle cx="453.7" cy="314" r="1.4" fill="#FFFFFF"/><circle cx="423.1" cy="299.7" r="1.1" fill="#5A5E66"/><circle cx="414.9" cy="234.1" r="1.2" fill="#D0D2D6"/><circle cx="476.3" cy="328.9" r="1" fill="#5A5E66"/><circle cx="479.7" cy="339.5" r="0.9" fill="#FFFFFF"/><circle cx="509.4" cy="316.1" r="0.9" fill="#F4F4F6"/><circle cx="431.3" cy="304.3" r="0.9" fill="#FFFFFF"/><circle cx="513.8" cy="234.6" r="1.2" fill="#F4F4F6"/><circle cx="484" cy="291.1" r="0.7" fill="#FFFFFF"/><circle cx="492.2" cy="289.4" r="1.2" fill="#FFFFFF"/><circle cx="459.6" cy="292.8" r="0.8" fill="#FFFFFF"/><circle cx="428.4" cy="231.2" r="1.4" fill="#F4F4F6"/><circle cx="437.5" cy="329.4" r="1.1" fill="#FFFFFF"/><circle cx="456.7" cy="247" r="1.1" fill="#FFFFFF"/><circle cx="465.2" cy="320.3" r="1.1" fill="#FFFFFF"/><circle cx="482.3" cy="261.3" r="0.8" fill="#FFFFFF"/><circle cx="489.3" cy="241.6" r="1.3" fill="#A0A4AC"/><circle cx="474.4" cy="313.6" r="0.7" fill="#FFFFFF"/><circle cx="473.5" cy="298.5" r="1.3" fill="#888C94"/><circle cx="459.4" cy="283.5" r="1" fill="#F4F4F6"/><circle cx="471.4" cy="252.9" r="0.7" fill="#5A5E66"/><circle cx="408" cy="292.1" r="1.4" fill="#FFFFFF"/><circle cx="445.1" cy="310.9" r="1.3" fill="#FFFFFF"/><circle cx="435.2" cy="258.4" r="1.4" fill="#888C94"/><circle cx="462.1" cy="283" r="1.3" fill="#888C94"/><circle cx="493.4" cy="235.1" r="1.2" fill="#F4F4F6"/><circle cx="442.1" cy="302.2" r="1.1" fill="#FFFFFF"/><circle cx="466.3" cy="331.2" r="1" fill="#A0A4AC"/><circle cx="493" cy="224" r="0.9" fill="#FFFFFF"/><circle cx="511" cy="258.8" r="0.8" fill="#E4E6EA"/><circle cx="417.9" cy="256.2" r="1.1" fill="#888C94"/><circle cx="502.9" cy="249.8" r="0.9" fill="#FFFFFF"/><circle cx="499.2" cy="238.1" r="1.3" fill="#888C94"/><circle cx="503.2" cy="288.4" r="1.4" fill="#FFFFFF"/><circle cx="447" cy="232.5" r="1.3" fill="#5A5E66"/><circle cx="398.3" cy="296.1" r="0.7" fill="#FFFFFF"/><circle cx="486.1" cy="334.4" r="0.8" fill="#888C94"/><circle cx="424.1" cy="267" r="1.3" fill="#888C94"/><circle cx="490.8" cy="266.6" r="1.1" fill="#E4E6EA"/><circle cx="432.9" cy="264.8" r="0.9" fill="#D0D2D6"/><circle cx="506.6" cy="236.3" r="1.2" fill="#888C94"/><circle cx="495.6" cy="310.1" r="0.7" fill="#FFFFFF"/><circle cx="409.8" cy="293.5" r="0.8" fill="#FFFFFF"/><circle cx="513.5" cy="299.3" r="0.8" fill="#5A5E66"/><circle cx="461.9" cy="277" r="0.9" fill="#A0A4AC"/><circle cx="426.9" cy="307.5" r="0.7" fill="#E4E6EA"/><circle cx="401" cy="276.7" r="1" fill="#E4E6EA"/><circle cx="452.4" cy="306.2" r="0.9" fill="#FFFFFF"/><circle cx="447.6" cy="253.7" r="0.8" fill="#FFFFFF"/><circle cx="444.4" cy="300.3" r="1.1" fill="#888C94"/><circle cx="496.3" cy="335.2" r="1.1" fill="#5A5E66"/><circle cx="441.9" cy="224.8" r="0.7" fill="#888C94"/><circle cx="464.7" cy="231.4" r="1.4" fill="#F4F4F6"/><circle cx="506.7" cy="295.3" r="0.9" fill="#5A5E66"/><circle cx="430.7" cy="324.4" r="1.3" fill="#FFFFFF"/><circle cx="398.5" cy="250.9" r="1.3" fill="#888C94"/><circle cx="459.9" cy="242.2" r="0.8" fill="#FFFFFF"/><circle cx="437.9" cy="309" r="1.1" fill="#A0A4AC"/><circle cx="507.7" cy="244.1" r="1" fill="#888C94"/><circle cx="490.4" cy="266.7" r="1" fill="#5A5E66"/><circle cx="453.4" cy="326.1" r="0.7" fill="#888C94"/><circle cx="423.9" cy="315.7" r="1.1" fill="#5A5E66"/><circle cx="455" cy="236.5" r="0.9" fill="#FFFFFF"/><circle cx="461" cy="339" r="1.2" fill="#FFFFFF"/><circle cx="458.2" cy="293.9" r="0.9" fill="#D0D2D6"/><circle cx="398.9" cy="278.7" r="1" fill="#FFFFFF"/><circle cx="503.9" cy="320.5" r="0.9" fill="#FFFFFF"/><circle cx="483.7" cy="234" r="0.8" fill="#F4F4F6"/><circle cx="463.9" cy="288" r="1.2" fill="#FFFFFF"/><circle cx="404.7" cy="247.3" r="1.1" fill="#F4F4F6"/><circle cx="403.9" cy="253.2" r="0.9" fill="#E4E6EA"/><circle cx="421.3" cy="319.7" r="1.1" fill="#D0D2D6"/><circle cx="442" cy="223.1" r="1" fill="#A0A4AC"/><circle cx="430.2" cy="316.4" r="1.2" fill="#FFFFFF"/><circle cx="394.8" cy="248" r="0.9" fill="#D0D2D6"/><circle cx="494.6" cy="295.7" r="0.8" fill="#A0A4AC"/><circle cx="461.1" cy="231.6" r="0.8" fill="#A0A4AC"/><circle cx="492.2" cy="333.8" r="0.8" fill="#F4F4F6"/><circle cx="430.4" cy="244.2" r="1.1" fill="#E4E6EA"/><circle cx="495.2" cy="331.2" r="0.8" fill="#D0D2D6"/><circle cx="396.3" cy="263.6" r="0.9" fill="#E4E6EA"/><circle cx="397.4" cy="262.6" r="1.1" fill="#A0A4AC"/><circle cx="420.1" cy="269.5" r="1.3" fill="#FFFFFF"/><circle cx="441.4" cy="285.5" r="0.7" fill="#FFFFFF"/><circle cx="431" cy="292.4" r="1.1" fill="#F4F4F6"/><circle cx="482.7" cy="260.3" r="1.2" fill="#FFFFFF"/><circle cx="478.6" cy="264.6" r="0.8" fill="#D0D2D6"/><circle cx="455.4" cy="331.2" r="1.2" fill="#E4E6EA"/><circle cx="409.6" cy="292" r="0.9" fill="#D0D2D6"/><circle cx="427.9" cy="238.4" r="1" fill="#FFFFFF"/><circle cx="510" cy="329" r="1.2" fill="#D0D2D6"/><circle cx="415.9" cy="280" r="1.4" fill="#FFFFFF"/><circle cx="461.4" cy="338" r="0.9" fill="#FFFFFF"/><circle cx="508.3" cy="269.4" r="0.8" fill="#E4E6EA"/><circle cx="476.4" cy="227.3" r="1.4" fill="#D0D2D6"/><circle cx="482.7" cy="282.6" r="0.8" fill="#E4E6EA"/><circle cx="440.6" cy="237.7" r="1.2" fill="#F4F4F6"/><circle cx="451.9" cy="269.4" r="1.3" fill="#F4F4F6"/><circle cx="451" cy="339.3" r="1.2" fill="#D0D2D6"/><circle cx="479.1" cy="323.9" r="0.8" fill="#FFFFFF"/><circle cx="442.7" cy="232.2" r="1" fill="#A0A4AC"/><circle cx="426.4" cy="287.3" r="1.1" fill="#5A5E66"/><circle cx="464.5" cy="267.5" r="1.4" fill="#FFFFFF"/><circle cx="439.3" cy="237.4" r="0.9" fill="#A0A4AC"/><circle cx="462.5" cy="246.6" r="0.9" fill="#D0D2D6"/><circle cx="402.8" cy="239.6" r="0.9" fill="#D0D2D6"/><circle cx="489.4" cy="233.1" r="1.3" fill="#E4E6EA"/><circle cx="492.7" cy="330" r="1.3" fill="#888C94"/><circle cx="502" cy="263.5" r="0.7" fill="#F4F4F6"/><circle cx="415.5" cy="322.5" r="1.1" fill="#FFFFFF"/><circle cx="448.4" cy="279.4" r="0.8" fill="#D0D2D6"/><circle cx="515.2" cy="241.3" r="1.1" fill="#F4F4F6"/><circle cx="514.7" cy="261.5" r="0.8" fill="#5A5E66"/><circle cx="409.9" cy="328.8" r="1" fill="#5A5E66"/><circle cx="436.1" cy="295.7" r="0.8" fill="#F4F4F6"/><circle cx="442" cy="286.6" r="1.1" fill="#A0A4AC"/><circle cx="412.8" cy="296" r="1.2" fill="#D0D2D6"/><circle cx="442.1" cy="303.1" r="1.3" fill="#5A5E66"/><circle cx="454.5" cy="312.7" r="1.4" fill="#F4F4F6"/><circle cx="430.1" cy="339.7" r="0.8" fill="#D0D2D6"/><circle cx="492.9" cy="330" r="1.2" fill="#5A5E66"/><circle cx="431.1" cy="231.7" r="0.7" fill="#5A5E66"/><circle cx="470.2" cy="230.8" r="1.3" fill="#E4E6EA"/><circle cx="516.8" cy="241.2" r="0.7" fill="#FFFFFF"/><circle cx="501.3" cy="331.8" r="1.2" fill="#5A5E66"/><circle cx="513.9" cy="284.1" r="1.1" fill="#FFFFFF"/><circle cx="490.6" cy="240.9" r="0.9" fill="#A0A4AC"/><circle cx="499.4" cy="310" r="1" fill="#A0A4AC"/><circle cx="425" cy="284.2" r="0.7" fill="#FFFFFF"/><circle cx="418.5" cy="327.6" r="1" fill="#E4E6EA"/><circle cx="401.7" cy="233.8" r="1.2" fill="#FFFFFF"/><circle cx="410.5" cy="332.2" r="1.3" fill="#FFFFFF"/><circle cx="396.2" cy="336.4" r="1" fill="#5A5E66"/><circle cx="424.4" cy="227.4" r="0.9" fill="#FFFFFF"/><circle cx="428.1" cy="245.2" r="1" fill="#888C94"/><circle cx="445.6" cy="286.9" r="1.3" fill="#5A5E66"/><circle cx="411.6" cy="306" r="1.1" fill="#FFFFFF"/><circle cx="494.2" cy="334.4" r="1" fill="#888C94"/><circle cx="440.9" cy="312.1" r="1.2" fill="#A0A4AC"/><circle cx="415.9" cy="271.8" r="0.9" fill="#A0A4AC"/><circle cx="433.3" cy="279.7" r="0.8" fill="#FFFFFF"/><circle cx="409.5" cy="301.4" r="0.9" fill="#FFFFFF"/><circle cx="471.1" cy="300.4" r="0.9" fill="#FFFFFF"/><circle cx="478.9" cy="265.3" r="0.8" fill="#F4F4F6"/><circle cx="418.4" cy="246.5" r="0.9" fill="#FFFFFF"/><circle cx="399.7" cy="261" r="1" fill="#E4E6EA"/><circle cx="479.6" cy="309.9" r="0.9" fill="#A0A4AC"/><path d="M432.9 264.9l-3.1 1.5M482.4 277.1l3.1 -1.6M415.6 317.4l0.8 -2M443.7 256.9l0.2 3.2M516.3 280.7l1.3 -3.8M466.5 235.8l2.7 2.2M424.7 335.2l-1.4 -2M495.2 326.4l3.1 -2M424.5 225.5l-1.7 -2.5M420.2 285.7l-3.5 0.9M409.8 339.6l-0.2 -2.5M464.8 247.5l1.4 -4.2M440 283.5l0.7 3.1M480.8 294.9l-1.1 3.5M438.2 306.4l-1.9 2.4M514.8 338.7l-3.4 -0.6M484.8 228l-2.6 -0.1M474.5 229.4l2.8 -1.5M401.6 323.6l-3.9 -1.5M421.2 298.1l-0.8 -3.4M452.1 319.7l-2 -1.2M514.4 231.9l-1.2 -3.7M496.5 312.4l1.9 -1.7M419.5 226.9l1.1 -3.5M427.7 284.6l2 -2.3M415.3 320.9l0.4 -3.2M471.3 326l-0.7 -2.7M451.3 228.2l3.3 -2M398.9 282.7l1.6 -2.4M484.4 252.5l-2.8 1.7M499.2 237.2l-0.2 -2.9M423.6 260l3.2 -1.3M509.3 314.1l2.8 -1M468.6 239.9l-2.5 1.3M449.9 262.8l-2.5 -3.6M498.9 338.7l-0.4 2.1M481.2 253.1l1.9 2.1M472.4 289.5l2.1 2.3M396.6 261.9l-3.5 -2.6M504.7 289.1l2.7 -1.7M484.7 232l2 0M428.1 323.6l2.1 -1.7M418.1 322.3l-1.7 1.5M494.1 292.1l2.2 0.9M504.4 288.4l3.3 1.8M400.3 261.6l0.9 -2.9M409.3 252.6l-1.6 1.4M493.8 312.8l3.1 1.9M504.5 241.4l2 0.3M464.8 265.8l0.3 -2.7M453.6 265.9l3.1 0.2M453 298l2.7 0.2M416.2 270.1l-2 -0.4M404.8 323.2l1.7 -3.4M466.9 336.8l-0.5 3.5M423.3 247.3l2.9 1.8M477.4 280.6l-3.2 0.9M485.4 326.5l0.3 -2.3M515.4 254.4l-2.2 -1M506.1 246.2l1.7 -3.9M427.1 283l4.2 0.3M512.8 310.6l-1.9 3.2M467.9 228.9l2.1 -3.9M496.9 314.7l1.9 -2.6M440.4 230.6l-4.2 -1.5M397.8 259.3l-1.2 -3.3M408.7 284.6l-3.3 -0.4M421 286.2l3.6 -1M397.1 298l-2.8 1.5M502.3 291.7l4 -1.9M478.8 337.4l2.7 2.1M439 253.6l-4.3 0.1M452.5 265.7l2.3 0.6M495 277.9l-0.4 2.9M482.1 314.9l-0.7 -3.4M457.8 249.7l-1.7 -2.1M448.9 257.1l-0.8 1.9M486.8 236.7l2.7 0.5M464.8 334.1l-3.2 1.8M457.2 329.3l4 -1M396.1 331l2.5 -2.6M407.7 241.1l0.3 -2.1M421.7 299.3l-0.8 2.4M460.4 259.7l4.1 0.1M450.6 294.1l-1.7 -3.4M457 323l-3.1 2.1M454.2 304.3l2.1 -2.4M467.1 241.7l-2.7 1.9M505.6 335.2l-2.7 2.4M463.7 295.8l-0 3.9M425.2 293.4l1.8 -1.7M517.9 293.8l1.7 -1.5M417.9 309.5l2.2 1.4M464.3 309.6l1.5 2.5M494.9 283.5l-1.7 1.7M515.5 332.7l3 1.6M464.5 281l-4.2 0.3M451.3 302.1l-3.1 2.4M397.2 257.6l2.2 0.1M452.6 298.1l-3.3 2M473.8 228.6l1 3.8M454.5 274l-3 -2.1M493.9 251.5l0.2 -3.5M512.6 242.8l-0.7 3.4M511.5 314.6l0.8 -2.6M397 223.9l-2.1 -2.5M515.1 286l2.7 0.2M426 313.8l-1.8 -4M493.6 223.7l-0.7 -2.8M484 283.1l-1.8 -3.3M482.7 225l3 2.4M482.3 297.2l-0.7 3M407.3 337.1l-1.9 -1.3M490.5 313.1l-2.5 -0.8M491.5 327.4l-3.5 0.2M508.5 256.7l3.1 -2.3M460.6 255.6l2.8 1.8M444.8 245l-2.5 -3M461 227l-3.7 2.4M454.3 326.5l0.4 4.4M497.4 326.6l1.7 3M499.8 227.1l2.7 1.8M467.9 265l2.4 -0.7M425.6 328.1l-3.8 -1M419.4 303.1l2.3 0.1M442.5 239.2l-1.5 -1.3M482.3 307.5l0.6 3.9M494 242.5l2.3 1.8M464.6 224.2l2.8 -2.1M446.5 332.3l-1.3 -3.8M485.3 284.4l0.1 -2.3M408.4 248.5l-1.6 -2.8M486 333.8l-3.1 -3.2M449.9 333.4l3.1 1.6M489.3 235.7l0.7 -2M460.3 265.2l2.8 -2.7M461.7 231.7l4.1 -0.3M422.2 248.5l0.8 -2.6M478.8 232.8l2.6 -2.3M492.9 223.7l-3.1 0.8M440.9 242.2l-0.2 3M405.1 319.7l-0.7 -2.3M399.8 273.1l0.7 2.8M437.4 303.7l-0.5 2.3M463.7 247.5l-2.5 0.2M445.2 282.5l-2.3 2.1M417.3 337.3l3.6 -2.1M494 235.1l2.2 3.9M475.4 253.7l-2.1 0.4M454.8 259.2l-3.5 -0.8M398 331.6l0.4 3.6M443.9 239.6l-3.5 -1.2M513.6 299.4l0.6 -2.4M457 268.3l2.3 2.7M395.8 331.4l1.8 -2.9M466.9 278.2l2.8 -3M406.9 222.4l0.6 -2.4M395.7 299.6l-3 -2.3M483.2 321.6l2.8 3.4M485.8 271.7l2.5 -0.4M445.5 244.1l-2.5 -2.9M445.5 302.2l-2.3 0.6M397.1 228.2l1.2 2.6M498.2 308.7l-2.6 -0.9M473.4 330.3l1.4 -1.6M453 329.2l1.3 3.6M479.6 243.6l-0 3.2M491.4 273.1l-3.1 -2.4M458.6 315.2l2.5 2.1M485.8 231.2l1.9 -2.3M426.5 295.6l-1.5 -1.4M433.9 284.5l-4.3 0.4M428.7 311.4l1.8 0.9M397.7 263.5l0.1 -2.9M433.3 335l1.3 2.3M488.4 230.2l-2.7 -3.4M495 301.8l-2 -0.8M473.5 333.8l-0.9 -3.1M419.9 332.3l1.7 2.2M443.3 299.6l-2.4 2.8M400.7 285.4l1.8 2.1M399.3 274.6l0.8 -3.1M492.7 245.2l-2.2 -1.2M418.3 261.4l3 1.1M498.4 229.1l-2.2 -1M402 291.6l-1 4.2M463.3 227.7l2.3 -0.3M465.4 277.7l-2.6 0.7M398 259.1l-1.4 -3.6M432.8 324.5l3.4 1.9M409.3 248l-3.5 -2.2M472.5 296.7l-3.2 2.4M474 236.1l0.3 -3.6M501.6 308.8l3.6 0.3M410.6 305.1l0.1 -3.1M438.8 223.4l0.7 -3.7M403.4 286.9l2.7 0.1M437.4 327.7l-0.3 2.5M464.4 256.6l-0.5 3M411.2 317.7l-1.1 3.5M495.9 225.6l-1.4 -2.4M413.3 233.2l2.8 0.3M472.8 239.3l1.7 1.3M495.6 242.7l1.1 -4.1M397.2 288.8l1.2 3.2M515.7 339.6l-1.8 -1.6M401.4 243l-2.5 2.8M428.5 229.5l-1.5 3.6M433.2 330.5l-1.6 -1.3M462 296.9l-1.6 3.5M486.8 244l-2.3 0.7M415.1 230.8l-2.7 -0.4M496.4 245.5l0.6 2.2M447.2 261.1l2.5 -1.8M431.4 285.2l0.3 -2.3M505.7 237.1l-3.2 -0.6M406.7 280.8l2.6 -0.4M433.3 300.4l2.7 3.4M421.7 310.9l1.9 -3.9M512.1 278l-1.7 -3.9M454.8 226.4l-2.7 -3M470.2 298.4l-2.9 -1.9M463.8 237.6l3.9 -0.1M413.7 310l2.9 -2M430.4 262.8l-2.2 -0.4M515.8 251.3l-2.4 3.6M419.7 290.4l2.7 3M507.5 243.5l2.8 -0.2M405.6 301.8l2.7 2.7M489.4 247.4l1.4 1.6M472.8 257.4l-3.4 -2.1M423.9 236.1l3.1 -1.8M411.1 229.2l-2.7 1.8M422.8 328.7l1.9 2.2M492.7 293.7l3.5 1.1M448.2 242.1l-4.3 1M473.7 320.8l-1.2 -3.4M459.3 293.1l-3 1.8M426.7 335.4l-1.6 1.5M406.2 296.7l0.5 -3.8M517.6 275.4l-2.9 1.5M450.4 234.9l-4 0.3M491.9 283.3l2.7 -1.9M497.6 322.2l3.1 -0.6M512.9 231.6l0.8 -3M472 315.4l-1.3 3.6M449.3 239.5l3.1 1.2M508.9 291.3l-0.3 -2.1M416.3 267.8l-3.1 0.4M403.7 311.2l-3.2 -1.1M438 256.4l3.7 -0.8M431.6 339.7l-2.7 3.4M450.5 273.9l2.5 -0.2M428.2 292.1l-0.1 2.4M399.7 319.8l1.9 -1.8M419.7 285.3l-1.7 -1.2M398.4 326.5l1.2 4.2M407.4 252.2l-2.4 0.1M464.3 304.7l3.9 1.3M495.9 317.3l-2.5 -1.3M420.7 226.6l2.1 1.7M447.6 290.5l-4 0.5M494.4 253.5l-1.7 1.1M463.5 307.5l2.1 2.2M479.5 313.9l2.7 -0.5M463 330.6l0.9 4.3M469 331.1l0.8 2M466.7 334.6l2.5 -0.8M446.8 324.1l4.3 -0.8M493.3 315.9l-1 -3.3M467.1 299l-1.4 3.4M452.6 333.6l-1 -2.3M476.2 294.7l-2.8 -2.3M473.4 273.1l1.3 -2M403.1 236.1l1.6 -1.5M419 318.1l1.6 1.5M409.8 273.8l3.6 1.8M427.4 244.5l-0.6 -3.3M491.5 257.8l-1.2 -3.2M459.4 245.8l3.6 1.2M468.2 239.3l-3.1 -2.2M517.9 306.5l1.4 -2M456.3 323.9l-1.3 -3.9M416.3 232.4l-3.6 1.8M396.5 290.9l2.9 0.7M451.8 279.3l3 -1.8M468 227.4l0.4 -2.4M407 303l2.5 0.3M510.3 222.3l0.1 3.4M480.4 296.2l2.4 2.7M459.6 337.8l-2.1 0.5M491.5 291.5l4.2 -0.8M450.9 302.5l-1 3.4M492.4 337.6l3.7 -1M414.4 226.9l-3.3 -1.6M404.6 321.4l-1.6 -1.7M456.2 240.9l2.5 3.5M398.4 330.3l-1 -2.9M397 297.9l-2.9 3M479.3 235.5l-3.1 0.9M462.6 297.2l2.2 0.2M400.7 271.2l2.3 0.5M509.4 273.1l3.3 -0.5M443.5 301l1.6 -1.8M462.9 335.2l-2.8 -3M420.5 317.4l0.4 -2.4M427.6 291.9l-2.8 -0.2M462.7 287l-3 -2.1M484.9 287.8l3.5 1.1M466 337.9l0.1 -2.8M515.5 307.4l-2.4 -3.6M404.6 311l-2.9 1.3M422.2 304.6l-0.9 -2.4M396.2 303.2l-1.6 4.1M492.5 251l-2.9 -0.9M408.4 235.3l-2.2 3M514.6 239.5l0.1 3.8M406.3 253.3l-4.2 -0.3M414 313l-2.7 -0.4M497.9 273.6l0.3 -2.7M498.9 246.2l-2.8 -2.6M481.5 242.2l3.6 2.1M480 327.6l2.6 0.3M505.5 287.4l-3.1 1.1M453.8 319.2l-2.1 1.3M496 268.7l-1.5 -2.7M483.1 277.9l-1.2 1.8M449.5 245.5l-2.3 -1.7M474.5 257l-2.6 -1.7M394.1 225.5l-2.8 -0.9M457.5 280.3l-3.8 -0.8M415.4 250.1l-1.3 1.8M501.2 281.6l2 -1.1M414.2 314.2l1.9 -2.3M448.7 250l-0.9 2M494.7 339.1l1.3 -3.9M475.9 308.4l0.8 2.3M425.3 312.8l3.3 1.4M512 299.9l-1.6 -3.4M458.7 324.4l-1.8 1M480.9 248.7l0.1 -3.5M492.5 336.7l1 2.8M439 230.5l-1.2 -2.1M414.2 224.1l-0.9 2.8M429.3 301.6l-3.5 0.3M447.2 331.5l3.2 -2.5M413.3 243.2l-3.6 -1.4M470.3 269.4l1.5 -3.8M501.7 244.2l-1.4 1.8M400.6 237l-2.6 -1.4M394.3 243l-2.8 -0.9M400.9 333.9l3.1 2.6M406.3 331.4l0.2 3.5M399.1 247.4l-3.6 -2.4M466.6 254.3l-4.5 0M422.9 334.4l3.2 2.7M394.1 267.6l-2.5 0.3M437.2 328.6l2.7 2.9M418.5 265.7l-0.3 -2.3M410.6 242.6l1.5 1.4M424.6 289.5l-1.3 -2.6M406.2 329.1l1.8 -2.6M430.2 327.1l1.1 2.9M448.4 228l1 2M405.8 307.7l-2.8 2.8M424.8 306.6l2.8 -1.1M492.6 287.3l-1.8 2.3M427.9 223.5l-1.5 2.7M439.2 265.5l-2.4 -0.3M509 253.2l3.1 -3.1M443.6 302.8l0.9 -2.3M515.8 319.3l-4 0.6M492.3 239.3l-2.1 0.3M440 228.2l2 2.9M435 235.4l2.6 -1M409 318.9l2.5 2.6M478.2 280.6l-0.2 -2.8M398.2 333l2.3 -2.8M475.5 232.5l-2 -2.4M448.2 233.6l4 -1.5M513.9 244.4l-1.1 2.1M459.7 305.6l-1 3.9M491.6 243.2l-3.6 -0.7M400.9 282.9l-2.1 -3.5M484.3 327.7l-1.1 -4.1M489.4 250.4l0.2 3.3M443.7 256l1.4 1.8M480.9 226.4l4.4 -0.3M498.7 240.5l4.1 1.5M473.2 302.6l-1.4 3M461.9 315.2l-1.8 -1.2M455.4 314.1l-3.9 -0.8M453.6 320.1l0.8 2.1M400.2 283.2l2.4 2.2M484.9 234.5l0.1 2.5M489.7 258.5l4.5 0.5M398.1 283.4l3.5 -1M454.4 300.2l2.1 -1.7M413.2 318.7l-0.1 3.4M505 272.5l-1.5 2.2M427.3 299.2l-2 -0.5M461.7 288.8l-2.7 -1.3M476.3 336.2l1.3 3.2M508.4 339.2l2 1.5M482 236.8l1.5 -4M395.4 285l0.5 -2.7M483 243.4l2.4 0.5M449.5 269.8l-1.2 1.9M460.8 324.1l-1.2 2.2M473.9 241.3l1.4 2M506.4 322.4l-1.3 2.6M400.6 311.5l1.1 -2.4M420.3 259.2l-0.3 3.3M502.4 267.5l0.9 3.5M463.9 314l2.2 0.5M419.3 237.6l0 2.9M433.1 285l2.6 -1.3M451.6 237.3l-2.2 -3.1M486.5 242.6l0.9 -2.9M432.1 303.1l0.2 -3.9M464.4 261.3l0.6 -4.4M485.7 278.8l4 0.6M493.8 279.3l-2.2 2M509.1 233l-3.9 -1.9M497.1 238l-2 -0.3M484.1 237.3l3.9 -0.4M494.7 331.2l-1.2 -3.8M449.7 338.9l1.7 3.4M409.5 267.8l2 -0.3M488.8 271.6l-0.3 4.2M442 288.9l1.9 -3.2M481.4 222.7l2.6 -2.2M492.6 270.3l-2.3 1.2M404.4 323.6l1 4.2M463.8 245.1l2.4 2.5M479.8 310.1l1.1 3.6M494.8 232.8l3.8 -0.5M396.8 267l-2 2.2M413.7 311.1l4.2 -0.4M467.7 236.8l3.3 1.8M516.3 259.4l3.3 -3M416.8 242.3l2.8 -0.3M497.6 322.4l0.8 -2.9M493.9 293.9l3 -2.5M483.4 322.9l2.7 1.1M399.2 286.8l0.7 -2.7M413.2 307.3l0.2 -2.1M453 238.9l-2.8 2.6M420.1 335.9l3.5 1.8M395 279.8l-1.9 -2.2M410.2 249.1l-4.4 1M426.4 326.3l-1.8 3.4M485.9 326.2l3.1 1.7M451 299.8l-0.8 4.4M452.3 285.6l-2 1.9M400.1 223.5l0.5 -2.2M438.9 285.8l4 0.6M489.8 267.9l-2.7 1.1M403.4 270.8l-1.7 2.9M515.3 277.5l-3.5 2.3M460 328.8l2.7 0.4M405.9 313.2l-1.3 1.7M398.6 245.2l2.4 -2.6M470.1 324.7l2.1 2.6M417.6 326.1l4.4 0.3M463.4 236.9l2.6 -3M425.5 326.2l1.2 3M432.6 227.3l-4.2 -1.5M492.7 271.4l-2.1 0.7M456.5 223.4l2 -1.2M485.9 231.7l-2.9 1.2M396.9 234.7l0.6 -2.2M438.1 297.2l3.1 -3M430.7 318.6l-1.5 -1.4M496.1 322.8l-2.1 1.3M419.1 234.9l3.5 0.9M487.1 246.4l1.2 3.6M500.3 223.2l-0.8 3.4M462.7 253.3l2.3 1M432.5 339.6l-1.6 4.1M399.5 282.8l-0.4 2.6M448 259.8l2 -0.6M439.3 309.6l-0.8 -3.5M442 245.1l-1.2 -1.9M421.4 270.6l-0.3 -3.9M436.7 236.9l2.3 2.6M399.9 333.1l-1.1 3.7M399.4 269.1l-1.9 -3.2M472.6 293.1l-0 2.8M486.4 231.7l1.6 -3.3M494 298.1l-0.1 3.5M510.9 283l3.3 0.5M493.1 272.7l-0.9 2.5M470.8 262l-0.7 -2.1M478.3 338.4l3.3 -2.4M481.2 225.4l-3 1.5M402.5 247.1l-2.4 0.2M426 227.6l4.3 -0.1M486.3 264.9l3 -0.4M507.6 248.6l-0.9 2.3M514.8 230.8l1.5 -3.9M435.4 269.9l3.6 1.8M417.2 331.9l-2.1 -1.1M415.3 285.4l1.9 0.7M475.9 301.3l2.1 -1M434.6 321.4l2 2.1M487.7 243.7l-2.3 -3.2M449 257.5l-2 -3.3M438 317.1l-2.2 0.9M515.3 225.1l-2.5 -0.2M469.7 271.1l-2.2 2.4M430.7 339.3l0.8 1.9M413.6 304.8l-3.9 -0.1M442.4 293l-2.2 -3.5M399.6 247l-4 0.8M407.8 272.5l-2.1 0M487.4 230.3l4.1 1.4M412.4 290.4l-2.5 -2.2M447 282.1l2.3 -2M510.2 302.8l0.2 2.4" stroke="#333" stroke-width="0.6" fill="none"/><ellipse cx="449" cy="282" rx="38" ry="44" fill="url(#core)" opacity="0.55"/><circle cx="455.1" cy="283.2" r="0.9" fill="#2A2E38"/><circle cx="454" cy="301" r="0.7" fill="#1A3490"/><circle cx="468.8" cy="267" r="1.1" fill="#DDE2E8"/><circle cx="418.2" cy="282.6" r="0.8" fill="#70767E"/><circle cx="437" cy="265.4" r="0.8" fill="#1E2A6E"/><circle cx="412.8" cy="281.6" r="1.2" fill="#2858C8"/><circle cx="473.3" cy="253.7" r="0.8" fill="#2858C8"/><circle cx="427.5" cy="312.6" r="0.8" fill="#2A2E38"/><circle cx="450.5" cy="281.4" r="1.5" fill="#1A3490"/><circle cx="436.2" cy="279.7" r="1.2" fill="#4A70D0"/><circle cx="413.6" cy="277.5" r="1.4" fill="#4A70D0"/><circle cx="468.5" cy="266.6" r="1.1" fill="#2858C8"/><circle cx="475.3" cy="257.5" r="1.2" fill="#505660"/><circle cx="442.5" cy="270.2" r="1.4" fill="#FFFFFF"/><circle cx="437.7" cy="242.6" r="1" fill="#1A3490"/><circle cx="459.5" cy="317.5" r="0.8" fill="#5A6478"/><circle cx="420.9" cy="267.8" r="1.2" fill="#38B8E8"/><circle cx="480" cy="256.3" r="1.2" fill="#5A6478"/><circle cx="449.6" cy="241.7" r="1.3" fill="#4A70D0"/><circle cx="453.1" cy="243.9" r="1.2" fill="#70767E"/><circle cx="441.9" cy="305.8" r="1.4" fill="#2858C8"/><circle cx="433.8" cy="292.3" r="1.1" fill="#1A3490"/><circle cx="461.7" cy="314.7" r="1" fill="#2858C8"/><circle cx="433.8" cy="270.7" r="1.3" fill="#38B8E8"/><circle cx="473.4" cy="252.3" r="1.4" fill="#2858C8"/><circle cx="445.2" cy="283.4" r="1" fill="#1E2A6E"/><circle cx="428.4" cy="248.1" r="1.3" fill="#2858C8"/><circle cx="479.2" cy="295.8" r="0.7" fill="#48C8F0"/><circle cx="447.3" cy="275.6" r="0.8" fill="#FFFFFF"/><circle cx="456.3" cy="301.2" r="1.2" fill="#DDE2E8"/><circle cx="434.1" cy="256.4" r="1.3" fill="#4A70D0"/><circle cx="427.3" cy="284.8" r="1.1" fill="#FFFFFF"/><circle cx="473.2" cy="315.7" r="1.2" fill="#48C8F0"/><circle cx="449.2" cy="301" r="0.7" fill="#FFFFFF"/><circle cx="487" cy="290.3" r="0.9" fill="#FFFFFF"/><circle cx="468.6" cy="259.3" r="1.1" fill="#5A6478"/><circle cx="487.1" cy="283.5" r="1.2" fill="#48C8F0"/><circle cx="446" cy="303.5" r="1.1" fill="#4A70D0"/><circle cx="434.2" cy="316" r="1.2" fill="#38B8E8"/><circle cx="485.1" cy="280.6" r="1.2" fill="#FFFFFF"/><circle cx="471.4" cy="253.4" r="1.2" fill="#4A70D0"/><circle cx="473.9" cy="298.9" r="1.4" fill="#FFFFFF"/><circle cx="414.7" cy="291.5" r="1.1" fill="#38B8E8"/><circle cx="431.4" cy="259.3" r="1.1" fill="#FFFFFF"/><circle cx="430.8" cy="247.9" r="1.2" fill="#1A3490"/><circle cx="470.8" cy="270.7" r="1.1" fill="#2A2E38"/><circle cx="432.3" cy="278.7" r="1.1" fill="#48C8F0"/><circle cx="478.7" cy="307.6" r="1.4" fill="#505660"/><circle cx="475.3" cy="252.2" r="1" fill="#2A2E38"/><circle cx="421.6" cy="286" r="1.4" fill="#2858C8"/><circle cx="471.1" cy="286.7" r="1.4" fill="#5A6478"/><circle cx="422.5" cy="271.3" r="0.9" fill="#505660"/><circle cx="440.7" cy="255.4" r="1.5" fill="#70767E"/><circle cx="455" cy="253.1" r="1.3" fill="#1E2A6E"/><circle cx="427" cy="281" r="1.3" fill="#5A6478"/><circle cx="417.4" cy="303.5" r="1.2" fill="#FFFFFF"/><circle cx="466.1" cy="277.1" r="1.1" fill="#48C8F0"/><circle cx="458.6" cy="251.1" r="0.8" fill="#2858C8"/><circle cx="425.4" cy="311.5" r="1.4" fill="#FFFFFF"/><circle cx="433.2" cy="288" r="1.4" fill="#70767E"/><circle cx="442.6" cy="270.3" r="0.9" fill="#2A2E38"/><circle cx="464.8" cy="309.8" r="1.4" fill="#DDE2E8"/><circle cx="457.5" cy="247.2" r="1.2" fill="#DDE2E8"/><circle cx="445.8" cy="259.5" r="1.2" fill="#2858C8"/><circle cx="480.2" cy="257.5" r="1.4" fill="#FFFFFF"/><circle cx="478.3" cy="288.1" r="1.1" fill="#505660"/><circle cx="453.3" cy="260.7" r="1" fill="#1E2A6E"/><circle cx="464.6" cy="317.2" r="0.8" fill="#DDE2E8"/><circle cx="451.6" cy="282.9" r="0.9" fill="#1E2A6E"/><circle cx="425.1" cy="284.9" r="1.4" fill="#DDE2E8"/><circle cx="463.8" cy="292.8" r="0.8" fill="#FFFFFF"/><circle cx="424.9" cy="290.7" r="1.2" fill="#FFFFFF"/><circle cx="471.9" cy="296" r="0.7" fill="#2A2E38"/><circle cx="427.2" cy="310.6" r="0.8" fill="#5A6478"/><circle cx="462.7" cy="318.4" r="1.5" fill="#505660"/><circle cx="428.6" cy="281.3" r="1.2" fill="#1A3490"/><circle cx="447.9" cy="282.8" r="1.2" fill="#2A2E38"/><circle cx="470.2" cy="319.7" r="0.9" fill="#48C8F0"/><circle cx="433.1" cy="309.2" r="1.4" fill="#DDE2E8"/><circle cx="475.1" cy="264.3" r="1.2" fill="#38B8E8"/><circle cx="455.8" cy="240.9" r="0.9" fill="#DDE2E8"/><circle cx="435.7" cy="264.1" r="0.9" fill="#70767E"/><circle cx="464.6" cy="285.4" r="1.2" fill="#1A3490"/><circle cx="476.6" cy="287.7" r="0.8" fill="#70767E"/><circle cx="467" cy="304.2" r="1.1" fill="#70767E"/><circle cx="423.8" cy="266" r="1" fill="#FFFFFF"/><circle cx="472.1" cy="270.3" r="1" fill="#1E2A6E"/><circle cx="463.5" cy="324" r="0.7" fill="#48C8F0"/><circle cx="470.8" cy="255.8" r="1.2" fill="#48C8F0"/><circle cx="433.4" cy="310.4" r="0.9" fill="#DDE2E8"/><circle cx="426.4" cy="280.1" r="0.9" fill="#FFFFFF"/><circle cx="457.9" cy="304.5" r="1" fill="#70767E"/><circle cx="479.3" cy="259.7" r="1.3" fill="#DDE2E8"/><circle cx="429.4" cy="266.5" r="1.3" fill="#2858C8"/><circle cx="428.5" cy="291.2" r="1.5" fill="#48C8F0"/><circle cx="441.4" cy="287" r="1.1" fill="#FFFFFF"/><circle cx="459.9" cy="284.7" r="1.4" fill="#38B8E8"/><circle cx="455.9" cy="249.3" r="1" fill="#FFFFFF"/><circle cx="438" cy="306.9" r="1.1" fill="#5A6478"/><circle cx="424.3" cy="279.3" r="1.4" fill="#2A2E38"/><circle cx="470.6" cy="293" r="1" fill="#2A2E38"/><circle cx="456.4" cy="323.3" r="0.8" fill="#38B8E8"/><circle cx="464.6" cy="247.5" r="0.9" fill="#FFFFFF"/><circle cx="446.8" cy="321.7" r="0.8" fill="#1E2A6E"/><circle cx="469" cy="268.8" r="0.9" fill="#48C8F0"/><circle cx="447.7" cy="249" r="1.1" fill="#505660"/><circle cx="481.5" cy="283.7" r="1.4" fill="#2858C8"/><circle cx="421.4" cy="261.3" r="0.9" fill="#70767E"/><circle cx="431" cy="306.9" r="1.2" fill="#70767E"/><circle cx="421.6" cy="286.9" r="1.3" fill="#FFFFFF"/><circle cx="485.6" cy="279.2" r="1.5" fill="#5A6478"/><circle cx="424.6" cy="310.5" r="1.2" fill="#38B8E8"/><circle cx="464.4" cy="301.6" r="1.3" fill="#70767E"/><circle cx="475" cy="268.3" r="1.2" fill="#38B8E8"/><circle cx="455.4" cy="279.3" r="1.1" fill="#FFFFFF"/><circle cx="445" cy="305.4" r="1" fill="#1A3490"/><circle cx="426.3" cy="256.2" r="0.8" fill="#2858C8"/><circle cx="448.8" cy="241.5" r="0.9" fill="#38B8E8"/><circle cx="462.8" cy="243.7" r="1.1" fill="#FFFFFF"/><circle cx="444.4" cy="255.7" r="1.4" fill="#FFFFFF"/><circle cx="462.8" cy="287.8" r="1.5" fill="#70767E"/><circle cx="420.7" cy="308.9" r="0.7" fill="#1A3490"/><circle cx="459.8" cy="264.5" r="1" fill="#FFFFFF"/><circle cx="473.7" cy="249.3" r="0.8" fill="#2858C8"/><circle cx="426.5" cy="295.8" r="1.1" fill="#5A6478"/><circle cx="464.5" cy="268.5" r="0.9" fill="#1A3490"/><circle cx="463.4" cy="302.7" r="1.3" fill="#48C8F0"/><circle cx="444" cy="291.6" r="0.9" fill="#505660"/><circle cx="422.5" cy="258.8" r="1.2" fill="#38B8E8"/><circle cx="432.3" cy="265.2" r="1.2" fill="#2A2E38"/><circle cx="436.4" cy="317.9" r="0.7" fill="#2A2E38"/><circle cx="425.5" cy="264.3" r="1.3" fill="#2858C8"/><circle cx="461.6" cy="293.9" r="0.9" fill="#DDE2E8"/><circle cx="462.1" cy="281.3" r="0.8" fill="#2858C8"/><circle cx="439.3" cy="271.1" r="1.1" fill="#2A2E38"/><circle cx="429.1" cy="281.4" r="0.8" fill="#DDE2E8"/><circle cx="425.7" cy="265.5" r="1.1" fill="#1A3490"/><circle cx="473.5" cy="305.9" r="0.7" fill="#5A6478"/><circle cx="463.7" cy="269.4" r="0.8" fill="#1E2A6E"/><circle cx="471" cy="287.3" r="1" fill="#4A70D0"/><circle cx="459.3" cy="285" r="1.4" fill="#1E2A6E"/><circle cx="437.5" cy="259.6" r="1.1" fill="#2A2E38"/><circle cx="454.2" cy="240.2" r="0.8" fill="#5A6478"/><circle cx="442" cy="251.7" r="1" fill="#FFFFFF"/><circle cx="467.1" cy="255.4" r="1.3" fill="#2A2E38"/><circle cx="466.3" cy="269.1" r="1.3" fill="#2A2E38"/><circle cx="433.2" cy="267.4" r="1.2" fill="#FFFFFF"/><circle cx="474.3" cy="264.1" r="0.8" fill="#1A3490"/><circle cx="443.3" cy="292.7" r="1.4" fill="#38B8E8"/><circle cx="469.8" cy="303.4" r="1.4" fill="#1A3490"/><circle cx="443.4" cy="245.6" r="0.8" fill="#FFFFFF"/><circle cx="459.4" cy="307.7" r="1.4" fill="#38B8E8"/><circle cx="466" cy="290.9" r="0.9" fill="#FFFFFF"/><circle cx="462.5" cy="303" r="1" fill="#2858C8"/><circle cx="431.6" cy="311.5" r="0.9" fill="#2858C8"/><circle cx="463.3" cy="276.9" r="0.8" fill="#DDE2E8"/><circle cx="446.2" cy="260.2" r="0.8" fill="#70767E"/><circle cx="462.5" cy="243.1" r="1.5" fill="#2858C8"/><circle cx="426" cy="269.1" r="0.8" fill="#1A3490"/><circle cx="437.4" cy="296.9" r="1.5" fill="#2A2E38"/><circle cx="459.5" cy="262.3" r="0.7" fill="#FFFFFF"/><circle cx="423.7" cy="308.5" r="1.3" fill="#70767E"/><circle cx="430.8" cy="315.5" r="1.2" fill="#5A6478"/><circle cx="448.3" cy="317.3" r="1.2" fill="#505660"/><circle cx="465" cy="248.3" r="0.8" fill="#2A2E38"/><circle cx="474.4" cy="297.1" r="0.9" fill="#48C8F0"/><circle cx="428.8" cy="251.5" r="1" fill="#4A70D0"/><circle cx="440.8" cy="267.8" r="1.2" fill="#1A3490"/><circle cx="475.3" cy="292.6" r="1.3" fill="#70767E"/><circle cx="456.6" cy="302.6" r="0.9" fill="#1A3490"/><circle cx="445.8" cy="311.9" r="0.9" fill="#70767E"/><circle cx="448.9" cy="318.2" r="1.2" fill="#1A3490"/><circle cx="429.5" cy="279.7" r="0.9" fill="#FFFFFF"/><circle cx="446" cy="268.2" r="1.3" fill="#2858C8"/><circle cx="466.7" cy="307.7" r="1" fill="#DDE2E8"/><circle cx="458.1" cy="317.4" r="1.3" fill="#1A3490"/><circle cx="453.5" cy="323.1" r="1.1" fill="#2A2E38"/><circle cx="433.7" cy="293.4" r="1.4" fill="#FFFFFF"/><circle cx="442.3" cy="283.5" r="1.3" fill="#1A3490"/><circle cx="471" cy="288.8" r="1.3" fill="#48C8F0"/><circle cx="429.5" cy="253.5" r="0.7" fill="#70767E"/><circle cx="455.3" cy="302.2" r="1.4" fill="#38B8E8"/><circle cx="458.4" cy="284.3" r="0.8" fill="#DDE2E8"/><circle cx="416.7" cy="275.6" r="1.3" fill="#FFFFFF"/><circle cx="416.9" cy="275.3" r="1.1" fill="#4A70D0"/><circle cx="456.7" cy="323.9" r="1.1" fill="#DDE2E8"/><circle cx="451.8" cy="323.1" r="1.2" fill="#48C8F0"/><circle cx="418.3" cy="278.4" r="1" fill="#48C8F0"/><circle cx="447.5" cy="303.6" r="1.3" fill="#1A3490"/><circle cx="475.3" cy="252.3" r="1.4" fill="#505660"/><circle cx="451.5" cy="240.6" r="1.3" fill="#1E2A6E"/><circle cx="452.6" cy="268.7" r="1.4" fill="#5A6478"/><circle cx="448.7" cy="281.1" r="0.9" fill="#48C8F0"/><circle cx="449.9" cy="271.1" r="1.3" fill="#1E2A6E"/><circle cx="447.1" cy="282.5" r="1.5" fill="#5A6478"/><circle cx="460" cy="272.4" r="0.9" fill="#1E2A6E"/><circle cx="433.5" cy="300.7" r="1.2" fill="#5A6478"/><circle cx="442.2" cy="265.9" r="1.4" fill="#1E2A6E"/><circle cx="472.7" cy="264.2" r="0.7" fill="#2858C8"/><circle cx="461.7" cy="318.6" r="0.9" fill="#1A3490"/><circle cx="465.9" cy="254.5" r="1.1" fill="#FFFFFF"/><circle cx="464.2" cy="245.3" r="1" fill="#1A3490"/><circle cx="468.1" cy="281.5" r="1" fill="#38B8E8"/><circle cx="445.1" cy="263.1" r="1.1" fill="#505660"/><circle cx="465.2" cy="303.7" r="1" fill="#2A2E38"/><circle cx="470.7" cy="292.1" r="1.3" fill="#1A3490"/><circle cx="464.3" cy="292.1" r="0.8" fill="#DDE2E8"/><circle cx="452.1" cy="252" r="1" fill="#4A70D0"/><circle cx="432.5" cy="306.8" r="0.9" fill="#505660"/><circle cx="427.2" cy="291.2" r="1.2" fill="#2A2E38"/><circle cx="452.2" cy="291.9" r="0.7" fill="#2858C8"/><circle cx="439.8" cy="307.6" r="0.9" fill="#1A3490"/><circle cx="450.2" cy="272.1" r="1" fill="#2858C8"/><circle cx="445.4" cy="308.1" r="1.4" fill="#48C8F0"/><circle cx="441.2" cy="264" r="0.8" fill="#1A3490"/><circle cx="473.2" cy="268.1" r="1.5" fill="#5A6478"/><circle cx="464.9" cy="258.7" r="0.9" fill="#505660"/><circle cx="445.7" cy="304.1" r="1.1" fill="#4A70D0"/><circle cx="445.3" cy="249.5" r="1.3" fill="#505660"/><circle cx="424" cy="307.5" r="1.2" fill="#2858C8"/><circle cx="440.1" cy="252.5" r="0.7" fill="#2858C8"/><circle cx="425.1" cy="305.7" r="1.2" fill="#2858C8"/><circle cx="455.2" cy="270.8" r="1.1" fill="#48C8F0"/><circle cx="428.6" cy="284.2" r="1.5" fill="#2A2E38"/><circle cx="445.3" cy="319.2" r="1.5" fill="#48C8F0"/><circle cx="459.4" cy="305.5" r="0.9" fill="#4A70D0"/><circle cx="454.1" cy="273.2" r="0.9" fill="#FFFFFF"/><circle cx="444.4" cy="269.2" r="1.1" fill="#FFFFFF"/><circle cx="463.8" cy="258.1" r="0.8" fill="#2858C8"/><circle cx="451.5" cy="241.6" r="0.8" fill="#5A6478"/><circle cx="427.2" cy="316.3" r="1.4" fill="#38B8E8"/><circle cx="465.1" cy="315.4" r="0.8" fill="#DDE2E8"/><circle cx="449.9" cy="320.3" r="0.9" fill="#1E2A6E"/><circle cx="447.6" cy="273.6" r="0.9" fill="#DDE2E8"/><circle cx="433.4" cy="304.7" r="0.9" fill="#505660"/><circle cx="462.2" cy="246.3" r="1.5" fill="#4A70D0"/><circle cx="437.2" cy="318.4" r="1.2" fill="#2A2E38"/><circle cx="428.8" cy="286.1" r="1.3" fill="#2858C8"/><circle cx="445.2" cy="260.6" r="1.4" fill="#4A70D0"/><circle cx="463.1" cy="254.5" r="0.7" fill="#DDE2E8"/><circle cx="469.6" cy="305.2" r="1.2" fill="#505660"/><circle cx="444.1" cy="264" r="1.3" fill="#FFFFFF"/><circle cx="446.2" cy="264.1" r="1.4" fill="#2A2E38"/><circle cx="463.7" cy="264.1" r="1.5" fill="#DDE2E8"/><circle cx="443" cy="303.8" r="1.1" fill="#FFFFFF"/><circle cx="414" cy="292.1" r="1.1" fill="#38B8E8"/><circle cx="441.3" cy="301.1" r="1.2" fill="#FFFFFF"/><circle cx="455.9" cy="269.1" r="1.4" fill="#2858C8"/><circle cx="439.7" cy="272.7" r="0.9" fill="#5A6478"/><circle cx="458.2" cy="302.1" r="1" fill="#2A2E38"/><circle cx="459.2" cy="283.1" r="1.5" fill="#2A2E38"/><circle cx="425.6" cy="276.7" r="0.9" fill="#505660"/><circle cx="447.5" cy="269.5" r="0.7" fill="#4A70D0"/><circle cx="436" cy="247.6" r="1.3" fill="#2A2E38"/><circle cx="440.1" cy="247.4" r="1.1" fill="#1E2A6E"/><circle cx="453.6" cy="259.6" r="0.7" fill="#DDE2E8"/><circle cx="437.5" cy="275.2" r="1" fill="#DDE2E8"/><circle cx="443.3" cy="247.8" r="0.8" fill="#FFFFFF"/><circle cx="428.9" cy="279.6" r="1.3" fill="#2A2E38"/><circle cx="450.8" cy="255.7" r="1" fill="#FFFFFF"/><circle cx="424.9" cy="256.7" r="0.9" fill="#DDE2E8"/><circle cx="474.8" cy="259.2" r="1.4" fill="#5A6478"/><circle cx="420.5" cy="278.4" r="0.9" fill="#5A6478"/><circle cx="449.5" cy="243.7" r="0.7" fill="#70767E"/><circle cx="454.8" cy="324.9" r="1.1" fill="#2858C8"/><circle cx="453.9" cy="243.1" r="0.8" fill="#FFFFFF"/><circle cx="432" cy="297.6" r="1.5" fill="#FFFFFF"/><circle cx="440.3" cy="315.4" r="0.9" fill="#505660"/><circle cx="441.7" cy="308.8" r="1" fill="#FFFFFF"/><circle cx="420.4" cy="295.8" r="1.5" fill="#2A2E38"/><circle cx="436.6" cy="297.4" r="1.2" fill="#FFFFFF"/><circle cx="426.3" cy="281.9" r="1.3" fill="#4A70D0"/><circle cx="445.6" cy="271.8" r="0.8" fill="#1E2A6E"/><circle cx="433.6" cy="301.8" r="1.1" fill="#1E2A6E"/><circle cx="431" cy="291.9" r="1.4" fill="#38B8E8"/><circle cx="477.2" cy="311.5" r="0.9" fill="#FFFFFF"/><circle cx="434.2" cy="311.9" r="1.1" fill="#FFFFFF"/><circle cx="468.8" cy="295" r="1.2" fill="#2A2E38"/><circle cx="450.3" cy="318.1" r="1.3" fill="#2858C8"/><circle cx="434.3" cy="271.8" r="1.2" fill="#1E2A6E"/><circle cx="423.3" cy="290.8" r="1.3" fill="#1E2A6E"/><circle cx="475.6" cy="301.1" r="1.4" fill="#70767E"/><circle cx="417.5" cy="301.2" r="1.3" fill="#2858C8"/><circle cx="476.6" cy="254.6" r="0.7" fill="#1A3490"/><circle cx="453.7" cy="271.4" r="0.7" fill="#1E2A6E"/><circle cx="436.4" cy="317.5" r="1" fill="#2A2E38"/><circle cx="456.3" cy="283.2" r="1.3" fill="#1A3490"/><circle cx="443.9" cy="320.5" r="1.4" fill="#505660"/><circle cx="467" cy="319.2" r="1.5" fill="#DDE2E8"/><circle cx="443.9" cy="307.4" r="0.8" fill="#1E2A6E"/><circle cx="443.3" cy="264.3" r="0.9" fill="#48C8F0"/><circle cx="430.6" cy="304" r="1.3" fill="#1A3490"/><circle cx="420.5" cy="306.8" r="1.3" fill="#38B8E8"/><circle cx="466.5" cy="264.9" r="1.4" fill="#505660"/><circle cx="423.1" cy="256.4" r="1.1" fill="#505660"/><circle cx="458.2" cy="301.5" r="1.4" fill="#FFFFFF"/><circle cx="484.7" cy="291.8" r="0.8" fill="#5A6478"/><circle cx="463" cy="280.7" r="1.2" fill="#1A3490"/><circle cx="483" cy="264" r="0.9" fill="#1E2A6E"/><circle cx="470.7" cy="293.8" r="1.1" fill="#1A3490"/></g>
<path d="M404.6 301l0.4 4.4M514.7 275.8l1.8 -3.8M487.6 331.3l-2.5 -1.5M407.8 255.5l3.7 1.6M464.4 225.8l0.8 3M510.5 260.2l-1.5 3.5M512.3 286.3l3.3 -0.7M403.7 252l2.9 3.2M513.6 259.5l-4 0.9M399 286.5l-4 2M403.3 265.9l-1.4 3M514.3 254.9l3.5 -1.2M471.3 333.5l-1.2 3.5M408.9 254.3l-3.4 2.4M399.2 271.3l-2.1 3.1M418.9 319.9l-3.8 0.4M446.1 223.9l2 2.2M456.2 226.9l1.5 -2.6M494.4 233.5l0.1 3.3M458.3 339.4l-3 -0.4M517.2 295.1l1.4 2.7M505.6 242.8l-3.3 -1.8M400.1 277.5l-2.3 1.9M401 253.8l2.2 -2M495 237.7l-1.6 2.7M442.6 228.2l2.1 2.1M443.6 227.7l-2.3 2.1M484.9 334.7l1 3.6M461.5 339.5l1.7 -3.2M480.8 226.7l2.4 -1.1M473.9 335.4l0.1 -2.8M399.9 289.3l-0.3 -2.7M405.3 249.8l-1.7 3.7M424.2 330.6l2 2.6M408.9 315l1.6 -2.3M509.6 261.4l1.9 -2.1M514.2 286.7l-1 4M437.4 334.4l-2.9 -2.2M511.2 302.1l1 -3.7M514.6 299.1l-2.5 -0.3M460.3 225.5l2.7 3M478.1 229l-2.1 -1.8M515.7 295l0.9 2.7M399 288.1l1.2 -2.3M455 333.7l-3.1 -1.8" stroke="#444" stroke-width="0.6" fill="none"/>
<circle cx="510.3" cy="276.4" r="1.7" fill="#EE1010"/><circle cx="504.8" cy="288.3" r="1.7" fill="#EE1010"/><circle cx="505.3" cy="288.9" r="1.7" fill="#EE1010"/><circle cx="515" cy="298.2" r="1.7" fill="#EE1010"/><circle cx="511.1" cy="303.9" r="1.7" fill="#EE1010"/><circle cx="514.2" cy="309.6" r="1.7" fill="#EE1010"/><circle cx="499.1" cy="309.1" r="1.7" fill="#EE1010"/><circle cx="502" cy="325" r="1.7" fill="#EE1010"/><circle cx="494.9" cy="333.1" r="1.7" fill="#EE1010"/><circle cx="483.1" cy="327.4" r="1.7" fill="#EE1010"/><circle cx="483.6" cy="333.9" r="1.7" fill="#EE1010"/><circle cx="479.7" cy="338.3" r="1.7" fill="#EE1010"/><circle cx="464.3" cy="340.1" r="1.7" fill="#EE1010"/><circle cx="461.2" cy="329.5" r="1.7" fill="#EE1010"/><circle cx="457.6" cy="331.8" r="1.7" fill="#EE1010"/><circle cx="450.9" cy="334.7" r="1.7" fill="#EE1010"/><circle cx="443.3" cy="328.8" r="1.7" fill="#EE1010"/><circle cx="431.1" cy="334.5" r="1.7" fill="#EE1010"/><circle cx="429" cy="323.9" r="1.7" fill="#EE1010"/><circle cx="421.7" cy="327.7" r="1.7" fill="#EE1010"/><circle cx="421.4" cy="321.9" r="1.7" fill="#EE1010"/><circle cx="410.7" cy="316.6" r="1.7" fill="#EE1010"/><circle cx="408" cy="309.4" r="1.7" fill="#EE1010"/><circle cx="398.9" cy="307.6" r="1.7" fill="#EE1010"/><circle cx="395.7" cy="301.7" r="1.7" fill="#EE1010"/><circle cx="402" cy="294.1" r="1.7" fill="#EE1010"/><circle cx="394.7" cy="293.6" r="1.7" fill="#EE1010"/><circle cx="401.8" cy="287.8" r="1.7" fill="#EE1010"/><circle cx="397.7" cy="280.8" r="1.7" fill="#EE1010"/><circle cx="404.4" cy="268.3" r="1.7" fill="#EE1010"/><circle cx="397.5" cy="260.6" r="1.7" fill="#EE1010"/><circle cx="409.2" cy="260" r="1.7" fill="#EE1010"/><circle cx="409.3" cy="251.4" r="1.7" fill="#EE1010"/><circle cx="412.7" cy="247.2" r="1.7" fill="#EE1010"/><circle cx="414.8" cy="238.5" r="1.7" fill="#EE1010"/><circle cx="420.8" cy="246.3" r="1.7" fill="#EE1010"/><circle cx="429.2" cy="235.9" r="1.7" fill="#EE1010"/><circle cx="433.2" cy="240.5" r="1.7" fill="#EE1010"/><circle cx="435.6" cy="224.3" r="1.7" fill="#EE1010"/><circle cx="447.9" cy="232.6" r="1.7" fill="#EE1010"/><circle cx="453.3" cy="232.3" r="1.7" fill="#EE1010"/><circle cx="454" cy="228.5" r="1.7" fill="#EE1010"/><circle cx="462.8" cy="226.4" r="1.7" fill="#EE1010"/><circle cx="468.9" cy="227" r="1.7" fill="#EE1010"/><circle cx="477.6" cy="234.9" r="1.7" fill="#EE1010"/><circle cx="480" cy="224.6" r="1.7" fill="#EE1010"/><circle cx="486.4" cy="230.3" r="1.7" fill="#EE1010"/><circle cx="490.3" cy="246.4" r="1.7" fill="#EE1010"/><circle cx="492.8" cy="249.7" r="1.7" fill="#EE1010"/><circle cx="500.7" cy="247.1" r="1.7" fill="#EE1010"/><circle cx="511.2" cy="250.6" r="1.7" fill="#EE1010"/><circle cx="499.2" cy="256.6" r="1.7" fill="#EE1010"/><circle cx="515.5" cy="262.5" r="1.7" fill="#EE1010"/><circle cx="514.2" cy="264.3" r="1.7" fill="#EE1010"/><circle cx="512.9" cy="271.1" r="1.7" fill="#EE1010"/><circle cx="457.4" cy="316.5" r="1.2" fill="#E8141C"/><circle cx="441.1" cy="247.2" r="1.2" fill="#E8141C"/><circle cx="431.3" cy="282" r="1.2" fill="#E8141C"/><circle cx="465.7" cy="306.8" r="1.2" fill="#E8141C"/><circle cx="430.7" cy="261.3" r="1.2" fill="#E8141C"/><circle cx="446.3" cy="311.8" r="1.2" fill="#E8141C"/><circle cx="434.5" cy="307.9" r="1.2" fill="#E8141C"/><circle cx="469.7" cy="296.4" r="1.2" fill="#E8141C"/><circle cx="457" cy="256.6" r="1.2" fill="#E8141C"/><circle cx="432" cy="275.7" r="1.2" fill="#E8141C"/><circle cx="454.7" cy="309.8" r="1.2" fill="#E8141C"/><circle cx="457.9" cy="278.2" r="1.2" fill="#E8141C"/><circle cx="430.5" cy="309.6" r="1.2" fill="#E8141C"/><circle cx="479.5" cy="283.4" r="1.2" fill="#E8141C"/><circle cx="459.6" cy="334" r="1.7" fill="#E3A22A"/><circle cx="485.9" cy="251.3" r="1.7" fill="#E3A22A"/><circle cx="460.4" cy="332.9" r="1.7" fill="#E3A22A"/><circle cx="418.9" cy="297.5" r="1.7" fill="#E3A22A"/><circle cx="452.1" cy="326.3" r="1.7" fill="#E3A22A"/><circle cx="453.7" cy="310.2" r="1.7" fill="#E3A22A"/><circle cx="493.5" cy="279.3" r="1.7" fill="#E3A22A"/><circle cx="486.4" cy="326.5" r="1.7" fill="#E3A22A"/><circle cx="439.3" cy="230.7" r="1.7" fill="#E3A22A"/><circle cx="491.3" cy="306.3" r="1.7" fill="#E3A22A"/><circle cx="456.1" cy="237.9" r="1.7" fill="#E3A22A"/><circle cx="432.4" cy="244.4" r="1.7" fill="#E3A22A"/><circle cx="496.6" cy="253.8" r="1.7" fill="#E3A22A"/><circle cx="413.6" cy="300" r="1.7" fill="#E3A22A"/><circle cx="425.7" cy="281.7" r="1.7" fill="#E3A22A"/><circle cx="449.4" cy="242.2" r="1.7" fill="#E3A22A"/>
<path d="M455 197Q454 215.9 457.5 235.1Q463 216.4 464 197.4ZM412.1 213.9Q421.2 230.5 434.2 245Q429.1 226.2 419.9 209.5ZM503.2 209.1Q492 224.4 484.5 242.4Q499.3 229.7 510.4 214.3ZM381.1 252.6Q398.2 260.8 417.3 264.9Q402.1 252.7 384.9 244.4ZM526.3 236.8Q509.8 246.3 495.6 259.7Q514.3 254.1 530.7 244.6ZM384.3 297.5Q403.1 294.8 421.3 287.7Q401.9 285.9 383.1 288.5ZM529.9 280Q510.9 279.6 491.8 283.7Q510.7 288.6 529.7 289ZM400.4 337Q414.6 324.4 425.9 308.5Q408.7 317.7 394.4 330.2ZM526.3 330.8Q511.1 319.4 493.2 311.6Q505.7 326.6 520.9 338ZM462.5 348.4Q461.6 329.4 456.3 310.6Q452.6 329.8 453.5 348.8ZM404.8 247.2L421 255.8L409.2 241.8ZM455.5 243.6L457.2 261.9L462.5 244.4ZM448.8 297.1L456.8 280.6L443.2 292.9ZM482.2 297.8L465.5 290.4L478.2 303.6Z" fill="#F8D0F6" fill-opacity="0.5"/>
<path d="M462.5 197.4Q455 214.1 458.7 235.2M460.5 197.3Q457.4 214.2 457.9 235.2M458.5 197.1Q459.8 214.3 457.1 235.1M456.5 197Q462.2 214.5 456.3 235.1M418.6 210.3Q421 228.4 435.3 244.5M416.9 211.2Q423.2 227.3 434.6 244.8M415.1 212.2Q425.3 226.1 433.9 245.2M413.4 213.1Q427.4 225 433.2 245.6M509.2 213.5Q493.8 223.4 485.4 243.1M507.6 212.3Q495.8 224.8 484.8 242.7M506 211.1Q497.7 226.2 484.1 242.2M504.4 209.9Q499.7 227.7 483.5 241.7M384.3 245.8Q396.9 259.1 417.8 263.8M383.4 247.6Q397.9 257 417.4 264.6M382.6 249.4Q398.9 254.8 417.1 265.3M381.7 251.2Q400 252.6 416.8 266M530 243.3Q511.9 246.1 496.2 260.7M529 241.6Q513.1 248.2 495.8 260M528 239.8Q514.3 250.3 495.4 259.3M527 238.1Q515.5 252.3 495 258.6M383.3 290Q401.1 294.2 421.2 286.5M383.6 292Q400.8 291.8 421.3 287.3M383.8 294Q400.5 289.4 421.4 288.1M384.1 296Q400.1 287.1 421.5 288.9M529.7 287.5Q512.8 280.6 491.8 284.9M529.8 285.5Q512.7 283 491.8 284.1M529.8 283.5Q512.7 285.4 491.8 283.3M529.9 281.5Q512.6 287.8 491.8 282.5M395.4 331.3Q412.6 325 425.2 307.6M396.7 332.8Q411 323.2 425.7 308.2M398.1 334.4Q409.5 321.4 426.2 308.8M399.4 335.9Q407.9 319.6 426.7 309.4M521.8 336.8Q512.1 321.3 492.5 312.6M523 335.2Q510.6 323.2 492.9 311.9M524.2 333.6Q509.2 325.1 493.4 311.3M525.4 332Q507.8 327 493.9 310.7M455 348.7Q460.8 331.4 455.1 310.7M457 348.6Q458.4 331.5 455.9 310.7M459 348.6Q456 331.6 456.7 310.6M461 348.5Q453.6 331.7 457.5 310.6M408.6 242.5Q412.5 252.1 421 255.8M407 244.5Q414 250.1 421 255.8M405.4 246.5Q415.6 248.2 421 255.8M461.5 244.3Q455.6 252.7 457.2 261.9M459 244Q458.1 253 457.2 261.9M456.5 243.7Q460.6 253.2 457.2 261.9M444 293.5Q453.4 289.3 456.8 280.6M446 295Q451.4 287.8 456.8 280.6M448 296.5Q449.4 286.3 456.8 280.6M478.8 302.7Q474.3 293.5 465.5 290.4M480.2 300.7Q472.8 295.5 465.5 290.4M481.6 298.7Q471.4 297.6 465.5 290.4" stroke="#F0A8EE" stroke-width="0.7" fill="none" stroke-opacity="0.85"/>
<circle cx="459.5" cy="197.2" r="5.7" fill="url(#liball)"/>
<text x="459.5" y="199.7" text-anchor="middle" style="font-family:'Liberation Serif',serif;font-size:7.4px;font-weight:bold;stroke:#C8D4FF;stroke-width:0.5px;paint-order:stroke" fill="#101850">Li</text>
<circle cx="416" cy="211.7" r="5.7" fill="url(#liball)"/>
<text x="416" y="214.2" text-anchor="middle" style="font-family:'Liberation Serif',serif;font-size:7.4px;font-weight:bold;stroke:#C8D4FF;stroke-width:0.5px;paint-order:stroke" fill="#101850">Li</text>
<circle cx="506.8" cy="211.7" r="5.7" fill="url(#liball)"/>
<text x="506.8" y="214.2" text-anchor="middle" style="font-family:'Liberation Serif',serif;font-size:7.4px;font-weight:bold;stroke:#C8D4FF;stroke-width:0.5px;paint-order:stroke" fill="#101850">Li</text>
<circle cx="383" cy="248.5" r="5.7" fill="url(#liball)"/>
<text x="383" y="251" text-anchor="middle" style="font-family:'Liberation Serif',serif;font-size:7.4px;font-weight:bold;stroke:#C8D4FF;stroke-width:0.5px;paint-order:stroke" fill="#101850">Li</text>
<circle cx="528.5" cy="240.7" r="5.7" fill="url(#liball)"/>
<text x="528.5" y="243.2" text-anchor="middle" style="font-family:'Liberation Serif',serif;font-size:7.4px;font-weight:bold;stroke:#C8D4FF;stroke-width:0.5px;paint-order:stroke" fill="#101850">Li</text>
<circle cx="383.7" cy="293" r="5.7" fill="url(#liball)"/>
<text x="383.7" y="295.5" text-anchor="middle" style="font-family:'Liberation Serif',serif;font-size:7.4px;font-weight:bold;stroke:#C8D4FF;stroke-width:0.5px;paint-order:stroke" fill="#101850">Li</text>
<circle cx="529.8" cy="284.5" r="5.7" fill="url(#liball)"/>
<text x="529.8" y="287" text-anchor="middle" style="font-family:'Liberation Serif',serif;font-size:7.4px;font-weight:bold;stroke:#C8D4FF;stroke-width:0.5px;paint-order:stroke" fill="#101850">Li</text>
<circle cx="397.4" cy="333.6" r="5.7" fill="url(#liball)"/>
<text x="397.4" y="336.1" text-anchor="middle" style="font-family:'Liberation Serif',serif;font-size:7.4px;font-weight:bold;stroke:#C8D4FF;stroke-width:0.5px;paint-order:stroke" fill="#101850">Li</text>
<circle cx="523.6" cy="334.4" r="5.7" fill="url(#liball)"/>
<text x="523.6" y="336.9" text-anchor="middle" style="font-family:'Liberation Serif',serif;font-size:7.4px;font-weight:bold;stroke:#C8D4FF;stroke-width:0.5px;paint-order:stroke" fill="#101850">Li</text>
<circle cx="458" cy="348.6" r="5.7" fill="url(#liball)"/>
<text x="458" y="351.1" text-anchor="middle" style="font-family:'Liberation Serif',serif;font-size:7.4px;font-weight:bold;stroke:#C8D4FF;stroke-width:0.5px;paint-order:stroke" fill="#101850">Li</text>
<circle cx="407" cy="244.5" r="5.7" fill="url(#liball)"/>
<text x="407" y="247" text-anchor="middle" style="font-family:'Liberation Serif',serif;font-size:7.4px;font-weight:bold;stroke:#C8D4FF;stroke-width:0.5px;paint-order:stroke" fill="#101850">Li</text>
<circle cx="459" cy="244" r="5.7" fill="url(#liball)"/>
<text x="459" y="246.5" text-anchor="middle" style="font-family:'Liberation Serif',serif;font-size:7.4px;font-weight:bold;stroke:#C8D4FF;stroke-width:0.5px;paint-order:stroke" fill="#101850">Li</text>
<circle cx="446" cy="295" r="5.7" fill="url(#liball)"/>
<text x="446" y="297.5" text-anchor="middle" style="font-family:'Liberation Serif',serif;font-size:7.4px;font-weight:bold;stroke:#C8D4FF;stroke-width:0.5px;paint-order:stroke" fill="#101850">Li</text>
<circle cx="480.2" cy="300.7" r="5.7" fill="url(#liball)"/>
<text x="480.2" y="303.2" text-anchor="middle" style="font-family:'Liberation Serif',serif;font-size:7.4px;font-weight:bold;stroke:#C8D4FF;stroke-width:0.5px;paint-order:stroke" fill="#101850">Li</text>
<text x="421.8" y="341" textLength="75.6" lengthAdjust="spacingAndGlyphs" style="font-family:'Liberation Serif',serif;font-size:16.6px;font-weight:bold" fill="#000">PLSSCQD</text>
</svg></body></html>
